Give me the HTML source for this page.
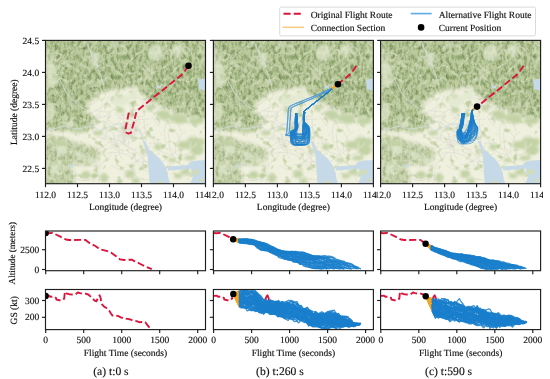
<!DOCTYPE html><html><head><meta charset="utf-8"><title>Flight routes</title>
<style>html,body{margin:0;padding:0;background:#fff;width:550px;height:379px;overflow:hidden}svg{display:block;text-rendering:geometricPrecision}</style></head><body>
<svg width="550" height="379" viewBox="0 0 550 379" font-family="'Liberation Serif', 'Times New Roman', serif" fill="#111">
<defs>
<g id="mapbase">
<defs>
<filter id="fhill" color-interpolation-filters="sRGB" filterUnits="userSpaceOnUse" x="-5" y="-5" width="170" height="155"><feGaussianBlur in="SourceGraphic" stdDeviation="2.2" result="h"/><feTurbulence type="turbulence" baseFrequency="0.075" numOctaves="2" seed="8" result="n1"/><feColorMatrix in="n1" type="matrix" values="0 0 0 0 0.86  0 0 0 0 0.89  0 0 0 0 0.78  -4 0 0 0 0.75" result="lt"/><feComposite in="lt" in2="h" operator="in" result="lti"/><feTurbulence type="fractalNoise" baseFrequency="0.32 0.2" numOctaves="3" seed="3" result="n2"/><feColorMatrix in="n2" type="matrix" values="0 0 0 0 0.46  0 0 0 0 0.56  0 0 0 0 0.34  2.2 0 0 0 -0.86" result="dk"/><feComposite in="dk" in2="h" operator="in" result="dki"/><feMerge result="m"><feMergeNode in="h"/><feMergeNode in="dki"/><feMergeNode in="lti"/></feMerge><feGaussianBlur in="m" stdDeviation="0.45"/></filter>
<filter id="fspk" color-interpolation-filters="sRGB" filterUnits="userSpaceOnUse" x="0" y="0" width="160" height="144"><feTurbulence type="fractalNoise" baseFrequency="0.13" numOctaves="2" seed="21" result="n"/><feColorMatrix in="n" type="matrix" values="0 0 0 0 0.74  0 0 0 0 0.81  0 0 0 0 0.62  4.5 0 0 0 -2.5"/><feGaussianBlur stdDeviation="0.5"/></filter>
<filter id="fb" filterUnits="userSpaceOnUse" x="-5" y="-5" width="170" height="155"><feGaussianBlur stdDeviation="1.6"/></filter>
<filter id="fw" filterUnits="userSpaceOnUse" x="-5" y="-5" width="170" height="155"><feGaussianBlur stdDeviation="0.6"/></filter>
</defs>
<rect x="0" y="0" width="160" height="143.3" fill="#f0f0df"/>
<rect x="0" y="0" width="160" height="143.3" filter="url(#fspk)"/>
<g fill="none" stroke="#d6d7cd" stroke-width="0.55" opacity="0.9">
<polyline points="109.4,56.8 113.8,58.8 120.1,64.4 123.0,67.5"/>
<polyline points="104.8,104.6 101.8,112.8 99.2,115.8 90.7,120.3 86.6,123.6 80.0,124.5"/>
<polyline points="135.4,108.3 125.5,114.6 119.1,120.1 110.6,122.8 102.0,121.8 97.9,120.2"/>
<polyline points="58.0,80.4 63.4,84.8 72.0,91.2 78.7,92.7"/>
<polyline points="113.3,117.1 109.8,121.1 105.4,124.1"/>
<polyline points="76.9,142.7 70.3,151.1 65.4,154.3 62.7,160.3"/>
<polyline points="63.0,73.4 56.0,77.4 46.9,78.0 42.4,80.4 34.3,82.0"/>
<polyline points="122.9,92.7 123.8,104.7 124.1,109.4 126.8,113.4 131.4,122.7"/>
<polyline points="82.3,60.3 86.2,71.4 85.8,75.4 82.4,84.3 80.0,89.9 77.4,94.0"/>
<polyline points="83.8,95.0 74.6,90.9 70.2,88.8 61.2,82.9 56.6,79.8"/>
<polyline points="76.2,69.0 68.3,69.2 62.3,72.5"/>
<polyline points="152.7,126.4 156.8,137.2 162.8,142.3 172.7,144.3"/>
<polyline points="125.2,66.0 129.1,76.3 131.6,81.4 135.5,90.5"/>
<polyline points="54.6,82.3 46.5,83.1 41.6,86.1 35.1,91.9 32.3,97.0"/>
<polyline points="38.4,110.8 40.2,114.9 46.5,121.9"/>
<polyline points="56.3,66.4 49.5,70.2 45.6,73.0 39.4,75.8 30.1,81.4 25.7,89.5"/>
<polyline points="110.3,60.0 108.0,65.0 105.5,72.0"/>
<polyline points="64.3,76.8 53.6,75.4 44.9,78.6 41.0,79.9 34.0,87.0 30.7,93.5"/>
<polyline points="89.7,131.6 79.0,136.7 71.3,143.6 66.1,148.8"/>
<polyline points="149.2,143.2 150.7,149.4 147.9,157.6 144.3,166.9 145.6,175.4 147.3,186.1"/>
<polyline points="49.2,140.1 53.6,138.9 60.7,140.1 67.2,145.6"/>
<polyline points="101.9,58.1 105.9,62.1 108.9,67.2 114.6,74.6 119.7,78.7"/>
<polyline points="123.5,61.1 126.9,65.6 136.1,72.5"/>
<polyline points="139.6,132.9 143.5,140.2 151.3,149.2 154.2,156.9"/>
<polyline points="113.0,104.0 108.2,102.4 103.4,103.1"/>
<polyline points="98.7,78.8 98.9,87.9 101.3,95.4 99.4,106.0 101.7,113.1"/>
<polyline points="64.1,54.9 60.8,61.7 55.4,68.2 52.8,79.5 50.5,84.2"/>
<polyline points="98.6,92.9 107.1,98.8 112.7,108.5 117.3,112.3 127.3,114.5"/>
<polyline points="140.0,90.8 135.4,94.5 130.6,103.7 129.9,110.9"/>
<polyline points="51.9,136.9 41.6,140.3 35.4,140.0 31.0,138.1 23.7,130.0 14.5,124.9"/>
<polyline points="87.0,81.8 81.8,89.4 79.0,95.0 79.4,105.2"/>
<polyline points="73.4,99.9 69.0,102.2 63.6,101.7 58.7,98.1 51.3,96.8"/>
<polyline points="120.6,82.5 118.9,91.0 119.8,100.6"/>
<polyline points="29.7,137.0 29.9,141.5 28.9,148.1 29.6,158.9"/>
<polyline points="119.5,81.3 126.4,87.9 130.1,92.0 133.8,98.0 135.1,103.3 136.3,110.4"/>
<polyline points="55.8,124.5 53.6,131.7 54.0,139.5 49.7,148.9 49.5,153.6"/>
<polyline points="93.9,110.9 95.7,116.5 98.3,119.7 104.8,124.1"/>
<polyline points="81.3,110.6 86.2,114.0 89.0,116.9 93.7,125.9 99.7,130.2 111.1,132.9"/>
<polyline points="94.2,59.1 102.0,66.0 109.1,75.6"/>
<polyline points="103.9,139.2 95.6,138.7 87.0,133.6 81.7,130.7 72.7,128.9 65.6,124.9"/>
<polyline points="107.8,79.0 114.5,78.5 118.8,80.3 125.9,80.2 131.0,77.7"/>
<polyline points="81.4,84.0 84.6,90.6 84.4,99.3"/>
<polyline points="116.4,130.8 108.1,138.8 104.3,144.8 95.1,150.3 86.4,154.9 75.3,156.4"/>
<polyline points="90.5,78.9 92.8,88.1 94.6,93.0 96.6,97.7 97.6,101.8 100.7,109.7"/>
<polyline points="32.9,111.8 39.0,112.1 46.5,110.8 56.8,107.0 66.3,100.2 74.3,93.2"/>
<polyline points="88.3,121.3 92.8,120.5 96.8,122.1 102.7,121.0 111.4,123.0"/>
<polyline points="59.3,96.7 65.1,98.6 73.8,100.0 81.1,106.4"/>
<polyline points="126.7,69.2 127.4,77.8 124.6,84.2"/>
<polyline points="103.5,128.5 106.8,136.7 115.7,144.6 119.0,150.5 122.8,156.3"/>
<polyline points="92.7,85.0 85.9,94.4 78.4,101.9 71.9,105.8 60.6,108.7 51.6,114.0"/>
<polyline points="96.8,97.6 99.2,103.1 98.5,109.3 98.1,119.3 96.8,128.5"/>
<polyline points="71.5,98.6 79.7,105.1 89.4,110.2 94.1,114.3 105.5,115.9 114.7,112.5"/>
<polyline points="90.6,122.1 88.5,125.6 86.4,132.6 86.6,141.9 88.0,150.2 92.3,161.4"/>
<polyline points="98.3,85.9 100.4,90.4 104.0,93.8 111.1,101.1 116.3,103.4"/>
<polyline points="90.0,119.1 80.7,113.9 74.0,112.2 64.4,112.0 60.4,113.8"/>
<polyline points="147.5,111.4 139.4,114.1 132.4,116.8"/>
<polyline points="52.5,59.2 48.9,61.9 42.1,67.2 37.4,69.4 25.8,70.1 20.7,73.2"/>
<polyline points="99.3,91.6 95.1,97.3 89.3,100.1 82.3,102.6"/>
<polyline points="100.6,60.0 95.4,57.7 86.1,57.1"/>
<polyline points="49.1,70.1 58.6,71.3 62.8,71.6"/>
<polyline points="65.5,79.8 54.4,82.2 45.5,81.0"/>
<polyline points="112.1,137.7 112.8,148.9 111.3,153.3 111.7,159.7"/>
<polyline points="123.1,105.3 127.3,110.2 131.8,114.4"/>
<polyline points="64.0,81.9 69.5,83.2 73.9,83.2 81.3,86.7"/>
<polyline points="72.0,77.6 78.3,78.6"/>
<polyline points="83.1,81.4 76.7,87.5 72.4,91.8"/>
<polyline points="82.1,88.2 76.7,93.1 71.4,98.8"/>
<polyline points="84.3,88.6 92.3,90.9 95.6,93.2"/>
<polyline points="72.6,85.4 77.2,90.9 79.3,95.4"/>
<polyline points="88.1,79.9 84.7,86.1 83.5,90.7 81.6,97.2"/>
<polyline points="103.0,83.5 96.1,88.0 89.8,92.1 85.2,95.0"/>
<polyline points="85.4,83.7 85.9,90.2 83.3,98.1 82.7,106.0"/>
<polyline points="89.6,79.8 97.7,78.8 105.0,78.4"/>
<polyline points="63.5,88.4 67.4,92.7 69.9,100.7 69.0,105.8"/>
<polyline points="84.1,76.5 89.1,83.5 95.2,90.1 98.3,96.6"/>
<polyline points="82.6,83.5 84.9,87.3 85.5,91.3"/>
<polyline points="98.4,65.4 104.1,65.3 111.2,66.6"/>
<polyline points="90.8,68.7 84.4,72.8 76.4,75.4 73.3,78.4"/>
<polyline points="112.9,68.1 120.7,67.8"/>
<polyline points="82.3,88.2 85.2,93.0"/>
<polyline points="68.5,92.8 68.3,100.3 69.8,104.9 70.9,110.7"/>
<polyline points="60.6,84.8 60.8,91.1 59.6,99.5"/>
<polyline points="73.0,96.8 81.9,96.5 90.5,94.5"/>
<polyline points="66.7,86.9 62.5,89.9"/>
<polyline points="67.2,111.1 62.5,118.0 55.8,123.7 48.3,125.9"/>
<polyline points="93.5,74.7 93.2,79.8 94.5,84.9"/>
<polyline points="78.5,69.6 77.9,76.8 78.6,83.0 78.9,90.6"/>
<polyline points="70.9,100.5 72.4,108.8 74.4,115.0 76.9,119.1"/>
<polyline points="106.0,75.6 110.7,82.1 113.3,85.6"/>
<polyline points="79.3,99.4 74.3,102.5 70.4,103.6 64.3,105.1"/>
<polyline points="69.0,72.9 74.4,76.3"/>
<polyline points="86.5,81.5 85.8,89.6 83.2,94.4 81.3,98.7"/>
<polyline points="71.8,95.6 76.4,94.8 83.6,93.3 92.4,93.7"/>
<polyline points="76.2,78.8 71.0,83.6 65.8,85.3"/>
<polyline points="79.2,95.2 77.3,103.9"/>
<polyline points="90.6,76.3 99.4,75.7"/>
<polyline points="78.9,80.7 78.1,89.5 80.1,94.8 79.2,102.7"/>
<polyline points="83.8,73.5 82.8,79.0"/>
<polyline points="77.2,84.2 75.7,89.2 76.0,96.5 78.0,100.1"/>
<polyline points="77.3,93.4 78.4,101.1"/>
<polyline points="76.1,73.2 80.5,77.8"/>
<polyline points="62.0,73.9 65.1,76.9"/>
<polyline points="61.6,93.4 58.3,96.3 55.3,102.7"/>
<polyline points="73.8,98.6 78.8,103.0 84.3,107.4 91.5,109.5"/>
<polyline points="64.5,70.7 64.8,76.8"/>
<polyline points="60.9,94.2 64.7,97.8 67.4,104.8 69.0,108.9"/>
</g>
<g filter="url(#fhill)" fill="#bccb9d">
<polygon points="-5.5,-5.4 164.5,-5.4 164.5,78.6 149.5,76.6 134.5,72.6 122.5,67.6 112.5,63.6 104.5,59.6 98.5,54.6 94.2,47.6 87.5,45.6 79.5,47.2 65.0,49.4 54.8,51.6 47.5,57.4 41.7,63.2 38.8,71.6 46.0,74.6 46.5,81.6 47.5,87.6 34.5,90.1 14.5,89.6 -5.5,89.6"/>
</g>
<g filter="url(#fhill)" fill="#bccb9d" opacity="0.72">
<polygon points="-5.5,96.6 9.5,96.6 22.5,99.6 32.5,103.6 44.5,106.6 52.5,109.6 53.5,117.6 49.5,122.6 39.5,124.6 29.5,122.6 24.5,127.6 26.5,143.6 -5.5,149.6"/>
<polygon points="-5.5,117.6 14.5,119.6 26.5,127.6 28.5,149.6 -5.5,149.6"/>
</g>
<g filter="url(#fb)" fill="#c3d3a6">
<ellipse cx="58.5" cy="137.6" rx="4" ry="5"/>
<ellipse cx="117.5" cy="73.6" rx="7" ry="4"/>
<ellipse cx="132.5" cy="77.6" rx="9" ry="4"/>
<ellipse cx="150.5" cy="80.6" rx="8" ry="3.5"/>
<ellipse cx="104.5" cy="67.6" rx="4" ry="3"/>
<ellipse cx="139.5" cy="131.6" rx="5" ry="3"/>
<ellipse cx="132.5" cy="135.6" rx="4" ry="2.5"/>
<ellipse cx="144.5" cy="117.6" rx="6" ry="2.5"/>
<ellipse cx="126.5" cy="119.6" rx="4" ry="2"/>
<ellipse cx="84.5" cy="133.6" rx="5" ry="4"/>
<ellipse cx="90.5" cy="140.6" rx="4" ry="3"/>
<ellipse cx="14.5" cy="102.6" rx="7" ry="3"/>
<ellipse cx="40.5" cy="134.6" rx="5" ry="4"/>
<ellipse cx="32.5" cy="89.6" rx="6" ry="3"/>
<ellipse cx="52.5" cy="92.6" rx="5" ry="2.5"/>
<ellipse cx="138.5" cy="104.6" rx="7" ry="4"/>
<ellipse cx="151.5" cy="109.6" rx="7" ry="5"/>
<ellipse cx="146.5" cy="99.6" rx="5" ry="3"/>
<ellipse cx="154.5" cy="101.6" rx="5" ry="4"/>
<ellipse cx="119.5" cy="75.6" rx="6" ry="4"/>
<ellipse cx="134.5" cy="80.6" rx="6" ry="3"/>
<ellipse cx="112.5" cy="106.6" rx="4" ry="3"/>
<ellipse cx="74.5" cy="69.6" rx="4" ry="3"/>
</g>
<g filter="url(#fb)" fill="#dfe7cc">
<ellipse cx="4.5" cy="29.6" rx="6" ry="9" fill-opacity="0.75"/>
<ellipse cx="6.5" cy="41.6" rx="5" ry="5" fill-opacity="0.75"/>
<ellipse cx="4.5" cy="71.6" rx="5" ry="10" fill-opacity="0.75"/>
<ellipse cx="110.5" cy="12.6" rx="8" ry="8" fill-opacity="0.75"/>
<ellipse cx="74.5" cy="59.6" rx="10" ry="6" fill-opacity="0.75"/>
<ellipse cx="87.5" cy="54.6" rx="5" ry="5" fill-opacity="0.75"/>
<ellipse cx="24.5" cy="83.6" rx="8" ry="3" fill-opacity="0.75"/>
<ellipse cx="49.5" cy="19.6" rx="4" ry="8" fill-opacity="0.75"/>
<ellipse cx="132.5" cy="9.6" rx="5" ry="6" fill-opacity="0.75"/>
<ellipse cx="16.5" cy="109.6" rx="6" ry="4" fill-opacity="0.75"/>
<ellipse cx="34.5" cy="114.6" rx="5" ry="4" fill-opacity="0.75"/>
<ellipse cx="9.5" cy="129.6" rx="5" ry="5" fill-opacity="0.75"/>
<ellipse cx="44.5" cy="119.6" rx="5" ry="3" fill-opacity="0.75"/>
</g>
<g fill="none" stroke="#d3dcdc" stroke-width="0.9" stroke-linejoin="round" opacity="0.9">
<polyline points="-5.5,91.6 4.5,89.6 18.5,85.6 28.0,88.6 37.5,87.6 48.9,85.6 52.5,90.6 58.5,88.6 69.5,84.6 79.5,82.6 89.5,85.6 94.2,90.6 98.5,99.6"/>
<polyline points="39.5,-2.4 43.5,7.6 47.5,17.6 51.5,25.6 55.5,35.6 58.5,45.6"/>
<polyline points="14.5,39.6 20.5,51.6 26.5,59.6 34.5,65.6 40.5,69.6"/>
</g>
<g filter="url(#fw)" fill="#c6d9e8">
<polygon points="98.0,100.6 100.0,101.1 102.0,105.6 104.0,109.6 106.5,112.1 110.0,114.6 113.5,117.6 116.5,121.1 119.0,124.6 120.5,128.6 122.1,133.2 123.3,139.2 124.5,143.6 126.5,149.6 102.5,149.6 104.1,142.2 103.5,135.6 103.1,129.6 102.9,123.6 102.3,116.6 101.0,110.6 99.5,105.6 97.5,101.6"/>
<polygon points="144.9,121.1 152.5,120.1 160.5,119.6 164.5,119.6 164.5,149.6 144.5,149.6 145.5,141.6 147.5,135.6 145.5,129.6 143.5,124.6"/>
<polygon points="122.5,126.1 130.5,125.6 138.5,125.1 144.5,124.1 144.5,128.1 136.5,129.1 129.5,129.6 122.5,130.1"/>
<polygon points="152.5,39.6 160.5,37.6 160.5,50.6 153.5,48.6"/>
<polygon points="111.2,45.9 115.5,45.4 115.5,48.1 111.5,48.2"/>
<polygon points="24.5,124.1 27.5,123.6 27.5,126.6 24.5,126.6"/>
</g>
<g fill="#cfdcbc">
<ellipse cx="150.5" cy="131.6" rx="3.5" ry="3"/>
<ellipse cx="155.5" cy="139.6" rx="3" ry="1.5"/>
<ellipse cx="114.5" cy="141.6" rx="3" ry="1.5"/>
</g>
</g>
<clipPath id="cm0"><rect x="45.5" y="40.4" width="160.0" height="143.30"/></clipPath>
<clipPath id="ca0"><rect x="45.5" y="231.0" width="160.0" height="39.70"/></clipPath>
<clipPath id="cg0"><rect x="45.5" y="289.5" width="160.0" height="40.10"/></clipPath>
<clipPath id="cm1"><rect x="213.4" y="40.4" width="160.0" height="143.30"/></clipPath>
<clipPath id="ca1"><rect x="213.4" y="231.0" width="160.0" height="39.70"/></clipPath>
<clipPath id="cg1"><rect x="213.4" y="289.5" width="160.0" height="40.10"/></clipPath>
<clipPath id="cm2"><rect x="380.6" y="40.4" width="160.0" height="143.30"/></clipPath>
<clipPath id="ca2"><rect x="380.6" y="231.0" width="160.0" height="39.70"/></clipPath>
<clipPath id="cg2"><rect x="380.6" y="289.5" width="160.0" height="40.10"/></clipPath>
</defs>
<g clip-path="url(#cm0)"><use href="#mapbase" x="45.5" y="40.4"/></g>
<g clip-path="url(#cm1)"><use href="#mapbase" x="213.4" y="40.4"/></g>
<g clip-path="url(#cm2)"><use href="#mapbase" x="380.6" y="40.4"/></g>
<g clip-path="url(#cm0)">
<polyline points="188.5,65.8 185.0,70.8 181.7,74.8 165.0,88.2 154.6,96.6 138.1,109.8 136.1,113.1 134.1,121.7 132.2,128.3 130.8,132.9 128.2,133.5 125.6,132.2 125.6,128.3 127.5,119.0 128.9,112.4" fill="none" stroke="#dc143c" stroke-width="1.9" stroke-linejoin="round" stroke-dasharray="7,3"/>
</g>
<g clip-path="url(#cm1)">
<polyline points="356.4,65.8 352.9,70.8 349.6,74.8 338.0,84.1" fill="none" stroke="#dc143c" stroke-width="1.9" stroke-linejoin="round" stroke-dasharray="7,3"/>
</g>
<g clip-path="url(#cm2)">
<polyline points="523.6,65.8 520.1,70.8 516.8,74.8 500.1,88.2 489.7,96.6 477.1,106.7" fill="none" stroke="#dc143c" stroke-width="1.9" stroke-linejoin="round" stroke-dasharray="7,3"/>
</g>
<g clip-path="url(#cm1)">
<polyline points="332.0,88.2 329.5,89.3 325.9,90.9 321.7,92.8 317.2,94.7 313.0,96.5 308.6,98.3 303.8,100.3 299.1,102.1 294.9,103.8 291.8,105.3 289.9,106.2 289.1,106.8 288.8,107.2 288.8,107.8 288.6,108.8 288.3,110.2 288.1,112.0 288.0,113.9 287.9,116.0 287.8,118.0 287.6,120.2 287.4,122.6 287.3,125.0 287.1,127.2 287.0,129.0 286.8,130.4 286.7,131.4 286.6,132.2 286.5,132.9 286.4,133.5 286.1,134.0 285.8,134.3 285.5,134.5 285.3,134.6 285.5,134.8 286.1,135.0 286.9,135.3 288.0,135.5 289.0,135.6 290.0,135.5 290.9,135.3 291.8,134.9 292.6,134.4 293.4,133.8 294.0,133.0 294.5,132.0 294.9,130.9 295.2,129.6 295.4,128.3 295.6,127.0 295.8,125.7 295.9,124.3 295.9,122.8 295.9,121.4 296.0,120.0 296.1,118.5 296.1,117.0 296.2,115.5 296.3,114.3 296.3,113.4" fill="none" stroke="#4a9ad8" stroke-width="1.0" stroke-linejoin="round" stroke-opacity="0.6"/>
<polyline points="332.0,88.6 329.4,89.9 325.8,91.8 321.6,94.0 317.2,96.2 313.0,98.2 308.8,100.1 304.3,102.0 299.9,103.8 296.0,105.4 293.2,106.7 291.6,107.4 291.0,107.7 290.9,107.8 291.0,108.0 290.9,108.8 290.7,110.2 290.5,111.9 290.4,113.9 290.3,115.9 290.1,118.0 290.0,120.2 289.8,122.6 289.7,125.0 289.5,127.2 289.3,129.0 289.3,130.4 289.2,131.4 289.2,132.2 289.0,132.9 288.7,133.5 288.1,134.0 287.3,134.3 286.4,134.5 285.7,134.6 285.5,134.8 285.9,135.0 286.8,135.3 287.9,135.5 289.0,135.6 290.0,135.5 290.9,135.3 291.8,134.9 292.6,134.4 293.4,133.8 294.0,133.0 294.5,132.0 294.9,130.9 295.2,129.6 295.4,128.3 295.6,127.0 295.8,125.7 295.9,124.3 295.9,122.8 295.9,121.4 296.0,120.0 296.1,118.5 296.1,117.0 296.2,115.5 296.3,114.3 296.3,113.4" fill="none" stroke="#4a9ad8" stroke-width="1.0" stroke-linejoin="round" stroke-opacity="0.6"/>
<polyline points="332.0,88.2 329.5,89.3 325.9,90.9 321.7,92.8 317.2,94.8 313.0,96.6 308.6,98.4 303.8,100.3 299.1,102.2 294.9,103.9 291.8,105.3 290.0,106.3 289.2,106.8 288.9,107.2 288.9,107.8 288.7,108.8 288.4,110.2 288.2,112.0 288.1,113.9 288.0,116.0 287.9,118.0 287.7,120.2 287.5,122.6 287.4,125.0 287.2,127.2 287.1,129.0 287.0,130.4 286.8,131.4 286.7,132.2 286.6,132.9 286.5,133.5 286.2,134.0 285.9,134.3 285.5,134.5 285.4,134.6 285.5,134.8 286.1,135.0 286.9,135.3 288.0,135.5 289.0,135.6 290.0,135.5 290.9,135.3 291.8,134.9 292.6,134.4 293.4,133.8 294.0,133.0 294.5,132.0 294.9,130.9 295.2,129.6 295.4,128.3 295.6,127.0 295.8,125.7 295.9,124.3 295.9,122.8 295.9,121.4 296.0,120.0 296.1,118.5 296.1,117.0 296.2,115.5 296.3,114.3 296.3,113.4" fill="none" stroke="#4a9ad8" stroke-width="1.0" stroke-linejoin="round" stroke-opacity="0.6"/>
<polyline points="332.0,88.7 329.4,90.0 325.8,91.9 321.6,94.1 317.2,96.3 313.0,98.3 308.8,100.2 304.3,102.1 299.9,103.9 296.1,105.5 293.3,106.8 291.7,107.5 291.1,107.7 291.0,107.8 291.1,108.0 291.1,108.8 290.8,110.2 290.6,111.9 290.5,113.8 290.4,115.9 290.3,118.0 290.1,120.2 289.9,122.6 289.8,125.0 289.6,127.2 289.5,129.0 289.4,130.4 289.3,131.4 289.3,132.2 289.2,132.9 288.9,133.5 288.2,134.0 287.3,134.3 286.4,134.5 285.7,134.6 285.5,134.8 285.9,135.0 286.8,135.3 287.9,135.5 289.0,135.6 290.0,135.5 290.9,135.3 291.8,134.9 292.6,134.4 293.4,133.8 294.0,133.0 294.5,132.0 294.9,130.9 295.2,129.6 295.4,128.3 295.6,127.0 295.8,125.7 295.9,124.3 295.9,122.8 295.9,121.4 296.0,120.0 296.1,118.5 296.1,117.0 296.2,115.5 296.3,114.3 296.3,113.4" fill="none" stroke="#4a9ad8" stroke-width="1.0" stroke-linejoin="round" stroke-opacity="0.6"/>
<polyline points="332.0,88.2 329.5,89.3 325.9,90.9 321.7,92.8 317.2,94.8 313.0,96.6 308.6,98.4 303.8,100.3 299.1,102.2 294.9,103.9 291.8,105.3 290.0,106.2 289.1,106.8 288.9,107.2 288.8,107.8 288.6,108.8 288.3,110.2 288.2,112.0 288.1,113.9 288.0,116.0 287.8,118.0 287.7,120.2 287.5,122.6 287.3,125.0 287.2,127.2 287.0,129.0 286.9,130.4 286.8,131.4 286.7,132.2 286.6,132.9 286.4,133.5 286.2,134.0 285.8,134.3 285.5,134.5 285.3,134.6 285.5,134.8 286.1,135.0 286.9,135.3 288.0,135.5 289.0,135.6 290.0,135.5 290.9,135.3 291.8,134.9 292.6,134.4 293.4,133.8 294.0,133.0 294.5,132.0 294.9,130.9 295.2,129.6 295.4,128.3 295.6,127.0 295.8,125.7 295.9,124.3 295.9,122.8 295.9,121.4 296.0,120.0 296.1,118.5 296.1,117.0 296.2,115.5 296.3,114.3 296.3,113.4" fill="none" stroke="#4a9ad8" stroke-width="1.0" stroke-linejoin="round" stroke-opacity="0.6"/>
<polyline points="332.0,88.7 329.4,90.0 325.8,91.9 321.6,94.0 317.2,96.3 313.0,98.3 308.8,100.1 304.3,102.1 299.9,103.9 296.1,105.5 293.3,106.8 291.7,107.5 291.0,107.7 291.0,107.8 291.1,108.0 291.1,108.8 290.8,110.2 290.6,111.9 290.5,113.8 290.4,115.9 290.3,118.0 290.1,120.2 289.9,122.6 289.8,125.0 289.6,127.2 289.5,129.0 289.4,130.4 289.3,131.4 289.3,132.2 289.1,132.9 288.9,133.5 288.2,134.0 287.3,134.3 286.4,134.5 285.7,134.6 285.5,134.8 285.9,135.0 286.8,135.3 287.9,135.5 289.0,135.6 290.0,135.5 290.9,135.3 291.8,134.9 292.6,134.4 293.4,133.8 294.0,133.0 294.5,132.0 294.9,130.9 295.2,129.6 295.4,128.3 295.6,127.0 295.8,125.7 295.9,124.3 295.9,122.8 295.9,121.4 296.0,120.0 296.1,118.5 296.1,117.0 296.2,115.5 296.3,114.3 296.3,113.4" fill="none" stroke="#4a9ad8" stroke-width="1.0" stroke-linejoin="round" stroke-opacity="0.6"/>
<polyline points="332.9,88.2 331.6,89.3 329.8,90.7 327.6,92.5 325.1,94.5 322.5,96.6 319.3,99.1 315.6,102.0 311.8,105.0 308.4,107.7 306.0,109.8 304.8,111.0 304.4,111.6 304.5,111.9 304.7,112.3 304.7,113.1 304.4,114.4 304.1,116.0 303.8,117.7 303.6,119.4 303.3,121.0 303.2,122.4 303.0,123.7 302.9,124.9 302.8,126.3 302.7,127.9 302.7,129.9 302.8,132.1 302.8,134.4 302.8,136.5 302.7,138.2 302.4,139.3 302.0,140.0 301.5,140.5 301.1,140.9 300.7,141.2 300.4,141.4 300.2,141.6 300.1,141.6 299.9,141.6 299.7,141.6 299.4,141.6 299.1,141.6 298.8,141.6 298.4,141.4 298.1,141.2 297.8,140.8 297.5,140.3 297.1,139.7 296.8,139.0 296.6,138.2 296.5,137.1 296.5,135.8 296.6,134.4 296.6,133.1 296.6,132.0 296.6,131.3 296.6,130.9 296.5,130.5 296.5,129.9 296.5,129.0 296.5,127.6 296.5,125.7 296.5,123.7 296.5,121.8 296.5,120.0 296.5,118.4 296.4,116.7 296.4,115.2 296.4,113.9 296.4,113.0" fill="none" stroke="#1a7fcc" stroke-width="1.0" stroke-linejoin="round" stroke-opacity="0.6"/>
<polyline points="332.9,88.2 331.6,89.3 329.8,90.7 327.6,92.5 325.1,94.5 322.5,96.6 319.4,99.1 315.6,102.0 311.9,105.0 308.5,107.7 306.0,109.8 304.6,111.0 304.0,111.6 303.9,111.9 303.9,112.3 303.9,113.1 303.7,114.4 303.6,115.9 303.5,117.6 303.5,119.3 303.5,121.0 303.6,122.6 303.8,124.3 304.0,126.0 304.1,127.6 304.2,129.2 304.3,130.9 304.4,132.7 304.4,134.4 304.4,135.9 304.2,137.2 304.0,138.1 303.6,138.9 303.2,139.4 302.7,139.8 302.2,140.2 301.7,140.4 301.1,140.6 300.5,140.6 299.9,140.6 299.2,140.6 298.5,140.6 297.8,140.6 297.0,140.6 296.3,140.4 295.7,140.2 295.3,139.8 294.9,139.3 294.6,138.7 294.4,138.0 294.2,137.2 294.1,136.3 294.1,135.2 294.1,134.0 294.2,132.9 294.2,132.0 294.3,131.4 294.5,130.9 294.6,130.5 294.7,129.9 294.8,129.0 294.9,127.6 294.8,125.7 294.8,123.7 294.8,121.8 294.8,120.0 295.0,118.4 295.2,116.7 295.5,115.2 295.7,113.9 295.9,113.0" fill="none" stroke="#1a7fcc" stroke-width="1.0" stroke-linejoin="round" stroke-opacity="0.6"/>
<polyline points="332.9,88.2 331.6,89.3 329.8,90.7 327.6,92.5 325.1,94.5 322.5,96.6 319.4,99.1 315.6,102.0 311.8,105.0 308.4,107.7 306.0,109.8 304.7,111.0 304.2,111.6 304.2,111.9 304.4,112.3 304.3,113.1 304.0,114.4 303.6,116.0 303.3,117.8 303.2,119.5 303.4,121.0 304.0,122.1 305.0,122.9 306.1,123.8 307.2,124.9 307.9,126.5 308.2,129.0 308.3,132.3 308.2,135.7 308.1,138.9 307.9,141.2 307.6,142.6 307.3,143.4 306.9,143.8 306.4,144.0 305.9,144.2 305.2,144.5 304.4,144.6 303.5,144.7 302.7,144.6 301.8,144.6 300.8,144.6 299.8,144.7 298.8,144.6 297.9,144.5 297.2,144.2 296.7,143.9 296.3,143.5 296.0,143.0 295.8,142.3 295.7,141.2 295.6,139.7 295.6,137.7 295.6,135.5 295.7,133.5 295.7,132.0 295.6,131.1 295.5,130.6 295.4,130.3 295.2,129.9 295.2,129.0 295.1,127.6 295.1,125.7 295.1,123.7 295.1,121.8 295.2,120.0 295.3,118.4 295.5,116.7 295.7,115.2 295.8,113.9 296.0,113.0" fill="none" stroke="#1a7fcc" stroke-width="1.0" stroke-linejoin="round" stroke-opacity="0.6"/>
<polyline points="332.9,88.2 331.6,89.3 329.8,90.7 327.6,92.5 325.1,94.5 322.5,96.6 319.3,99.1 315.6,102.0 311.8,105.0 308.4,107.7 306.0,109.8 304.8,111.0 304.4,111.6 304.4,111.9 304.7,112.3 304.6,113.1 304.3,114.4 303.9,115.9 303.5,117.6 303.4,119.3 303.5,121.0 304.2,122.6 305.4,124.2 306.6,125.8 307.8,127.5 308.6,129.4 309.0,131.6 309.1,134.2 309.0,136.7 308.8,139.0 308.6,140.8 308.4,142.0 308.2,142.8 307.8,143.2 307.3,143.6 306.6,143.8 305.6,144.1 304.4,144.2 303.0,144.3 301.6,144.3 300.3,144.2 298.8,144.3 297.3,144.3 295.8,144.2 294.4,144.1 293.4,143.8 292.7,143.5 292.3,143.1 292.1,142.6 292.0,141.9 291.9,140.8 291.7,139.4 291.5,137.5 291.4,135.4 291.5,133.5 291.9,132.0 292.7,131.1 294.0,130.7 295.3,130.4 296.5,129.9 297.4,129.0 297.7,127.6 297.8,125.7 297.7,123.7 297.5,121.8 297.4,120.0 297.2,118.4 297.1,116.7 296.9,115.2 296.7,113.9 296.6,113.0" fill="none" stroke="#1a7fcc" stroke-width="1.0" stroke-linejoin="round" stroke-opacity="0.6"/>
<polyline points="332.9,88.2 331.6,89.3 329.8,90.7 327.6,92.5 325.1,94.5 322.5,96.6 319.4,99.1 315.6,102.0 311.8,105.0 308.4,107.7 306.0,109.8 304.7,111.0 304.2,111.6 304.2,111.9 304.4,112.3 304.4,113.1 304.3,114.4 304.2,115.9 304.2,117.6 304.2,119.3 304.4,121.0 304.6,122.7 305.1,124.4 305.6,126.0 306.0,127.7 306.3,129.2 306.4,130.6 306.5,131.9 306.5,133.2 306.4,134.3 306.3,135.3 306.1,136.1 305.8,136.9 305.4,137.4 304.9,137.9 304.3,138.3 303.4,138.6 302.4,138.7 301.3,138.7 300.2,138.7 299.1,138.7 297.9,138.7 296.6,138.7 295.3,138.7 294.2,138.6 293.3,138.3 292.7,137.9 292.4,137.3 292.1,136.6 292.0,136.0 291.8,135.3 291.6,134.7 291.5,134.0 291.4,133.3 291.5,132.6 291.8,132.0 292.7,131.5 293.9,131.1 295.2,130.6 296.4,130.0 297.2,129.0 297.6,127.6 297.7,125.7 297.6,123.7 297.4,121.8 297.2,120.0 297.1,118.4 297.0,116.7 296.8,115.2 296.7,113.9 296.6,113.0" fill="none" stroke="#1a7fcc" stroke-width="1.0" stroke-linejoin="round" stroke-opacity="0.6"/>
<polyline points="332.9,88.2 331.6,89.3 329.8,90.7 327.6,92.5 325.1,94.5 322.5,96.6 319.4,99.1 315.7,102.0 311.9,105.0 308.5,107.7 306.0,109.8 304.6,111.0 303.9,111.6 303.8,111.9 303.8,112.3 303.7,113.1 303.5,114.4 303.4,116.0 303.4,117.7 303.5,119.4 303.6,121.0 303.7,122.4 303.9,123.8 304.2,125.1 304.4,126.6 304.6,128.3 304.7,130.4 304.8,132.9 304.8,135.4 304.7,137.6 304.6,139.4 304.4,140.6 304.1,141.3 303.7,141.8 303.2,142.1 302.6,142.4 301.9,142.7 301.0,142.8 300.0,142.8 299.1,142.8 298.1,142.8 297.1,142.8 296.0,142.8 294.9,142.8 293.9,142.7 293.1,142.4 292.5,142.0 292.2,141.6 291.9,141.0 291.7,140.3 291.6,139.4 291.4,138.1 291.3,136.5 291.2,134.9 291.3,133.3 291.6,132.0 292.1,131.2 292.9,130.8 293.8,130.4 294.6,129.9 295.2,129.0 295.4,127.6 295.4,125.7 295.3,123.7 295.2,121.8 295.2,120.0 295.3,118.4 295.5,116.7 295.7,115.2 295.8,113.9 296.0,113.0" fill="none" stroke="#1a7fcc" stroke-width="1.0" stroke-linejoin="round" stroke-opacity="0.6"/>
<polyline points="332.9,88.2 331.6,89.3 329.8,90.7 327.6,92.5 325.1,94.5 322.5,96.6 319.3,99.1 315.6,102.0 311.8,105.0 308.4,107.7 306.0,109.8 304.7,111.0 304.3,111.6 304.4,111.9 304.6,112.3 304.6,113.1 304.4,114.4 304.2,116.0 304.1,117.7 304.0,119.4 303.8,121.0 303.5,122.4 303.2,123.6 303.0,124.8 302.7,126.1 302.5,127.4 302.5,129.0 302.5,130.7 302.6,132.4 302.6,134.0 302.5,135.3 302.3,136.3 301.9,137.0 301.5,137.5 301.0,137.9 300.5,138.3 300.0,138.6 299.4,138.7 298.9,138.7 298.2,138.7 297.6,138.7 296.9,138.7 296.2,138.7 295.4,138.7 294.8,138.6 294.2,138.3 293.7,137.9 293.4,137.3 293.1,136.6 292.9,136.0 292.7,135.3 292.6,134.7 292.4,134.0 292.4,133.3 292.5,132.6 292.7,132.0 293.1,131.5 293.8,131.1 294.5,130.6 295.2,130.0 295.6,129.0 295.8,127.6 295.8,125.7 295.7,123.7 295.6,121.8 295.6,120.0 295.7,118.4 295.8,116.7 295.9,115.2 296.0,113.9 296.1,113.0" fill="none" stroke="#1a7fcc" stroke-width="1.0" stroke-linejoin="round" stroke-opacity="0.6"/>
<polyline points="332.9,88.2 331.6,89.3 329.8,90.7 327.6,92.5 325.1,94.5 322.5,96.6 319.4,99.1 315.7,102.0 311.9,105.0 308.5,107.7 306.0,109.8 304.6,111.0 303.9,111.6 303.7,111.9 303.7,112.3 303.6,113.1 303.5,114.4 303.5,115.9 303.7,117.6 303.9,119.3 304.1,121.0 304.4,122.6 304.8,124.3 305.2,126.0 305.6,127.6 305.9,129.0 306.0,130.4 306.1,131.7 306.1,132.9 306.0,133.9 305.9,134.9 305.7,135.7 305.4,136.4 305.0,137.0 304.5,137.5 303.9,137.9 303.0,138.2 301.9,138.3 300.8,138.3 299.6,138.3 298.4,138.3 297.1,138.3 295.8,138.3 294.5,138.3 293.3,138.2 292.4,137.9 291.8,137.5 291.4,136.9 291.1,136.2 291.0,135.5 290.9,134.9 290.7,134.3 290.5,133.7 290.3,133.2 290.4,132.6 290.9,132.0 291.9,131.5 293.3,131.1 294.9,130.6 296.4,130.0 297.3,129.0 297.8,127.6 297.8,125.7 297.7,123.7 297.5,121.8 297.3,120.0 297.2,118.4 297.1,116.7 296.9,115.2 296.7,113.9 296.6,113.0" fill="none" stroke="#1a7fcc" stroke-width="1.0" stroke-linejoin="round" stroke-opacity="0.6"/>
<polyline points="332.9,88.2 331.6,89.3 329.8,90.7 327.6,92.5 325.1,94.5 322.5,96.6 319.4,99.1 315.7,102.0 311.9,105.0 308.5,107.7 306.0,109.8 304.6,111.0 303.9,111.6 303.7,111.9 303.7,112.3 303.6,113.1 303.4,114.4 303.3,116.0 303.3,117.8 303.3,119.5 303.3,121.0 303.1,122.3 303.0,123.5 302.8,124.7 302.7,125.8 302.6,127.0 302.6,128.4 302.7,129.8 302.7,131.2 302.7,132.5 302.6,133.6 302.4,134.5 302.0,135.2 301.6,135.8 301.1,136.2 300.6,136.6 300.1,136.9 299.6,137.0 299.0,137.0 298.4,137.0 297.8,137.0 297.1,137.0 296.4,137.0 295.6,137.0 294.9,136.9 294.4,136.6 293.9,136.2 293.6,135.5 293.3,134.8 293.1,134.2 292.9,133.6 292.7,133.2 292.6,132.9 292.6,132.7 292.6,132.4 292.9,132.0 293.4,131.6 294.2,131.2 295.0,130.7 295.8,130.0 296.3,129.0 296.5,127.6 296.6,125.7 296.5,123.7 296.4,121.8 296.3,120.0 296.3,118.4 296.3,116.7 296.3,115.2 296.3,113.9 296.3,113.0" fill="none" stroke="#1a7fcc" stroke-width="1.0" stroke-linejoin="round" stroke-opacity="0.6"/>
<polyline points="332.9,88.2 331.6,89.3 329.8,90.7 327.6,92.5 325.1,94.5 322.5,96.6 319.3,99.1 315.6,102.0 311.8,105.0 308.4,107.7 306.0,109.8 304.8,111.0 304.4,111.6 304.5,111.9 304.7,112.3 304.7,113.1 304.4,114.4 304.0,116.0 303.6,117.7 303.4,119.4 303.6,121.0 304.4,122.3 305.6,123.4 307.0,124.5 308.3,125.8 309.2,127.6 309.6,130.0 309.7,132.9 309.6,136.0 309.4,138.8 309.2,141.0 309.0,142.3 308.7,143.0 308.3,143.4 307.8,143.7 307.2,144.0 306.4,144.2 305.5,144.3 304.4,144.4 303.4,144.4 302.3,144.4 301.2,144.4 300.0,144.4 298.8,144.3 297.7,144.2 296.9,144.0 296.3,143.6 296.0,143.2 295.7,142.7 295.6,142.0 295.4,141.0 295.3,139.4 295.2,137.5 295.2,135.4 295.3,133.5 295.4,132.0 295.7,131.1 296.1,130.7 296.5,130.3 296.9,129.9 297.2,129.0 297.3,127.6 297.4,125.7 297.3,123.7 297.3,121.8 297.2,120.0 297.1,118.4 297.0,116.7 296.8,115.2 296.7,113.9 296.6,113.0" fill="none" stroke="#1a7fcc" stroke-width="1.0" stroke-linejoin="round" stroke-opacity="0.6"/>
<polyline points="332.9,88.2 331.6,89.3 329.8,90.7 327.6,92.5 325.1,94.5 322.5,96.6 319.3,99.1 315.6,102.0 311.8,105.0 308.4,107.7 306.0,109.8 304.7,111.0 304.3,111.6 304.3,111.9 304.5,112.3 304.6,113.1 304.4,114.4 304.2,116.0 304.1,117.8 304.1,119.5 304.2,121.0 304.5,122.2 304.9,123.3 305.4,124.4 305.9,125.4 306.2,126.6 306.3,128.0 306.4,129.6 306.4,131.2 306.3,132.6 306.2,133.8 306.0,134.7 305.7,135.4 305.3,136.0 304.8,136.4 304.2,136.8 303.3,137.1 302.3,137.2 301.1,137.2 299.9,137.2 298.7,137.2 297.5,137.2 296.1,137.2 294.8,137.2 293.6,137.1 292.7,136.8 292.1,136.4 291.7,135.7 291.5,135.0 291.3,134.4 291.2,133.8 291.0,133.4 290.8,133.1 290.7,132.8 290.8,132.4 291.2,132.0 292.0,131.6 293.3,131.2 294.7,130.7 295.9,130.0 296.7,129.0 297.1,127.6 297.2,125.7 297.0,123.7 296.9,121.8 296.7,120.0 296.7,118.4 296.6,116.7 296.6,115.2 296.5,113.9 296.4,113.0" fill="none" stroke="#1a7fcc" stroke-width="1.0" stroke-linejoin="round" stroke-opacity="0.6"/>
<polyline points="332.9,88.2 331.6,89.3 329.8,90.7 327.6,92.5 325.1,94.5 322.5,96.6 319.3,99.1 315.6,102.0 311.8,105.0 308.4,107.7 306.0,109.8 304.8,111.0 304.4,111.6 304.5,111.9 304.7,112.3 304.7,113.1 304.4,114.4 303.9,115.9 303.6,117.6 303.4,119.3 303.6,121.0 304.4,122.6 305.6,124.1 307.0,125.6 308.3,127.3 309.1,129.3 309.5,131.6 309.6,134.4 309.5,137.2 309.3,139.7 309.1,141.7 308.9,142.9 308.7,143.7 308.3,144.1 307.8,144.4 307.1,144.7 306.2,144.9 305.0,145.1 303.6,145.1 302.3,145.1 300.9,145.1 299.5,145.1 298.0,145.1 296.5,145.1 295.2,144.9 294.2,144.7 293.6,144.3 293.2,144.0 293.0,143.5 292.8,142.7 292.7,141.7 292.6,140.1 292.4,138.0 292.4,135.7 292.5,133.6 292.7,132.0 293.3,131.1 294.1,130.6 295.0,130.3 295.8,129.9 296.4,129.0 296.6,127.6 296.7,125.7 296.6,123.7 296.5,121.8 296.4,120.0 296.4,118.4 296.4,116.7 296.3,115.2 296.3,113.9 296.3,113.0" fill="none" stroke="#1a7fcc" stroke-width="1.0" stroke-linejoin="round" stroke-opacity="0.6"/>
<polyline points="332.9,88.2 331.6,89.3 329.8,90.7 327.6,92.5 325.1,94.5 322.5,96.6 319.4,99.1 315.7,102.0 311.9,105.0 308.5,107.7 306.0,109.8 304.6,111.0 304.0,111.6 303.8,111.9 303.8,112.3 303.7,113.1 303.5,114.4 303.3,115.9 303.2,117.6 303.2,119.4 303.4,121.0 303.8,122.5 304.5,123.9 305.2,125.3 305.9,126.8 306.3,128.6 306.5,130.7 306.6,133.2 306.6,135.8 306.5,138.1 306.3,139.9 306.1,141.1 305.8,141.8 305.4,142.3 304.9,142.6 304.3,142.9 303.5,143.2 302.6,143.3 301.6,143.3 300.5,143.3 299.4,143.3 298.3,143.3 297.1,143.3 296.0,143.3 294.9,143.2 294.1,142.9 293.5,142.5 293.1,142.1 292.9,141.6 292.7,140.9 292.6,139.9 292.4,138.6 292.3,136.9 292.3,135.0 292.4,133.3 292.6,132.0 293.0,131.2 293.6,130.7 294.2,130.4 294.9,129.9 295.3,129.0 295.4,127.6 295.4,125.7 295.3,123.7 295.3,121.8 295.3,120.0 295.4,118.4 295.5,116.7 295.7,115.2 295.9,113.9 296.0,113.0" fill="none" stroke="#1a7fcc" stroke-width="1.0" stroke-linejoin="round" stroke-opacity="0.6"/>
<polyline points="332.9,88.2 331.6,89.3 329.8,90.7 327.6,92.5 325.1,94.5 322.5,96.6 319.4,99.1 315.6,102.0 311.8,105.0 308.5,107.7 306.0,109.8 304.7,111.0 304.2,111.6 304.1,111.9 304.3,112.3 304.2,113.1 304.0,114.4 303.6,116.0 303.4,117.7 303.4,119.5 303.7,121.0 304.5,122.2 305.8,123.2 307.3,124.2 308.6,125.5 309.5,127.2 309.9,129.7 310.0,132.8 309.9,136.0 309.7,139.0 309.5,141.2 309.3,142.6 309.1,143.3 308.8,143.7 308.3,144.0 307.5,144.2 306.4,144.5 305.0,144.6 303.4,144.6 301.7,144.6 300.1,144.6 298.5,144.6 296.7,144.6 295.0,144.6 293.5,144.5 292.3,144.2 291.6,143.9 291.2,143.5 291.0,143.0 290.9,142.3 290.8,141.2 290.6,139.7 290.4,137.7 290.3,135.5 290.4,133.5 290.8,132.0 291.8,131.1 293.3,130.6 294.9,130.3 296.4,129.9 297.4,129.0 297.8,127.6 297.9,125.7 297.7,123.7 297.5,121.8 297.4,120.0 297.3,118.4 297.1,116.7 296.9,115.2 296.7,113.9 296.6,113.0" fill="none" stroke="#1a7fcc" stroke-width="1.0" stroke-linejoin="round" stroke-opacity="0.6"/>
<polyline points="332.9,88.2 331.6,89.3 329.8,90.7 327.6,92.5 325.1,94.5 322.5,96.6 319.4,99.1 315.7,102.0 311.9,105.0 308.5,107.7 306.0,109.8 304.6,111.0 303.9,111.6 303.7,111.9 303.7,112.3 303.7,113.1 303.6,114.4 303.6,116.0 303.8,117.8 304.0,119.5 304.3,121.0 304.7,122.3 305.2,123.4 305.8,124.4 306.3,125.5 306.7,126.6 306.8,127.9 306.9,129.3 306.9,130.6 306.8,131.9 306.7,133.0 306.4,133.8 306.1,134.6 305.7,135.1 305.3,135.6 304.7,136.0 303.9,136.2 303.0,136.4 302.1,136.4 301.1,136.4 300.1,136.4 299.0,136.4 297.9,136.4 296.8,136.4 295.8,136.2 295.0,136.0 294.4,135.5 294.0,134.9 293.8,134.2 293.6,133.5 293.5,133.0 293.3,132.7 293.2,132.5 293.2,132.4 293.3,132.3 293.5,132.0 293.8,131.6 294.4,131.2 295.0,130.7 295.5,130.0 295.9,129.0 296.0,127.6 296.1,125.7 296.0,123.7 295.9,121.8 295.9,120.0 295.9,118.4 296.0,116.7 296.1,115.2 296.1,113.9 296.2,113.0" fill="none" stroke="#1a7fcc" stroke-width="1.0" stroke-linejoin="round" stroke-opacity="0.6"/>
<polyline points="332.9,88.2 331.6,89.3 329.8,90.7 327.6,92.5 325.1,94.5 322.5,96.6 319.3,99.1 315.6,102.0 311.8,105.0 308.4,107.7 306.0,109.8 304.8,111.0 304.4,111.6 304.5,111.9 304.7,112.3 304.7,113.1 304.5,114.4 304.3,115.9 304.0,117.6 303.9,119.3 304.0,121.0 304.2,122.6 304.7,124.3 305.2,126.0 305.6,127.5 306.0,128.9 306.1,129.9 306.2,130.8 306.2,131.5 306.1,132.1 306.0,132.8 305.7,133.5 305.5,134.2 305.1,134.8 304.6,135.4 304.0,135.8 303.1,136.0 302.1,136.2 301.0,136.2 299.8,136.2 298.7,136.2 297.5,136.2 296.2,136.2 294.9,136.2 293.7,136.0 292.8,135.8 292.2,135.3 291.9,134.7 291.6,134.0 291.5,133.3 291.3,132.8 291.2,132.5 291.0,132.3 290.9,132.2 291.0,132.1 291.3,131.8 292.2,131.4 293.4,131.1 294.7,130.6 295.9,130.0 296.7,129.0 297.0,127.6 297.1,125.8 297.0,123.8 296.8,121.8 296.7,120.0 296.7,118.4 296.6,116.7 296.5,115.2 296.5,113.9 296.4,113.0" fill="none" stroke="#1a7fcc" stroke-width="1.0" stroke-linejoin="round" stroke-opacity="0.6"/>
<polyline points="332.9,88.2 331.6,89.3 329.8,90.7 327.6,92.5 325.1,94.5 322.5,96.6 319.4,99.1 315.6,102.0 311.9,105.0 308.5,107.7 306.0,109.8 304.6,111.0 304.1,111.6 303.9,111.9 304.0,112.3 304.0,113.1 303.8,114.4 303.8,115.9 303.8,117.6 303.8,119.3 303.7,121.0 303.7,122.7 303.5,124.3 303.4,126.0 303.3,127.8 303.2,129.5 303.2,131.4 303.3,133.4 303.4,135.3 303.4,137.1 303.2,138.6 303.0,139.6 302.7,140.3 302.3,140.8 301.8,141.2 301.2,141.6 300.6,141.8 299.9,141.9 299.0,142.0 298.2,142.0 297.4,142.0 296.5,142.0 295.5,142.0 294.5,141.9 293.7,141.8 293.0,141.6 292.5,141.2 292.1,140.7 291.8,140.1 291.6,139.4 291.5,138.6 291.3,137.4 291.1,136.0 291.0,134.5 291.1,133.1 291.5,132.0 292.3,131.3 293.5,130.8 294.9,130.5 296.2,129.9 297.0,129.0 297.4,127.6 297.4,125.7 297.3,123.7 297.1,121.8 297.0,120.0 296.9,118.4 296.8,116.7 296.7,115.2 296.6,113.9 296.5,113.0" fill="none" stroke="#1a7fcc" stroke-width="1.0" stroke-linejoin="round" stroke-opacity="0.6"/>
<polyline points="332.9,88.2 331.6,89.3 329.8,90.7 327.6,92.5 325.1,94.5 322.5,96.6 319.4,99.1 315.6,102.0 311.8,105.0 308.4,107.7 306.0,109.8 304.7,111.0 304.3,111.6 304.3,111.9 304.5,112.3 304.5,113.1 304.2,114.4 303.9,116.0 303.6,117.7 303.6,119.4 303.8,121.0 304.4,122.4 305.5,123.8 306.7,125.1 307.7,126.3 308.5,127.4 308.8,128.2 308.9,128.8 308.8,129.4 308.7,129.9 308.5,130.4 308.2,131.1 308.0,131.8 307.6,132.4 307.1,133.0 306.5,133.4 305.6,133.7 304.5,133.8 303.4,133.9 302.1,133.8 301.0,133.8 299.7,133.8 298.4,133.9 297.1,133.8 295.9,133.7 294.9,133.4 294.3,133.0 294.0,132.3 293.7,131.6 293.6,130.9 293.4,130.4 293.3,130.1 293.2,129.9 293.2,129.7 293.3,129.6 293.4,129.4 293.8,129.3 294.4,129.4 295.1,129.4 295.7,129.1 296.1,128.4 296.2,127.2 296.3,125.5 296.2,123.6 296.1,121.7 296.1,120.0 296.1,118.4 296.1,116.8 296.2,115.2 296.2,113.9 296.2,113.0" fill="none" stroke="#1a7fcc" stroke-width="1.0" stroke-linejoin="round" stroke-opacity="0.6"/>
<polyline points="332.9,88.2 331.6,89.3 329.8,90.7 327.6,92.5 325.1,94.5 322.5,96.6 319.3,99.1 315.6,102.0 311.8,105.0 308.4,107.7 306.0,109.8 304.8,111.0 304.4,111.6 304.5,111.9 304.7,112.3 304.8,113.1 304.5,114.4 304.3,116.0 304.1,117.7 304.0,119.4 304.0,121.0 304.1,122.4 304.4,123.6 304.8,124.8 305.1,126.2 305.3,128.0 305.4,130.4 305.5,133.4 305.5,136.4 305.5,139.2 305.3,141.3 305.1,142.6 304.8,143.4 304.4,143.8 303.9,144.1 303.3,144.3 302.6,144.6 301.8,144.7 301.0,144.7 300.0,144.7 299.1,144.7 298.2,144.7 297.1,144.7 296.1,144.7 295.2,144.6 294.5,144.3 293.9,144.0 293.5,143.6 293.3,143.1 293.1,142.4 293.0,141.3 292.8,139.8 292.6,137.7 292.6,135.6 292.6,133.6 293.0,132.0 293.6,131.1 294.6,130.6 295.7,130.3 296.7,129.9 297.4,129.0 297.7,127.6 297.7,125.7 297.6,123.7 297.5,121.8 297.4,120.0 297.3,118.4 297.1,116.7 296.9,115.2 296.7,113.9 296.6,113.0" fill="none" stroke="#1a7fcc" stroke-width="1.0" stroke-linejoin="round" stroke-opacity="0.6"/>
<polyline points="332.9,88.2 331.6,89.3 329.8,90.7 327.6,92.5 325.1,94.5 322.5,96.6 319.3,99.1 315.6,102.0 311.8,105.0 308.4,107.7 306.0,109.8 304.8,111.0 304.3,111.6 304.4,111.9 304.6,112.3 304.6,113.1 304.4,114.4 304.1,115.9 303.9,117.6 303.7,119.3 303.6,121.0 303.8,122.5 304.0,123.9 304.4,125.4 304.7,127.0 304.9,128.9 305.0,131.3 305.1,134.1 305.1,137.0 305.0,139.7 304.9,141.7 304.6,143.0 304.3,143.7 303.9,144.1 303.4,144.4 302.9,144.7 302.2,144.9 301.3,145.1 300.4,145.1 299.5,145.1 298.6,145.1 297.6,145.1 296.5,145.1 295.5,145.1 294.5,144.9 293.8,144.7 293.2,144.4 292.9,144.0 292.6,143.5 292.4,142.7 292.3,141.7 292.1,140.1 291.9,138.0 291.9,135.7 292.0,133.6 292.3,132.0 293.0,131.1 294.0,130.6 295.1,130.3 296.1,129.9 296.8,129.0 297.1,127.6 297.2,125.7 297.1,123.7 296.9,121.8 296.8,120.0 296.8,118.4 296.7,116.7 296.6,115.2 296.5,113.9 296.5,113.0" fill="none" stroke="#1a7fcc" stroke-width="1.0" stroke-linejoin="round" stroke-opacity="0.6"/>
<polyline points="332.9,88.2 331.6,89.3 329.8,90.7 327.6,92.5 325.1,94.5 322.5,96.6 319.4,99.1 315.6,102.0 311.8,105.0 308.5,107.7 306.0,109.8 304.6,111.0 304.1,111.6 304.0,111.9 304.1,112.3 304.0,113.1 303.8,114.4 303.7,116.0 303.7,117.7 303.8,119.4 304.0,121.0 304.6,122.3 305.5,123.6 306.5,124.8 307.3,126.0 307.9,127.3 308.2,128.9 308.3,130.6 308.3,132.2 308.1,133.8 307.9,135.1 307.7,136.0 307.4,136.7 307.0,137.3 306.5,137.7 305.9,138.1 305.2,138.3 304.3,138.4 303.4,138.5 302.4,138.5 301.4,138.5 300.3,138.5 299.2,138.5 298.1,138.4 297.1,138.3 296.3,138.1 295.8,137.6 295.4,137.0 295.1,136.4 295.0,135.7 294.8,135.1 294.7,134.4 294.6,133.8 294.6,133.2 294.7,132.6 294.8,132.0 295.1,131.5 295.6,131.1 296.0,130.6 296.5,130.0 296.8,129.0 296.9,127.6 296.9,125.7 296.9,123.7 296.8,121.8 296.8,120.0 296.7,118.4 296.7,116.7 296.6,115.2 296.5,113.9 296.4,113.0" fill="none" stroke="#1a7fcc" stroke-width="1.0" stroke-linejoin="round" stroke-opacity="0.6"/>
<polyline points="332.9,88.2 331.6,89.3 329.8,90.7 327.6,92.5 325.1,94.5 322.5,96.6 319.3,99.1 315.6,102.0 311.8,105.0 308.4,107.7 306.0,109.8 304.8,111.0 304.4,111.6 304.5,111.9 304.7,112.3 304.7,113.1 304.5,114.4 304.3,116.0 304.1,117.7 304.0,119.4 304.0,121.0 304.2,122.5 304.6,124.0 305.1,125.5 305.6,126.9 305.9,128.2 306.1,129.5 306.1,130.7 306.1,131.9 306.1,133.0 305.9,133.9 305.7,134.7 305.3,135.4 304.9,136.0 304.4,136.5 303.9,136.9 303.3,137.2 302.6,137.3 301.9,137.3 301.2,137.3 300.4,137.3 299.6,137.3 298.8,137.3 297.9,137.3 297.1,137.2 296.5,136.9 296.0,136.4 295.6,135.8 295.4,135.1 295.2,134.5 295.0,133.9 294.9,133.5 294.9,133.1 294.9,132.8 294.9,132.4 295.0,132.0 295.1,131.6 295.2,131.2 295.3,130.7 295.5,130.0 295.6,129.0 295.6,127.6 295.6,125.7 295.6,123.7 295.5,121.8 295.6,120.0 295.6,118.4 295.8,116.7 295.9,115.2 296.0,113.9 296.1,113.0" fill="none" stroke="#1a7fcc" stroke-width="1.0" stroke-linejoin="round" stroke-opacity="0.6"/>
<polyline points="332.9,88.2 331.6,89.3 329.8,90.7 327.6,92.5 325.1,94.5 322.5,96.6 319.4,99.1 315.6,102.0 311.8,105.0 308.5,107.7 306.0,109.8 304.7,111.0 304.1,111.6 304.1,111.9 304.2,112.3 304.2,113.1 304.1,114.4 304.1,116.0 304.2,117.7 304.2,119.4 304.2,121.0 303.9,122.5 303.6,123.9 303.2,125.4 302.8,126.9 302.6,128.4 302.5,130.2 302.6,132.1 302.6,134.0 302.7,135.7 302.6,137.1 302.3,138.2 302.0,138.9 301.6,139.4 301.1,139.8 300.6,140.1 300.0,140.4 299.4,140.5 298.7,140.6 298.1,140.6 297.4,140.5 296.6,140.6 295.8,140.6 295.0,140.5 294.2,140.4 293.6,140.1 293.2,139.7 292.8,139.2 292.5,138.6 292.3,137.9 292.1,137.1 292.0,136.2 291.8,135.1 291.7,134.0 291.8,132.9 292.1,132.0 292.8,131.4 293.8,130.9 294.9,130.5 295.9,129.9 296.5,129.0 296.8,127.6 296.9,125.7 296.8,123.7 296.6,121.8 296.5,120.0 296.5,118.4 296.5,116.7 296.4,115.2 296.4,113.9 296.4,113.0" fill="none" stroke="#1a7fcc" stroke-width="1.0" stroke-linejoin="round" stroke-opacity="0.6"/>
<polyline points="332.9,88.2 331.6,89.3 329.8,90.7 327.6,92.5 325.1,94.5 322.5,96.6 319.3,99.1 315.6,102.0 311.8,105.0 308.4,107.7 306.0,109.8 304.7,111.0 304.3,111.6 304.4,111.9 304.6,112.3 304.6,113.1 304.3,114.4 303.9,115.9 303.6,117.6 303.5,119.3 303.6,121.0 304.2,122.6 305.2,124.1 306.4,125.6 307.4,127.3 308.1,129.0 308.4,131.1 308.5,133.4 308.4,135.8 308.3,137.9 308.1,139.5 307.9,140.7 307.6,141.4 307.2,141.9 306.7,142.2 306.1,142.5 305.3,142.8 304.4,142.9 303.4,143.0 302.4,143.0 301.4,142.9 300.3,143.0 299.2,143.0 298.0,142.9 297.0,142.8 296.2,142.5 295.6,142.2 295.2,141.7 295.0,141.2 294.8,140.5 294.7,139.5 294.6,138.2 294.5,136.6 294.5,134.9 294.5,133.3 294.7,132.0 295.0,131.2 295.5,130.8 296.0,130.4 296.4,129.9 296.7,129.0 296.9,127.6 296.9,125.7 296.8,123.7 296.8,121.8 296.7,120.0 296.7,118.4 296.6,116.7 296.5,115.2 296.5,113.9 296.4,113.0" fill="none" stroke="#1a7fcc" stroke-width="1.0" stroke-linejoin="round" stroke-opacity="0.6"/>
<polyline points="332.9,88.2 331.6,89.3 329.8,90.7 327.6,92.5 325.1,94.5 322.5,96.6 319.4,99.1 315.6,102.0 311.8,105.0 308.5,107.7 306.0,109.8 304.7,111.0 304.2,111.6 304.1,111.9 304.3,112.3 304.2,113.1 304.0,114.4 303.7,116.0 303.6,117.8 303.6,119.5 303.8,121.0 304.5,122.3 305.6,123.4 306.8,124.5 307.9,125.7 308.6,127.0 308.9,128.6 309.0,130.4 309.0,132.2 308.8,133.8 308.6,135.1 308.3,136.1 308.0,136.8 307.6,137.4 307.1,137.8 306.6,138.1 305.9,138.4 305.2,138.5 304.4,138.6 303.6,138.6 302.7,138.5 301.8,138.6 300.9,138.6 299.9,138.5 299.0,138.4 298.3,138.1 297.8,137.7 297.5,137.1 297.2,136.5 297.0,135.8 296.8,135.1 296.7,134.5 296.7,133.9 296.7,133.3 296.8,132.6 296.8,132.0 296.9,131.5 297.0,131.1 297.1,130.6 297.2,130.0 297.3,129.0 297.3,127.6 297.4,125.7 297.4,123.7 297.3,121.8 297.3,120.0 297.2,118.4 297.0,116.7 296.9,115.2 296.7,113.9 296.6,113.0" fill="none" stroke="#1a7fcc" stroke-width="1.0" stroke-linejoin="round" stroke-opacity="0.6"/>
<polyline points="332.9,88.2 331.6,89.3 329.8,90.7 327.6,92.5 325.1,94.5 322.5,96.6 319.4,99.1 315.6,102.0 311.8,105.0 308.4,107.7 306.0,109.8 304.7,111.0 304.3,111.6 304.3,111.9 304.5,112.3 304.5,113.1 304.2,114.4 304.0,116.0 303.8,117.8 303.8,119.5 304.1,121.0 304.7,122.4 305.7,123.6 306.7,124.8 307.7,126.0 308.4,127.0 308.7,128.0 308.8,128.8 308.7,129.6 308.6,130.4 308.4,131.1 308.1,131.8 307.9,132.5 307.5,133.1 307.0,133.7 306.4,134.1 305.5,134.4 304.5,134.5 303.3,134.5 302.1,134.5 301.0,134.5 299.8,134.5 298.5,134.5 297.2,134.5 296.0,134.4 295.1,134.1 294.5,133.6 294.1,133.0 293.9,132.3 293.7,131.6 293.6,131.1 293.5,130.8 293.4,130.6 293.3,130.4 293.4,130.3 293.6,130.1 294.1,130.0 294.7,130.1 295.5,130.0 296.1,129.7 296.6,129.0 296.8,127.7 296.8,125.9 296.8,123.8 296.7,121.8 296.6,120.0 296.6,118.4 296.5,116.7 296.5,115.2 296.4,113.9 296.4,113.0" fill="none" stroke="#1a7fcc" stroke-width="1.0" stroke-linejoin="round" stroke-opacity="0.6"/>
<polyline points="332.9,88.2 331.6,89.3 329.8,90.7 327.6,92.5 325.1,94.5 322.5,96.6 319.4,99.1 315.6,102.0 311.8,105.0 308.4,107.7 306.0,109.8 304.7,111.0 304.2,111.6 304.2,111.9 304.3,112.3 304.3,113.1 304.1,114.4 304.0,116.0 303.9,117.7 303.9,119.4 304.1,121.0 304.7,122.5 305.6,124.0 306.5,125.4 307.4,126.9 308.0,128.4 308.2,130.1 308.3,131.9 308.3,133.7 308.2,135.4 308.0,136.7 307.7,137.7 307.4,138.4 307.0,138.9 306.6,139.3 306.0,139.7 305.2,139.9 304.3,140.1 303.4,140.1 302.4,140.1 301.4,140.1 300.4,140.1 299.2,140.1 298.1,140.1 297.1,139.9 296.3,139.7 295.8,139.3 295.4,138.8 295.1,138.1 295.0,137.4 294.8,136.7 294.7,135.8 294.7,134.9 294.7,133.8 294.7,132.9 294.8,132.0 295.0,131.4 295.2,131.0 295.5,130.6 295.7,130.0 295.9,129.0 296.0,127.6 296.0,125.7 295.9,123.7 295.9,121.8 295.9,120.0 295.9,118.4 296.0,116.7 296.1,115.2 296.1,113.9 296.2,113.0" fill="none" stroke="#1a7fcc" stroke-width="1.0" stroke-linejoin="round" stroke-opacity="0.6"/>
<polyline points="332.9,88.2 331.6,89.3 329.8,90.7 327.6,92.5 325.1,94.5 322.5,96.6 319.4,99.1 315.6,102.0 311.8,105.0 308.4,107.7 306.0,109.8 304.7,111.0 304.2,111.6 304.3,111.9 304.4,112.3 304.4,113.1 304.1,114.4 303.7,115.9 303.4,117.6 303.3,119.4 303.5,121.0 304.0,122.4 304.9,123.8 306.0,125.1 306.9,126.7 307.5,128.6 307.8,131.0 307.9,134.0 307.9,137.1 307.7,139.8 307.5,141.9 307.3,143.3 307.1,144.0 306.7,144.4 306.2,144.7 305.5,144.9 304.6,145.2 303.5,145.3 302.2,145.4 300.8,145.4 299.5,145.3 298.2,145.4 296.7,145.4 295.3,145.3 294.0,145.2 293.0,144.9 292.4,144.6 292.0,144.3 291.8,143.8 291.7,143.0 291.5,141.9 291.4,140.3 291.2,138.1 291.2,135.8 291.2,133.7 291.5,132.0 292.2,131.1 293.2,130.6 294.3,130.3 295.3,129.9 295.9,129.0 296.2,127.6 296.3,125.7 296.1,123.7 296.0,121.8 295.9,120.0 296.0,118.4 296.0,116.7 296.1,115.2 296.2,113.9 296.2,113.0" fill="none" stroke="#1a7fcc" stroke-width="1.0" stroke-linejoin="round" stroke-opacity="0.6"/>
<polyline points="332.9,88.2 331.6,89.3 329.8,90.7 327.6,92.5 325.1,94.5 322.5,96.6 319.4,99.1 315.7,102.0 311.9,105.0 308.5,107.7 306.0,109.8 304.6,111.0 303.9,111.6 303.8,111.9 303.8,112.3 303.7,113.1 303.4,114.4 303.2,116.0 303.1,117.7 303.1,119.4 303.4,121.0 303.9,122.3 304.7,123.3 305.6,124.4 306.4,125.7 306.9,127.5 307.2,130.0 307.3,133.2 307.2,136.6 307.1,139.6 306.9,141.9 306.7,143.3 306.4,144.0 306.0,144.4 305.5,144.6 304.9,144.9 304.2,145.2 303.3,145.3 302.3,145.3 301.3,145.3 300.2,145.3 299.2,145.3 298.0,145.3 296.9,145.3 295.9,145.2 295.1,144.9 294.5,144.6 294.1,144.2 293.9,143.7 293.7,143.0 293.6,141.9 293.4,140.2 293.4,138.1 293.4,135.8 293.4,133.6 293.6,132.0 293.8,131.1 294.3,130.6 294.7,130.3 295.1,129.9 295.4,129.0 295.5,127.6 295.5,125.7 295.4,123.7 295.4,121.8 295.4,120.0 295.5,118.4 295.6,116.7 295.8,115.2 295.9,113.9 296.0,113.0" fill="none" stroke="#1a7fcc" stroke-width="1.0" stroke-linejoin="round" stroke-opacity="0.6"/>
<polyline points="332.9,88.2 331.6,89.3 329.8,90.7 327.6,92.5 325.1,94.5 322.5,96.6 319.4,99.1 315.6,102.0 311.8,105.0 308.5,107.7 306.0,109.8 304.7,111.0 304.1,111.6 304.0,111.9 304.1,112.3 304.1,113.1 303.9,114.4 303.9,116.0 303.9,117.7 303.9,119.4 303.9,121.0 303.9,122.4 303.9,123.7 303.8,125.0 303.8,126.5 303.8,128.3 303.8,130.6 303.9,133.4 303.9,136.3 303.9,139.0 303.8,141.0 303.5,142.2 303.2,143.0 302.8,143.4 302.4,143.7 301.8,144.0 301.0,144.2 300.2,144.4 299.2,144.4 298.2,144.4 297.3,144.4 296.2,144.4 295.1,144.4 294.0,144.4 293.0,144.2 292.2,144.0 291.7,143.6 291.3,143.3 291.1,142.7 290.9,142.0 290.7,141.0 290.6,139.5 290.4,137.5 290.3,135.4 290.4,133.5 290.7,132.0 291.5,131.1 292.7,130.7 294.0,130.3 295.2,129.9 296.0,129.0 296.3,127.6 296.4,125.7 296.2,123.7 296.1,121.8 296.0,120.0 296.0,118.4 296.1,116.7 296.1,115.2 296.2,113.9 296.2,113.0" fill="none" stroke="#1a7fcc" stroke-width="1.0" stroke-linejoin="round" stroke-opacity="0.6"/>
<polyline points="332.9,88.2 331.6,89.3 329.8,90.7 327.6,92.5 325.1,94.5 322.5,96.6 319.4,99.1 315.6,102.0 311.9,105.0 308.5,107.7 306.0,109.8 304.6,111.0 304.0,111.6 303.9,111.9 304.0,112.3 303.9,113.1 303.8,114.4 303.7,116.0 303.6,117.8 303.7,119.5 303.7,121.0 303.7,122.3 303.9,123.5 304.0,124.7 304.1,125.8 304.2,126.8 304.2,127.9 304.3,128.9 304.3,129.9 304.3,130.9 304.2,131.7 303.9,132.5 303.6,133.2 303.3,133.8 302.8,134.3 302.2,134.7 301.4,135.0 300.5,135.1 299.4,135.1 298.4,135.1 297.3,135.1 296.2,135.1 295.1,135.1 293.9,135.1 292.8,135.0 292.0,134.7 291.4,134.2 291.1,133.6 290.8,132.9 290.6,132.2 290.5,131.7 290.3,131.4 290.1,131.2 290.0,131.1 290.1,130.9 290.5,130.7 291.3,130.5 292.5,130.4 293.8,130.2 295.0,129.8 295.9,129.0 296.2,127.6 296.2,125.8 296.1,123.8 295.9,121.8 295.9,120.0 295.9,118.4 296.0,116.7 296.0,115.2 296.1,113.9 296.2,113.0" fill="none" stroke="#1a7fcc" stroke-width="1.0" stroke-linejoin="round" stroke-opacity="0.6"/>
<polyline points="332.9,88.2 331.6,89.3 329.8,90.7 327.6,92.5 325.1,94.5 322.5,96.6 319.4,99.1 315.7,102.0 311.9,105.0 308.5,107.7 306.0,109.8 304.6,111.0 303.9,111.6 303.8,111.9 303.8,112.3 303.7,113.1 303.5,114.4 303.4,116.0 303.4,117.7 303.5,119.4 303.9,121.0 304.5,122.3 305.5,123.5 306.6,124.6 307.6,125.9 308.3,127.5 308.6,129.7 308.7,132.3 308.7,134.9 308.5,137.4 308.3,139.3 308.1,140.5 307.9,141.2 307.6,141.7 307.1,142.0 306.3,142.3 305.3,142.5 304.0,142.6 302.5,142.7 301.0,142.7 299.5,142.7 298.0,142.7 296.4,142.7 294.8,142.6 293.3,142.5 292.2,142.3 291.5,141.9 291.1,141.4 290.9,140.9 290.8,140.2 290.7,139.3 290.5,138.0 290.4,136.5 290.3,134.8 290.3,133.2 290.7,132.0 291.6,131.2 292.9,130.8 294.3,130.4 295.5,129.9 296.4,129.0 296.8,127.6 296.8,125.7 296.7,123.7 296.5,121.8 296.4,120.0 296.4,118.4 296.4,116.7 296.4,115.2 296.3,113.9 296.3,113.0" fill="none" stroke="#1a7fcc" stroke-width="1.0" stroke-linejoin="round" stroke-opacity="0.6"/>
<polyline points="332.9,88.2 331.6,89.3 329.8,90.7 327.6,92.5 325.1,94.5 322.5,96.6 319.3,99.1 315.6,102.0 311.8,105.0 308.4,107.7 306.0,109.8 304.7,111.0 304.3,111.6 304.4,111.9 304.6,112.3 304.6,113.1 304.4,114.4 304.1,116.0 303.9,117.7 303.9,119.4 304.0,121.0 304.3,122.5 304.9,123.9 305.6,125.3 306.2,126.5 306.6,127.6 306.8,128.5 306.8,129.1 306.8,129.7 306.7,130.2 306.6,130.7 306.3,131.4 306.0,132.1 305.6,132.7 305.1,133.3 304.6,133.7 304.0,134.0 303.3,134.1 302.6,134.2 301.9,134.2 301.2,134.1 300.4,134.2 299.6,134.2 298.7,134.1 298.0,134.0 297.3,133.7 296.8,133.3 296.5,132.6 296.2,131.9 296.0,131.3 295.8,130.7 295.7,130.4 295.7,130.2 295.7,130.0 295.8,129.9 295.8,129.7 295.8,129.7 295.8,129.7 295.9,129.7 295.9,129.4 295.9,128.7 295.9,127.5 295.9,125.7 295.9,123.7 295.9,121.8 295.9,120.0 295.9,118.4 296.0,116.7 296.1,115.2 296.1,113.9 296.2,113.0" fill="none" stroke="#1a7fcc" stroke-width="1.0" stroke-linejoin="round" stroke-opacity="0.6"/>
<polyline points="332.9,88.2 331.6,89.3 329.8,90.7 327.6,92.5 325.1,94.5 322.5,96.6 319.3,99.1 315.6,102.0 311.8,105.0 308.4,107.7 306.0,109.8 304.8,111.0 304.4,111.6 304.5,111.9 304.7,112.3 304.8,113.1 304.6,114.4 304.4,116.0 304.2,117.7 304.1,119.4 303.9,121.0 303.8,122.4 303.7,123.6 303.6,124.8 303.5,126.1 303.5,127.6 303.5,129.3 303.6,131.2 303.6,133.2 303.6,135.0 303.5,136.5 303.2,137.5 302.9,138.2 302.4,138.8 302.0,139.1 301.5,139.5 301.0,139.7 300.5,139.9 300.0,139.9 299.4,139.9 298.8,139.9 298.2,139.9 297.5,139.9 296.8,139.9 296.2,139.7 295.7,139.5 295.2,139.1 294.9,138.5 294.6,137.9 294.3,137.2 294.2,136.5 294.0,135.7 293.9,134.7 293.9,133.8 293.9,132.8 294.2,132.0 294.6,131.4 295.3,131.0 296.1,130.6 296.8,130.0 297.3,129.0 297.5,127.6 297.5,125.7 297.5,123.7 297.4,121.8 297.3,120.0 297.2,118.4 297.0,116.7 296.9,115.2 296.7,113.9 296.6,113.0" fill="none" stroke="#1a7fcc" stroke-width="1.0" stroke-linejoin="round" stroke-opacity="0.6"/>
<polyline points="332.0,88.6 338.0,84.2" fill="none" stroke="#f5a623" stroke-width="2.4" stroke-linejoin="round" />
<circle cx="338" cy="84.2" r="3.3" fill="#000"/>
</g>
<g clip-path="url(#cm2)">
<polyline points="473.1,109.5 473.0,109.8 472.8,110.2 472.5,110.7 472.4,111.3 472.3,112.0 472.3,112.9 472.5,113.9 472.6,115.1 472.8,116.3 473.0,117.4 473.2,118.5 473.5,119.6 473.7,120.7 474.0,121.8 474.4,123.0 474.9,124.1 475.5,125.2 476.1,126.4 476.6,127.7 476.8,129.3 476.7,131.5 476.5,134.0 476.0,136.7 475.3,139.1 474.3,141.0 473.1,142.2 471.5,143.0 469.7,143.5 467.9,143.8 466.2,144.0 464.5,144.1 462.8,144.1 461.1,143.9 459.6,143.4 458.5,142.5 457.8,141.0 457.4,139.1 457.3,136.9 457.3,134.7 457.5,133.0 458.0,131.8 458.8,130.8 459.7,130.0 460.5,129.1 461.2,128.0 461.6,126.6 462.0,125.0 462.2,123.3 462.5,121.6 462.7,120.0 462.9,118.4 463.2,116.8 463.4,115.2 463.6,113.9 463.7,113.0" fill="none" stroke="#1a7fcc" stroke-width="1.0" stroke-linejoin="round" stroke-opacity="0.6"/>
<polyline points="473.1,109.5 472.9,109.8 472.5,110.2 472.2,110.7 471.8,111.3 471.5,112.0 471.4,112.9 471.3,113.9 471.3,115.1 471.3,116.3 471.2,117.4 470.9,118.5 470.7,119.6 470.4,120.7 470.1,121.9 469.8,123.0 469.6,124.1 469.4,125.3 469.2,126.4 468.9,127.6 468.5,128.8 468.1,130.1 467.6,131.5 467.1,132.9 466.5,134.2 466.0,135.2 465.6,136.1 465.2,136.9 464.8,137.5 464.4,138.0 464.0,138.2 463.7,138.3 463.3,138.1 463.0,137.7 462.7,137.3 462.5,136.7 462.2,136.2 462.0,135.5 461.8,134.7 461.6,133.9 461.5,133.0 461.2,132.1 461.0,131.2 460.8,130.3 460.6,129.2 460.6,128.0 460.8,126.6 461.1,125.0 461.5,123.3 461.8,121.6 462.1,120.0 462.4,118.4 462.6,116.8 462.8,115.2 463.0,113.9 463.1,113.0" fill="none" stroke="#1a7fcc" stroke-width="1.0" stroke-linejoin="round" stroke-opacity="0.6"/>
<polyline points="473.1,109.5 472.9,109.8 472.6,110.2 472.2,110.7 471.9,111.3 471.6,112.0 471.5,112.9 471.5,113.9 471.5,115.1 471.4,116.3 471.4,117.4 471.2,118.5 471.0,119.5 470.8,120.6 470.6,121.8 470.4,123.0 470.2,124.3 470.1,125.8 469.9,127.3 469.8,128.8 469.5,130.4 469.1,132.1 468.6,134.0 468.1,135.9 467.5,137.7 467.0,139.0 466.5,140.1 466.0,140.9 465.6,141.4 465.1,141.8 464.7,142.0 464.3,142.1 463.9,142.1 463.5,141.8 463.2,141.3 462.9,140.5 462.6,139.4 462.4,137.8 462.2,136.1 462.1,134.4 461.9,133.0 461.6,131.9 461.3,131.0 460.9,130.1 460.7,129.2 460.6,128.0 460.8,126.6 461.1,125.0 461.4,123.3 461.8,121.6 462.1,120.0 462.4,118.4 462.6,116.8 462.8,115.2 463.0,113.9 463.1,113.0" fill="none" stroke="#1a7fcc" stroke-width="1.0" stroke-linejoin="round" stroke-opacity="0.6"/>
<polyline points="473.1,109.5 473.0,109.8 472.8,110.2 472.6,110.7 472.4,111.3 472.3,112.0 472.4,112.9 472.5,113.9 472.7,115.1 472.9,116.3 473.1,117.4 473.3,118.5 473.5,119.6 473.8,120.7 474.1,121.9 474.5,123.0 475.0,124.2 475.7,125.3 476.3,126.5 476.8,127.7 477.1,129.0 477.0,130.3 476.7,131.8 476.2,133.2 475.5,134.6 474.6,135.7 473.3,136.6 471.8,137.4 470.0,138.0 468.3,138.4 466.7,138.7 465.1,138.7 463.4,138.5 461.8,138.2 460.4,137.7 459.3,137.2 458.6,136.5 458.2,135.7 458.0,134.9 458.1,133.9 458.3,133.0 458.8,132.1 459.7,131.2 460.7,130.3 461.7,129.2 462.4,128.0 462.9,126.6 463.3,125.0 463.5,123.3 463.7,121.6 463.9,120.0 464.2,118.4 464.4,116.8 464.6,115.2 464.8,113.9 464.9,113.0" fill="none" stroke="#1a7fcc" stroke-width="1.0" stroke-linejoin="round" stroke-opacity="0.6"/>
<polyline points="473.1,109.5 472.9,109.8 472.6,110.2 472.3,110.7 472.0,111.3 471.8,112.0 471.7,112.9 471.7,113.9 471.8,115.1 471.8,116.3 471.8,117.4 471.8,118.5 471.7,119.6 471.6,120.8 471.5,121.9 471.5,123.0 471.5,124.0 471.6,124.9 471.7,125.9 471.7,127.0 471.6,128.4 471.2,130.2 470.8,132.5 470.3,134.9 469.7,137.1 469.1,138.8 468.5,139.9 467.8,140.7 467.1,141.3 466.4,141.6 465.7,141.8 465.1,141.9 464.5,141.8 463.9,141.5 463.4,141.0 462.9,140.3 462.6,139.2 462.4,137.7 462.2,136.0 462.1,134.4 461.9,133.0 461.7,131.9 461.4,131.0 461.2,130.1 461.0,129.2 461.0,128.0 461.1,126.6 461.4,125.0 461.8,123.3 462.2,121.6 462.5,120.0 462.7,118.4 463.0,116.8 463.2,115.2 463.3,113.9 463.5,113.0" fill="none" stroke="#1a7fcc" stroke-width="1.0" stroke-linejoin="round" stroke-opacity="0.6"/>
<polyline points="473.1,109.5 472.9,109.8 472.6,110.2 472.3,110.7 472.1,111.3 471.9,112.0 471.8,112.9 471.8,113.9 471.9,115.1 472.0,116.3 472.0,117.4 472.0,118.5 471.9,119.6 471.9,120.8 471.9,121.9 471.9,123.0 472.0,124.0 472.1,124.8 472.3,125.8 472.3,126.9 472.2,128.4 472.0,130.5 471.6,133.2 471.0,135.9 470.4,138.5 469.7,140.4 469.0,141.7 468.0,142.5 467.1,143.0 466.1,143.3 465.2,143.4 464.3,143.5 463.4,143.5 462.5,143.3 461.7,142.8 461.1,141.9 460.7,140.6 460.4,138.7 460.2,136.6 460.1,134.7 460.1,133.0 460.1,131.8 460.2,130.9 460.4,130.0 460.6,129.1 460.8,128.0 461.1,126.6 461.4,125.0 461.7,123.3 462.0,121.6 462.3,120.0 462.6,118.4 462.8,116.8 463.0,115.2 463.2,113.9 463.3,113.0" fill="none" stroke="#1a7fcc" stroke-width="1.0" stroke-linejoin="round" stroke-opacity="0.6"/>
<polyline points="473.1,109.5 473.0,109.8 472.7,110.2 472.5,110.7 472.3,111.3 472.2,112.0 472.2,112.9 472.3,113.9 472.4,115.1 472.6,116.3 472.8,117.4 472.9,118.5 473.1,119.6 473.2,120.8 473.4,121.9 473.7,123.0 474.1,124.1 474.6,125.2 475.1,126.3 475.5,127.3 475.6,128.3 475.5,129.3 475.2,130.2 474.7,131.0 474.0,131.8 473.1,132.6 471.9,133.3 470.3,134.1 468.7,134.8 466.9,135.3 465.3,135.6 463.7,135.6 462.1,135.4 460.5,135.0 459.1,134.6 458.1,134.1 457.4,133.5 457.0,132.8 456.8,132.0 456.8,131.2 457.1,130.6 457.6,130.1 458.4,129.7 459.4,129.4 460.4,128.8 461.1,128.0 461.6,126.7 461.9,125.1 462.2,123.4 462.4,121.6 462.6,120.0 462.8,118.4 463.1,116.8 463.3,115.2 463.5,113.9 463.6,113.0" fill="none" stroke="#1a7fcc" stroke-width="1.0" stroke-linejoin="round" stroke-opacity="0.6"/>
<polyline points="473.1,109.5 473.0,109.8 472.8,110.2 472.6,110.7 472.4,111.3 472.3,112.0 472.4,112.9 472.5,113.9 472.7,115.1 472.9,116.3 473.1,117.4 473.4,118.5 473.6,119.7 473.9,120.8 474.2,121.9 474.6,123.0 475.2,124.0 475.8,125.0 476.5,126.0 477.1,127.0 477.3,128.0 477.2,129.0 476.9,130.1 476.4,131.3 475.7,132.3 474.8,133.2 473.5,134.0 472.0,134.8 470.2,135.4 468.4,135.9 466.8,136.2 465.1,136.2 463.4,136.0 461.7,135.7 460.3,135.2 459.2,134.7 458.6,134.1 458.2,133.4 458.1,132.7 458.1,131.9 458.2,131.2 458.5,130.6 458.9,130.1 459.4,129.6 459.9,128.9 460.3,128.0 460.6,126.7 461.0,125.1 461.3,123.4 461.5,121.6 461.8,120.0 462.1,118.4 462.3,116.8 462.5,115.2 462.7,113.9 462.8,113.0" fill="none" stroke="#1a7fcc" stroke-width="1.0" stroke-linejoin="round" stroke-opacity="0.6"/>
<polyline points="473.1,109.5 473.0,109.8 472.8,110.2 472.6,110.7 472.4,111.3 472.4,112.0 472.5,112.9 472.6,113.9 472.8,115.1 473.0,116.3 473.3,117.4 473.5,118.5 473.8,119.6 474.1,120.7 474.5,121.8 474.9,123.0 475.5,124.2 476.3,125.4 477.0,126.6 477.6,127.9 477.9,129.4 477.8,131.3 477.5,133.4 477.0,135.5 476.3,137.5 475.4,139.0 474.2,140.1 472.7,140.9 471.1,141.5 469.5,141.8 468.0,142.0 466.4,142.1 464.9,142.0 463.4,141.8 462.0,141.3 461.0,140.5 460.4,139.4 460.1,137.8 460.0,136.1 460.0,134.4 460.0,133.0 460.1,131.9 460.2,131.0 460.4,130.1 460.7,129.2 460.9,128.0 461.2,126.6 461.5,125.0 461.8,123.3 462.1,121.6 462.4,120.0 462.7,118.4 462.9,116.8 463.1,115.2 463.3,113.9 463.4,113.0" fill="none" stroke="#1a7fcc" stroke-width="1.0" stroke-linejoin="round" stroke-opacity="0.6"/>
<polyline points="473.1,109.5 472.9,109.8 472.7,110.2 472.4,110.7 472.2,111.3 472.0,112.0 472.0,112.9 472.0,113.9 472.1,115.1 472.2,116.3 472.3,117.4 472.4,118.5 472.4,119.6 472.4,120.8 472.5,121.9 472.6,123.0 472.8,124.1 473.1,125.2 473.5,126.3 473.7,127.3 473.6,128.4 473.4,129.5 473.1,130.7 472.6,131.8 472.0,132.8 471.1,133.7 470.1,134.6 468.8,135.3 467.4,136.0 466.0,136.5 464.6,136.7 463.3,136.8 461.9,136.6 460.6,136.2 459.5,135.7 458.6,135.2 458.0,134.7 457.6,134.0 457.4,133.2 457.4,132.5 457.6,131.7 458.1,131.1 459.0,130.5 460.0,129.8 461.0,129.0 461.8,128.0 462.3,126.7 462.6,125.1 462.8,123.3 463.1,121.6 463.3,120.0 463.5,118.4 463.8,116.8 464.0,115.2 464.2,113.9 464.3,113.0" fill="none" stroke="#1a7fcc" stroke-width="1.0" stroke-linejoin="round" stroke-opacity="0.6"/>
<polyline points="473.1,109.5 472.9,109.8 472.7,110.2 472.4,110.7 472.1,111.3 471.9,112.0 471.9,112.9 471.9,113.9 472.0,115.1 472.1,116.3 472.1,117.4 472.1,118.5 472.1,119.6 472.1,120.7 472.2,121.9 472.2,123.0 472.3,124.1 472.6,125.2 472.8,126.2 472.9,127.5 472.9,128.9 472.6,130.7 472.2,132.8 471.8,135.0 471.1,137.0 470.4,138.6 469.4,139.7 468.3,140.5 467.1,141.1 465.8,141.4 464.7,141.6 463.5,141.7 462.4,141.6 461.2,141.3 460.2,140.8 459.5,140.1 459.0,139.0 458.6,137.6 458.4,136.0 458.4,134.4 458.5,133.0 458.8,131.9 459.3,131.0 460.0,130.1 460.6,129.2 461.1,128.0 461.5,126.6 461.8,125.0 462.1,123.3 462.3,121.6 462.6,120.0 462.8,118.4 463.1,116.8 463.3,115.2 463.5,113.9 463.6,113.0" fill="none" stroke="#1a7fcc" stroke-width="1.0" stroke-linejoin="round" stroke-opacity="0.6"/>
<polyline points="473.1,109.5 472.9,109.8 472.6,110.2 472.3,110.7 472.0,111.3 471.8,112.0 471.7,112.9 471.7,113.9 471.7,115.1 471.7,116.3 471.7,117.4 471.6,118.5 471.5,119.6 471.4,120.8 471.3,121.9 471.2,123.0 471.1,124.1 471.2,125.1 471.2,126.2 471.2,127.2 471.0,128.3 470.6,129.4 470.2,130.5 469.7,131.7 469.1,132.8 468.5,133.7 467.8,134.5 467.0,135.3 466.1,136.0 465.3,136.4 464.5,136.7 463.7,136.7 462.9,136.5 462.2,136.2 461.5,135.7 461.0,135.2 460.6,134.6 460.3,134.0 460.2,133.2 460.1,132.5 460.0,131.7 459.8,131.1 459.7,130.5 459.6,129.8 459.5,129.0 459.6,128.0 459.8,126.7 460.1,125.1 460.5,123.3 460.8,121.6 461.1,120.0 461.4,118.4 461.6,116.8 461.8,115.2 462.0,113.9 462.1,113.0" fill="none" stroke="#1a7fcc" stroke-width="1.0" stroke-linejoin="round" stroke-opacity="0.6"/>
<polyline points="473.1,109.5 472.9,109.8 472.6,110.2 472.3,110.7 472.0,111.3 471.9,112.0 471.8,112.9 471.8,113.9 471.9,115.1 471.9,116.3 471.9,117.4 471.9,118.5 471.9,119.7 471.8,120.8 471.7,121.9 471.7,123.0 471.8,124.0 471.9,124.9 472.1,125.8 472.1,126.7 472.0,127.5 471.7,128.4 471.3,129.1 470.7,129.9 470.1,130.6 469.5,131.3 468.8,132.0 468.1,132.7 467.3,133.4 466.5,134.0 465.7,134.3 465.0,134.3 464.3,134.1 463.6,133.7 462.9,133.3 462.4,132.8 462.1,132.2 461.8,131.4 461.7,130.6 461.6,129.9 461.4,129.3 461.3,129.0 461.2,128.9 461.1,128.9 461.1,128.6 461.1,128.0 461.3,126.8 461.6,125.2 462.0,123.5 462.3,121.6 462.6,120.0 462.9,118.4 463.1,116.8 463.3,115.2 463.5,113.9 463.6,113.0" fill="none" stroke="#1a7fcc" stroke-width="1.0" stroke-linejoin="round" stroke-opacity="0.6"/>
<polyline points="473.1,109.5 473.0,109.8 472.7,110.2 472.5,110.7 472.3,111.3 472.2,112.0 472.2,112.9 472.3,113.9 472.4,115.1 472.6,116.3 472.7,117.4 472.9,118.5 473.0,119.6 473.2,120.7 473.4,121.8 473.7,123.0 474.1,124.2 474.6,125.4 475.1,126.7 475.4,128.0 475.6,129.4 475.4,131.0 475.1,132.8 474.5,134.6 473.9,136.3 473.1,137.7 472.0,138.7 470.8,139.4 469.4,140.0 468.0,140.4 466.7,140.7 465.4,140.7 464.1,140.6 462.8,140.3 461.7,139.8 460.9,139.2 460.3,138.2 460.0,137.0 459.8,135.6 459.8,134.2 459.9,133.0 460.1,132.0 460.4,131.1 460.8,130.2 461.2,129.2 461.6,128.0 461.9,126.6 462.3,125.0 462.6,123.3 462.9,121.6 463.1,120.0 463.4,118.4 463.6,116.8 463.8,115.2 464.0,113.9 464.1,113.0" fill="none" stroke="#1a7fcc" stroke-width="1.0" stroke-linejoin="round" stroke-opacity="0.6"/>
<polyline points="473.1,109.5 472.9,109.8 472.6,110.2 472.3,110.7 472.1,111.3 471.9,112.0 471.8,112.9 471.8,113.9 471.9,115.1 472.0,116.3 472.0,117.4 472.0,118.5 472.0,119.6 471.9,120.7 471.9,121.8 471.9,123.0 472.0,124.3 472.2,125.7 472.3,127.1 472.4,128.3 472.3,129.3 472.0,130.0 471.6,130.4 471.1,130.7 470.5,130.9 469.8,131.3 468.9,131.9 467.9,132.7 466.8,133.4 465.7,134.0 464.6,134.3 463.6,134.4 462.5,134.2 461.5,133.8 460.6,133.3 459.9,132.8 459.4,132.2 459.1,131.5 459.0,130.7 458.9,129.9 458.9,129.3 459.1,129.0 459.4,129.0 459.9,128.9 460.3,128.7 460.7,128.0 461.0,126.8 461.3,125.2 461.6,123.4 461.9,121.6 462.2,120.0 462.4,118.4 462.7,116.8 462.9,115.2 463.0,113.9 463.2,113.0" fill="none" stroke="#1a7fcc" stroke-width="1.0" stroke-linejoin="round" stroke-opacity="0.6"/>
<polyline points="473.1,109.5 472.9,109.8 472.5,110.2 472.2,110.7 471.8,111.3 471.6,112.0 471.5,112.9 471.4,113.9 471.4,115.1 471.4,116.3 471.3,117.4 471.1,118.5 470.9,119.6 470.7,120.6 470.4,121.8 470.2,123.0 470.0,124.3 469.8,125.6 469.7,127.0 469.5,128.5 469.2,130.0 468.8,131.8 468.3,133.7 467.7,135.7 467.2,137.5 466.7,139.0 466.2,140.1 465.6,140.8 465.1,141.4 464.6,141.8 464.2,142.0 463.7,142.1 463.3,142.0 462.9,141.7 462.5,141.3 462.2,140.5 461.9,139.3 461.7,137.8 461.5,136.1 461.4,134.4 461.2,133.0 460.8,131.9 460.5,131.0 460.1,130.1 459.8,129.2 459.7,128.0 459.8,126.6 460.1,125.0 460.5,123.3 460.9,121.6 461.2,120.0 461.4,118.4 461.7,116.8 461.9,115.2 462.1,113.9 462.2,113.0" fill="none" stroke="#1a7fcc" stroke-width="1.0" stroke-linejoin="round" stroke-opacity="0.6"/>
<polyline points="473.1,109.5 472.9,109.8 472.7,110.2 472.4,110.7 472.2,111.3 472.1,112.0 472.1,112.9 472.2,113.9 472.3,115.1 472.4,116.3 472.5,117.4 472.6,118.5 472.7,119.5 472.8,120.6 473.0,121.8 473.2,123.0 473.5,124.3 473.9,125.8 474.3,127.3 474.6,128.8 474.6,130.2 474.5,131.8 474.1,133.4 473.6,135.0 473.0,136.4 472.1,137.6 471.1,138.5 469.8,139.3 468.3,139.9 466.9,140.4 465.5,140.6 464.2,140.7 462.8,140.5 461.5,140.2 460.3,139.8 459.4,139.1 458.8,138.2 458.5,136.9 458.3,135.6 458.3,134.2 458.4,133.0 458.9,132.0 459.6,131.1 460.4,130.2 461.2,129.2 461.8,128.0 462.3,126.6 462.6,125.0 462.9,123.3 463.1,121.6 463.3,120.0 463.6,118.4 463.8,116.8 464.0,115.2 464.2,113.9 464.3,113.0" fill="none" stroke="#1a7fcc" stroke-width="1.0" stroke-linejoin="round" stroke-opacity="0.6"/>
<polyline points="473.1,109.5 472.9,109.8 472.5,110.2 472.2,110.7 471.8,111.3 471.5,112.0 471.4,112.9 471.3,113.9 471.3,115.1 471.3,116.3 471.2,117.4 471.0,118.5 470.7,119.6 470.4,120.8 470.1,121.9 469.9,123.0 469.6,124.1 469.4,125.1 469.2,126.1 468.9,127.2 468.6,128.5 468.2,130.1 467.7,132.0 467.2,133.9 466.6,135.7 466.1,137.1 465.5,138.1 464.9,138.9 464.3,139.5 463.7,139.9 463.2,140.1 462.6,140.1 462.1,140.0 461.6,139.7 461.1,139.2 460.7,138.6 460.4,137.7 460.1,136.6 459.9,135.4 459.8,134.1 459.7,133.0 459.8,132.0 460.1,131.1 460.4,130.2 460.7,129.2 461.0,128.0 461.3,126.6 461.6,125.0 461.9,123.3 462.2,121.6 462.5,120.0 462.7,118.4 463.0,116.8 463.2,115.2 463.4,113.9 463.5,113.0" fill="none" stroke="#1a7fcc" stroke-width="1.0" stroke-linejoin="round" stroke-opacity="0.6"/>
<polyline points="473.1,109.5 472.9,109.8 472.5,110.2 472.2,110.7 471.8,111.3 471.6,112.0 471.4,112.9 471.4,113.9 471.3,115.1 471.3,116.3 471.2,117.4 471.0,118.5 470.7,119.6 470.5,120.8 470.2,121.9 469.9,123.0 469.7,124.0 469.5,125.0 469.3,126.0 469.0,127.0 468.7,128.2 468.3,129.6 467.8,131.3 467.2,133.0 466.7,134.5 466.2,135.8 465.7,136.8 465.2,137.5 464.8,138.1 464.3,138.6 463.9,138.8 463.5,138.8 463.1,138.7 462.7,138.3 462.4,137.8 462.1,137.3 461.8,136.6 461.6,135.8 461.4,134.9 461.3,133.9 461.1,133.0 460.8,132.1 460.4,131.2 460.1,130.2 459.8,129.2 459.7,128.0 459.8,126.6 460.1,125.0 460.5,123.3 460.9,121.6 461.2,120.0 461.5,118.4 461.7,116.8 461.9,115.2 462.1,113.9 462.2,113.0" fill="none" stroke="#1a7fcc" stroke-width="1.0" stroke-linejoin="round" stroke-opacity="0.6"/>
<polyline points="473.1,109.5 473.0,109.8 472.7,110.2 472.5,110.7 472.3,111.3 472.2,112.0 472.2,112.9 472.3,113.9 472.5,115.1 472.7,116.3 472.8,117.4 473.0,118.5 473.2,119.6 473.4,120.7 473.6,121.8 473.9,123.0 474.3,124.3 474.9,125.7 475.5,127.2 475.9,128.5 476.0,129.7 475.9,130.6 475.5,131.3 475.0,131.9 474.3,132.5 473.5,133.1 472.5,133.8 471.2,134.5 469.9,135.2 468.5,135.8 467.2,136.1 465.9,136.1 464.6,135.9 463.3,135.5 462.2,135.1 461.3,134.6 460.8,134.0 460.6,133.3 460.5,132.5 460.4,131.8 460.3,131.1 460.1,130.5 459.9,130.0 459.7,129.6 459.6,128.9 459.6,128.0 459.7,126.7 460.0,125.1 460.4,123.4 460.8,121.6 461.1,120.0 461.3,118.4 461.6,116.8 461.8,115.2 461.9,113.9 462.1,113.0" fill="none" stroke="#1a7fcc" stroke-width="1.0" stroke-linejoin="round" stroke-opacity="0.6"/>
<polyline points="473.1,109.5 473.0,109.8 472.8,110.2 472.6,110.7 472.4,111.3 472.4,112.0 472.4,112.9 472.6,113.9 472.8,115.1 473.0,116.3 473.2,117.4 473.5,118.5 473.8,119.7 474.1,120.8 474.5,121.9 474.9,123.0 475.5,124.1 476.2,125.2 476.9,126.3 477.5,127.2 477.8,128.0 477.7,128.6 477.4,129.0 476.9,129.3 476.1,129.6 475.3,130.0 474.1,130.6 472.7,131.4 471.2,132.1 469.6,132.7 468.1,133.0 466.7,133.0 465.2,132.8 463.7,132.5 462.5,132.0 461.5,131.5 460.9,130.9 460.7,130.1 460.6,129.3 460.6,128.6 460.5,128.0 460.3,127.8 460.0,127.7 459.8,127.7 459.7,127.6 459.6,127.0 459.8,126.0 460.1,124.6 460.5,123.1 460.8,121.5 461.1,120.0 461.4,118.5 461.6,116.9 461.8,115.3 462.0,114.0 462.1,113.0" fill="none" stroke="#1a7fcc" stroke-width="1.0" stroke-linejoin="round" stroke-opacity="0.6"/>
<polyline points="473.1,109.5 472.9,109.8 472.6,110.2 472.2,110.7 471.9,111.3 471.6,112.0 471.5,112.9 471.5,113.9 471.5,115.1 471.4,116.3 471.3,117.4 471.2,118.5 471.0,119.7 470.8,120.8 470.5,121.9 470.3,123.0 470.2,124.0 470.0,124.9 469.9,125.8 469.7,126.8 469.4,127.9 469.0,129.3 468.5,130.8 468.0,132.4 467.4,133.8 466.9,135.0 466.4,136.0 465.9,136.8 465.5,137.4 465.0,137.8 464.6,138.0 464.2,138.1 463.8,137.9 463.4,137.5 463.1,137.0 462.8,136.5 462.5,136.0 462.3,135.3 462.1,134.6 461.9,133.8 461.8,133.0 461.7,132.1 461.6,131.2 461.5,130.3 461.5,129.2 461.6,128.0 461.8,126.6 462.1,125.0 462.5,123.3 462.8,121.6 463.1,120.0 463.4,118.4 463.6,116.8 463.8,115.2 464.0,113.9 464.1,113.0" fill="none" stroke="#1a7fcc" stroke-width="1.0" stroke-linejoin="round" stroke-opacity="0.6"/>
<polyline points="473.1,109.5 472.9,109.8 472.6,110.2 472.2,110.7 471.9,111.3 471.7,112.0 471.6,112.9 471.6,113.9 471.6,115.1 471.6,116.3 471.5,117.4 471.4,118.5 471.3,119.6 471.1,120.7 470.9,121.9 470.8,123.0 470.7,124.2 470.6,125.4 470.6,126.7 470.4,127.8 470.2,128.7 469.9,129.4 469.5,130.0 469.0,130.4 468.4,130.8 467.7,131.2 466.9,131.9 466.0,132.6 464.9,133.3 463.9,133.9 463.0,134.2 462.1,134.3 461.1,134.1 460.2,133.7 459.4,133.2 458.7,132.7 458.3,132.1 457.9,131.4 457.7,130.6 457.6,129.8 457.7,129.2 458.2,129.0 459.0,128.9 459.8,128.9 460.7,128.6 461.3,128.0 461.8,126.8 462.1,125.2 462.4,123.5 462.6,121.6 462.8,120.0 463.1,118.4 463.3,116.8 463.5,115.2 463.7,113.9 463.8,113.0" fill="none" stroke="#1a7fcc" stroke-width="1.0" stroke-linejoin="round" stroke-opacity="0.6"/>
<polyline points="473.1,109.5 472.9,109.8 472.5,110.2 472.2,110.7 471.8,111.3 471.6,112.0 471.4,112.9 471.4,113.9 471.4,115.1 471.3,116.3 471.2,117.4 471.0,118.5 470.8,119.6 470.5,120.7 470.2,121.9 470.0,123.0 469.7,124.1 469.5,125.2 469.3,126.3 469.1,127.4 468.8,128.6 468.4,130.0 468.0,131.4 467.5,132.9 466.9,134.2 466.3,135.3 465.5,136.2 464.7,137.0 463.8,137.6 462.8,138.1 462.0,138.3 461.2,138.4 460.3,138.2 459.5,137.8 458.8,137.4 458.2,136.8 457.8,136.2 457.4,135.5 457.2,134.7 457.1,133.9 457.2,133.0 457.5,132.1 458.1,131.2 458.7,130.3 459.3,129.2 459.8,128.0 460.2,126.6 460.5,125.0 460.8,123.3 461.1,121.6 461.3,120.0 461.6,118.4 461.8,116.8 462.0,115.2 462.2,113.9 462.3,113.0" fill="none" stroke="#1a7fcc" stroke-width="1.0" stroke-linejoin="round" stroke-opacity="0.6"/>
<polyline points="473.1,109.5 472.9,109.8 472.5,110.2 472.1,110.7 471.8,111.3 471.5,112.0 471.3,112.9 471.2,113.9 471.2,115.1 471.1,116.3 471.0,117.4 470.7,118.5 470.4,119.6 470.1,120.6 469.8,121.8 469.4,123.0 469.1,124.3 468.8,125.6 468.5,127.0 468.2,128.5 467.8,130.1 467.3,132.2 466.9,134.5 466.3,136.9 465.8,139.1 465.3,140.8 464.8,142.0 464.3,142.8 463.8,143.3 463.3,143.6 462.8,143.8 462.4,143.9 462.0,143.9 461.6,143.7 461.2,143.2 460.9,142.3 460.6,140.9 460.3,138.9 460.0,136.8 459.9,134.7 459.9,133.0 460.1,131.8 460.4,130.8 460.9,130.0 461.3,129.1 461.7,128.0 462.1,126.6 462.4,125.0 462.7,123.3 463.0,121.6 463.2,120.0 463.5,118.4 463.7,116.8 463.9,115.2 464.1,113.9 464.2,113.0" fill="none" stroke="#1a7fcc" stroke-width="1.0" stroke-linejoin="round" stroke-opacity="0.6"/>
<polyline points="473.1,109.5 472.9,109.8 472.5,110.2 472.2,110.7 471.8,111.3 471.5,112.0 471.4,112.9 471.3,113.9 471.3,115.1 471.3,116.3 471.1,117.4 470.9,118.5 470.7,119.6 470.4,120.7 470.1,121.9 469.8,123.0 469.6,124.1 469.3,125.2 469.1,126.4 468.8,127.6 468.5,129.0 468.1,130.6 467.6,132.5 467.1,134.4 466.6,136.2 466.0,137.6 465.3,138.6 464.6,139.4 463.9,140.0 463.2,140.4 462.5,140.6 461.9,140.7 461.2,140.6 460.6,140.3 460.0,139.8 459.6,139.1 459.2,138.2 458.9,136.9 458.6,135.6 458.5,134.2 458.6,133.0 458.9,132.0 459.5,131.1 460.1,130.2 460.8,129.2 461.3,128.0 461.7,126.6 462.0,125.0 462.3,123.3 462.6,121.6 462.8,120.0 463.0,118.4 463.3,116.8 463.5,115.2 463.7,113.9 463.8,113.0" fill="none" stroke="#1a7fcc" stroke-width="1.0" stroke-linejoin="round" stroke-opacity="0.6"/>
<polyline points="473.1,109.5 473.0,109.8 472.8,110.2 472.6,110.7 472.4,111.3 472.3,112.0 472.4,112.9 472.5,113.9 472.7,115.1 472.9,116.3 473.1,117.4 473.4,118.5 473.6,119.7 473.9,120.8 474.2,121.9 474.6,123.0 475.2,123.9 475.9,124.8 476.6,125.6 477.1,126.6 477.3,128.0 477.3,129.8 477.0,132.0 476.5,134.4 475.8,136.5 474.8,138.2 473.5,139.4 471.8,140.2 470.0,140.7 468.1,141.0 466.3,141.2 464.6,141.3 462.7,141.2 461.0,140.9 459.4,140.4 458.3,139.7 457.5,138.7 457.1,137.3 457.0,135.8 457.0,134.3 457.3,133.0 457.8,131.9 458.8,131.0 459.8,130.1 460.8,129.2 461.6,128.0 462.1,126.6 462.4,125.0 462.7,123.3 462.9,121.6 463.1,120.0 463.3,118.4 463.6,116.8 463.8,115.2 464.0,113.9 464.1,113.0" fill="none" stroke="#1a7fcc" stroke-width="1.0" stroke-linejoin="round" stroke-opacity="0.6"/>
<polyline points="473.1,109.5 472.9,109.8 472.7,110.2 472.4,110.7 472.2,111.3 472.0,112.0 472.0,112.9 472.1,113.9 472.2,115.1 472.3,116.3 472.4,117.4 472.4,118.5 472.5,119.6 472.6,120.7 472.7,121.8 472.8,123.0 473.0,124.2 473.4,125.4 473.7,126.7 473.9,128.0 473.9,129.4 473.7,130.8 473.3,132.5 472.8,134.1 472.1,135.5 471.4,136.8 470.6,137.7 469.7,138.5 468.7,139.1 467.7,139.5 466.7,139.8 465.8,139.8 464.9,139.7 464.0,139.4 463.2,138.9 462.6,138.3 462.1,137.4 461.9,136.4 461.8,135.3 461.7,134.1 461.6,133.0 461.4,132.0 461.3,131.1 461.2,130.2 461.1,129.2 461.2,128.0 461.4,126.6 461.7,125.0 462.0,123.3 462.4,121.6 462.7,120.0 462.9,118.4 463.1,116.8 463.4,115.2 463.5,113.9 463.7,113.0" fill="none" stroke="#1a7fcc" stroke-width="1.0" stroke-linejoin="round" stroke-opacity="0.6"/>
<polyline points="473.1,109.5 472.9,109.8 472.6,110.2 472.2,110.7 471.9,111.3 471.7,112.0 471.6,112.9 471.5,113.9 471.5,115.1 471.5,116.3 471.5,117.4 471.3,118.5 471.1,119.6 470.9,120.7 470.8,121.8 470.6,123.0 470.5,124.2 470.4,125.3 470.3,126.5 470.1,127.8 469.9,129.1 469.5,130.5 469.1,132.0 468.6,133.6 468.0,135.0 467.4,136.2 466.6,137.2 465.8,137.9 464.9,138.5 463.9,139.0 463.1,139.2 462.2,139.3 461.4,139.1 460.6,138.8 459.8,138.3 459.3,137.7 458.8,137.0 458.5,136.1 458.2,135.1 458.1,134.0 458.3,133.0 458.7,132.1 459.4,131.2 460.3,130.2 461.1,129.2 461.8,128.0 462.2,126.6 462.5,125.0 462.8,123.3 463.0,121.6 463.3,120.0 463.5,118.4 463.7,116.8 463.9,115.2 464.1,113.9 464.3,113.0" fill="none" stroke="#1a7fcc" stroke-width="1.0" stroke-linejoin="round" stroke-opacity="0.6"/>
<polyline points="473.1,109.5 472.9,109.8 472.5,110.2 472.2,110.7 471.8,111.3 471.5,112.0 471.4,112.9 471.3,113.9 471.3,115.1 471.3,116.3 471.1,117.4 470.9,118.5 470.7,119.7 470.4,120.8 470.1,121.9 469.8,123.0 469.6,123.9 469.3,124.7 469.1,125.6 468.8,126.6 468.5,128.0 468.1,130.1 467.6,132.6 467.1,135.3 466.5,137.7 466.0,139.6 465.4,140.8 464.7,141.6 464.0,142.1 463.3,142.4 462.7,142.6 462.0,142.6 461.4,142.6 460.8,142.3 460.3,141.8 459.9,141.1 459.5,139.8 459.1,138.2 458.9,136.3 458.8,134.5 458.9,133.0 459.2,131.9 459.8,130.9 460.5,130.1 461.2,129.1 461.7,128.0 462.1,126.6 462.4,125.0 462.7,123.3 463.0,121.6 463.2,120.0 463.5,118.4 463.7,116.8 463.9,115.2 464.1,113.9 464.2,113.0" fill="none" stroke="#1a7fcc" stroke-width="1.0" stroke-linejoin="round" stroke-opacity="0.6"/>
<polyline points="473.1,109.5 472.9,109.8 472.7,110.2 472.5,110.7 472.2,111.3 472.1,112.0 472.1,112.9 472.2,113.9 472.3,115.1 472.5,116.3 472.6,117.4 472.7,118.5 472.8,119.7 472.9,120.8 473.1,121.9 473.3,123.0 473.6,124.0 474.0,124.9 474.5,125.7 474.8,126.7 474.8,127.8 474.7,129.1 474.4,130.7 473.9,132.2 473.2,133.7 472.3,134.9 471.2,135.9 469.8,136.6 468.2,137.2 466.6,137.7 465.1,137.9 463.7,137.9 462.1,137.7 460.7,137.4 459.4,136.9 458.4,136.4 457.8,135.9 457.4,135.2 457.2,134.5 457.2,133.7 457.4,132.9 458.0,132.1 458.8,131.2 459.8,130.3 460.8,129.2 461.5,128.0 462.0,126.6 462.3,125.0 462.6,123.3 462.8,121.6 463.0,120.0 463.3,118.4 463.5,116.8 463.7,115.2 463.9,113.9 464.0,113.0" fill="none" stroke="#1a7fcc" stroke-width="1.0" stroke-linejoin="round" stroke-opacity="0.6"/>
<polyline points="473.1,109.5 472.9,109.8 472.5,110.2 472.1,110.7 471.8,111.3 471.5,112.0 471.4,112.9 471.3,113.9 471.3,115.1 471.2,116.3 471.1,117.4 470.9,118.5 470.6,119.6 470.3,120.7 470.0,121.9 469.7,123.0 469.5,124.2 469.3,125.3 469.0,126.5 468.7,127.7 468.4,128.9 468.0,130.3 467.5,131.8 467.0,133.2 466.5,134.6 465.9,135.7 465.2,136.6 464.5,137.4 463.7,138.0 463.0,138.4 462.3,138.7 461.6,138.7 460.9,138.5 460.3,138.2 459.7,137.7 459.2,137.2 458.8,136.5 458.4,135.7 458.1,134.9 458.0,133.9 458.2,133.0 458.7,132.1 459.5,131.2 460.5,130.3 461.4,129.2 462.1,128.0 462.6,126.6 462.9,125.0 463.2,123.3 463.4,121.6 463.6,120.0 463.9,118.4 464.1,116.8 464.3,115.2 464.5,113.9 464.6,113.0" fill="none" stroke="#1a7fcc" stroke-width="1.0" stroke-linejoin="round" stroke-opacity="0.6"/>
<polyline points="473.1,109.5 472.9,109.8 472.6,110.2 472.2,110.7 471.9,111.3 471.7,112.0 471.6,112.9 471.6,113.9 471.6,115.1 471.6,116.3 471.6,117.4 471.5,118.5 471.4,119.7 471.2,120.8 471.1,121.9 470.9,123.0 470.9,124.0 470.9,124.9 470.8,125.8 470.8,126.7 470.6,127.7 470.2,128.7 469.8,129.9 469.4,131.0 468.8,132.1 468.1,133.0 467.2,133.8 466.1,134.6 465.0,135.2 463.9,135.7 462.9,136.0 461.8,136.0 460.8,135.8 459.7,135.5 458.8,135.0 458.1,134.5 457.6,133.9 457.2,133.2 457.0,132.5 456.9,131.7 457.1,131.0 457.7,130.4 458.7,130.0 459.8,129.5 460.9,128.9 461.7,128.0 462.2,126.7 462.5,125.1 462.8,123.4 463.0,121.6 463.2,120.0 463.4,118.4 463.7,116.8 463.9,115.2 464.0,113.9 464.2,113.0" fill="none" stroke="#1a7fcc" stroke-width="1.0" stroke-linejoin="round" stroke-opacity="0.6"/>
<polyline points="473.1,109.5 472.9,109.8 472.5,110.2 472.2,110.7 471.8,111.3 471.6,112.0 471.4,112.9 471.4,113.9 471.3,115.1 471.3,116.3 471.2,117.4 471.0,118.5 470.7,119.7 470.5,120.8 470.2,121.9 469.9,123.0 469.7,124.0 469.5,125.1 469.2,126.1 469.0,127.0 468.7,127.8 468.2,128.5 467.8,129.1 467.2,129.7 466.7,130.2 466.2,130.7 465.6,131.4 465.1,132.1 464.6,132.8 464.0,133.4 463.5,133.7 463.1,133.8 462.6,133.6 462.2,133.2 461.8,132.7 461.4,132.2 461.1,131.6 460.9,130.9 460.7,130.0 460.5,129.3 460.4,128.7 460.3,128.5 460.2,128.5 460.1,128.5 460.1,128.3 460.2,127.7 460.4,126.6 460.7,125.1 461.0,123.4 461.4,121.6 461.7,120.0 461.9,118.4 462.2,116.8 462.4,115.3 462.5,113.9 462.7,113.0" fill="none" stroke="#1a7fcc" stroke-width="1.0" stroke-linejoin="round" stroke-opacity="0.6"/>
<polyline points="473.1,109.5 473.0,109.8 472.8,110.2 472.6,110.7 472.4,111.3 472.4,112.0 472.4,112.9 472.6,113.9 472.8,115.1 473.0,116.3 473.2,117.4 473.5,118.5 473.8,119.6 474.1,120.7 474.4,121.8 474.8,123.0 475.4,124.2 476.1,125.5 476.9,126.9 477.5,128.1 477.7,129.4 477.6,130.6 477.3,131.7 476.8,132.8 476.1,133.9 475.2,134.8 474.1,135.6 472.8,136.4 471.3,137.0 469.8,137.5 468.4,137.8 467.0,137.8 465.6,137.6 464.2,137.2 463.0,136.8 462.1,136.3 461.6,135.7 461.3,135.1 461.3,134.4 461.2,133.6 461.1,132.8 460.8,132.0 460.5,131.1 460.2,130.2 460.0,129.2 459.9,128.0 460.1,126.6 460.4,125.0 460.7,123.3 461.1,121.6 461.4,120.0 461.7,118.4 461.9,116.8 462.1,115.2 462.3,113.9 462.4,113.0" fill="none" stroke="#1a7fcc" stroke-width="1.0" stroke-linejoin="round" stroke-opacity="0.6"/>
<polyline points="473.1,109.5 472.9,109.8 472.6,110.2 472.3,110.7 472.0,111.3 471.8,112.0 471.7,112.9 471.7,113.9 471.7,115.1 471.7,116.3 471.7,117.4 471.6,118.5 471.5,119.6 471.3,120.8 471.2,121.9 471.1,123.0 471.1,124.0 471.1,125.0 471.1,125.9 471.1,127.1 470.9,128.5 470.6,130.5 470.2,132.9 469.7,135.5 469.1,137.8 468.4,139.6 467.6,140.7 466.7,141.5 465.7,142.1 464.7,142.4 463.8,142.6 462.9,142.6 462.0,142.6 461.1,142.3 460.3,141.8 459.7,141.1 459.2,139.8 458.9,138.2 458.7,136.3 458.6,134.5 458.7,133.0 459.0,131.9 459.5,130.9 460.2,130.1 460.8,129.1 461.3,128.0 461.7,126.6 462.0,125.0 462.3,123.3 462.6,121.6 462.8,120.0 463.1,118.4 463.3,116.8 463.5,115.2 463.7,113.9 463.8,113.0" fill="none" stroke="#1a7fcc" stroke-width="1.0" stroke-linejoin="round" stroke-opacity="0.6"/>
<polyline points="473.1,109.5 472.9,109.8 472.6,110.2 472.3,110.7 472.0,111.3 471.8,112.0 471.7,112.9 471.7,113.9 471.7,115.1 471.8,116.3 471.8,117.4 471.7,118.5 471.6,119.6 471.5,120.7 471.4,121.8 471.3,123.0 471.3,124.2 471.4,125.5 471.4,126.8 471.4,128.3 471.2,129.9 470.9,131.9 470.5,134.2 469.9,136.5 469.3,138.7 468.7,140.3 468.1,141.5 467.4,142.3 466.6,142.8 465.9,143.1 465.2,143.3 464.5,143.4 463.8,143.4 463.2,143.2 462.6,142.7 462.2,141.8 461.8,140.5 461.5,138.6 461.4,136.6 461.2,134.6 461.2,133.0 461.1,131.8 461.1,130.9 461.2,130.0 461.3,129.1 461.4,128.0 461.7,126.6 462.0,125.0 462.3,123.3 462.7,121.6 462.9,120.0 463.2,118.4 463.4,116.8 463.6,115.2 463.8,113.9 463.9,113.0" fill="none" stroke="#1a7fcc" stroke-width="1.0" stroke-linejoin="round" stroke-opacity="0.6"/>
<polyline points="473.1,109.5 472.9,109.8 472.6,110.2 472.3,110.7 472.0,111.3 471.8,112.0 471.8,112.9 471.8,113.9 471.8,115.1 471.9,116.3 471.9,117.4 471.8,118.5 471.8,119.6 471.7,120.7 471.6,121.8 471.6,123.0 471.6,124.3 471.8,125.6 471.9,126.9 471.9,128.2 471.8,129.2 471.5,130.0 471.1,130.7 470.5,131.2 469.9,131.7 469.3,132.2 468.5,132.9 467.6,133.6 466.6,134.3 465.6,134.9 464.7,135.2 463.8,135.2 462.9,135.0 462.0,134.7 461.2,134.2 460.6,133.7 460.1,133.1 459.8,132.4 459.6,131.6 459.6,130.9 459.6,130.2 459.8,129.8 460.1,129.5 460.5,129.2 460.9,128.8 461.3,128.0 461.6,126.8 461.9,125.2 462.2,123.4 462.5,121.6 462.8,120.0 463.0,118.4 463.3,116.8 463.5,115.2 463.6,113.9 463.8,113.0" fill="none" stroke="#1a7fcc" stroke-width="1.0" stroke-linejoin="round" stroke-opacity="0.6"/>
<polyline points="473.1,109.5 472.9,109.8 472.7,110.2 472.5,110.7 472.3,111.3 472.1,112.0 472.1,112.9 472.2,113.9 472.4,115.1 472.5,116.3 472.7,117.4 472.8,118.5 472.9,119.6 473.0,120.8 473.2,121.9 473.4,123.0 473.8,124.0 474.3,124.8 474.7,125.7 475.1,126.8 475.1,128.1 475.0,129.9 474.7,132.0 474.2,134.3 473.5,136.4 472.6,138.0 471.5,139.1 470.0,139.9 468.4,140.5 466.8,140.8 465.3,141.0 463.8,141.1 462.3,141.0 460.8,140.7 459.5,140.2 458.5,139.5 457.9,138.5 457.5,137.2 457.4,135.7 457.4,134.3 457.5,133.0 457.7,132.0 458.1,131.0 458.6,130.1 459.2,129.2 459.6,128.0 459.9,126.6 460.3,125.0 460.6,123.3 460.8,121.6 461.1,120.0 461.3,118.4 461.6,116.8 461.8,115.2 462.0,113.9 462.1,113.0" fill="none" stroke="#1a7fcc" stroke-width="1.0" stroke-linejoin="round" stroke-opacity="0.6"/>
<polyline points="473.1,109.5 472.9,109.8 472.5,110.2 472.1,110.7 471.7,111.3 471.4,112.0 471.3,112.9 471.2,113.9 471.1,115.1 471.1,116.3 470.9,117.4 470.6,118.5 470.3,119.7 470.0,120.8 469.6,121.9 469.2,123.0 468.9,124.0 468.6,124.9 468.2,125.8 467.8,126.6 467.4,127.5 467.0,128.4 466.5,129.2 466.0,130.1 465.4,130.9 464.9,131.7 464.4,132.4 463.9,133.2 463.4,133.8 462.9,134.4 462.4,134.7 462.0,134.7 461.5,134.5 461.1,134.1 460.7,133.7 460.4,133.2 460.1,132.6 459.8,131.8 459.5,131.0 459.4,130.3 459.4,129.7 459.7,129.3 460.2,129.2 460.7,129.0 461.3,128.7 461.8,128.0 462.1,126.8 462.5,125.2 462.8,123.4 463.0,121.6 463.3,120.0 463.5,118.4 463.8,116.8 464.0,115.2 464.2,113.9 464.3,113.0" fill="none" stroke="#1a7fcc" stroke-width="1.0" stroke-linejoin="round" stroke-opacity="0.6"/>
<polyline points="473.1,109.5 477.1,106.6" fill="none" stroke="#f5a623" stroke-width="2.4" stroke-linejoin="round" />
<circle cx="477.1" cy="106.6" r="3.3" fill="#000"/>
</g>
<g clip-path="url(#cm0)"><circle cx="188.5" cy="65.8" r="3.3" fill="#000"/></g>
<g clip-path="url(#ca0)">
<polyline points="45.7,233.0 48.4,233.2 52.2,232.9 54.9,234.0 60.4,236.7 65.8,239.5 69.1,240.0 83.3,239.8 85.5,240.0 89.8,243.3 95.3,246.0 98.5,248.2 101.1,249.6 106.5,250.9 110.9,252.5 116.4,256.4 120.2,259.4 124.0,260.0 131.6,259.6 134.9,261.3 140.4,264.0 145.8,266.7 151.8,269.2" fill="none" stroke="#dc143c" stroke-width="1.9" stroke-linejoin="round" stroke-dasharray="7,3"/>
</g>
<g clip-path="url(#cg0)">
<polyline points="45.7,295.9 48.9,295.8 50.5,296.9 52.7,296.4 54.9,296.9 56.0,298.0 56.5,299.6 59.3,300.2 62.5,300.2 64.2,298.5 64.7,293.6 65.3,291.5 66.9,293.6 69.1,294.2 72.4,294.5 75.6,294.2 77.8,292.5 80.0,293.1 82.2,293.6 85.5,293.6 88.2,294.5 89.8,295.8 92.0,298.0 94.7,300.7 96.4,301.3 98.5,296.9 99.6,295.3 100.7,298.0 101.1,302.5 102.2,304.7 104.4,306.9 106.5,308.0 108.7,309.6 110.9,313.5 112.5,315.6 115.3,315.4 118.5,316.2 120.7,317.3 124.0,318.4 127.3,318.9 130.5,319.5 133.8,320.9 136.5,321.1 139.3,322.2 142.5,322.0 145.3,322.2 146.9,324.4 149.1,327.1 151.3,327.6" fill="none" stroke="#dc143c" stroke-width="1.9" stroke-linejoin="round" stroke-dasharray="7,3"/>
</g>
<g clip-path="url(#ca1)">
<polyline points="213.6,233.0 216.3,233.2 220.1,232.9 222.8,234.0 228.3,236.7 233.2,239.2" fill="none" stroke="#dc143c" stroke-width="1.9" stroke-linejoin="round" stroke-dasharray="7,3"/>
</g>
<g clip-path="url(#cg1)">
<polyline points="213.6,295.9 216.8,295.8 218.4,296.9 220.6,296.4 222.8,296.9 223.9,298.0 224.4,299.6 227.2,300.2 230.4,300.2 232.1,298.5 232.6,293.6 233.2,291.5 233.2,291.5" fill="none" stroke="#dc143c" stroke-width="1.9" stroke-linejoin="round" stroke-dasharray="7,3"/>
<polyline points="264.3,301.3 266.4,296.9 267.5,295.3 268.6,298.0 269.0,302.5" fill="none" stroke="#dc143c" stroke-width="1.9" stroke-linejoin="round" />
</g>
<g clip-path="url(#ca2)">
<polyline points="380.8,233.0 383.5,233.2 387.3,232.9 390.0,234.0 395.5,236.7 400.9,239.5 404.2,240.0 418.4,239.8 420.6,240.0 424.9,243.3 425.4,243.5" fill="none" stroke="#dc143c" stroke-width="1.9" stroke-linejoin="round" stroke-dasharray="7,3"/>
</g>
<g clip-path="url(#cg2)">
<polyline points="380.8,295.9 384.0,295.8 385.6,296.9 387.8,296.4 390.0,296.9 391.1,298.0 391.6,299.6 394.4,300.2 397.6,300.2 399.3,298.5 399.8,293.6 400.4,291.5 402.0,293.6 404.2,294.2 407.5,294.5 410.7,294.2 412.9,292.5 415.1,293.1 417.3,293.6 420.6,293.6 423.3,294.5 424.9,295.8 425.4,296.3" fill="none" stroke="#dc143c" stroke-width="1.9" stroke-linejoin="round" stroke-dasharray="7,3"/>
<polyline points="431.5,301.3 433.6,296.9 434.7,295.3 435.8,298.0 436.2,302.5" fill="none" stroke="#dc143c" stroke-width="1.9" stroke-linejoin="round" />
</g>
<g clip-path="url(#ca1)">
<polyline points="233.2,239.2 238.8,239.3" fill="none" stroke="#f5a623" stroke-width="1.2" stroke-linejoin="round" />
<polyline points="233.2,239.2 238.8,239.4" fill="none" stroke="#f5a623" stroke-width="1.2" stroke-linejoin="round" />
<polyline points="233.2,239.2 238.8,239.2" fill="none" stroke="#f5a623" stroke-width="1.2" stroke-linejoin="round" />
<polyline points="233.2,239.2 238.8,239.1" fill="none" stroke="#f5a623" stroke-width="1.2" stroke-linejoin="round" />
<polyline points="233.2,239.2 238.8,239.5" fill="none" stroke="#f5a623" stroke-width="1.2" stroke-linejoin="round" />
<polyline points="233.2,239.2 238.8,239.6" fill="none" stroke="#f5a623" stroke-width="1.2" stroke-linejoin="round" />
<polyline points="233.2,239.2 238.8,239.5" fill="none" stroke="#f5a623" stroke-width="1.2" stroke-linejoin="round" />
<polyline points="233.2,239.2 238.8,239.1" fill="none" stroke="#f5a623" stroke-width="1.2" stroke-linejoin="round" />
<polyline points="233.2,239.2 238.8,239.8" fill="none" stroke="#f5a623" stroke-width="1.2" stroke-linejoin="round" />
<polyline points="233.2,239.2 238.8,239.9" fill="none" stroke="#f5a623" stroke-width="1.2" stroke-linejoin="round" />
<polyline points="233.2,239.2 238.8,240.1" fill="none" stroke="#f5a623" stroke-width="1.2" stroke-linejoin="round" />
<polyline points="233.2,239.2 238.8,239.9" fill="none" stroke="#f5a623" stroke-width="1.2" stroke-linejoin="round" />
<polyline points="233.2,239.2 238.8,240.0" fill="none" stroke="#f5a623" stroke-width="1.2" stroke-linejoin="round" />
<polyline points="233.2,239.2 238.8,240.5" fill="none" stroke="#f5a623" stroke-width="1.2" stroke-linejoin="round" />
<polyline points="233.2,239.2 238.8,240.8" fill="none" stroke="#f5a623" stroke-width="1.2" stroke-linejoin="round" />
<polyline points="233.2,239.2 238.8,240.4" fill="none" stroke="#f5a623" stroke-width="1.2" stroke-linejoin="round" />
<polyline points="233.2,239.2 238.8,240.5" fill="none" stroke="#f5a623" stroke-width="1.2" stroke-linejoin="round" />
<polyline points="233.2,239.2 238.8,240.4" fill="none" stroke="#f5a623" stroke-width="1.2" stroke-linejoin="round" />
<polyline points="233.2,239.2 238.8,240.7" fill="none" stroke="#f5a623" stroke-width="1.2" stroke-linejoin="round" />
<polyline points="233.2,239.2 238.8,240.5" fill="none" stroke="#f5a623" stroke-width="1.2" stroke-linejoin="round" />
<polyline points="233.2,239.2 238.8,241.1" fill="none" stroke="#f5a623" stroke-width="1.2" stroke-linejoin="round" />
<polyline points="233.2,239.2 238.8,241.1" fill="none" stroke="#f5a623" stroke-width="1.2" stroke-linejoin="round" />
<polyline points="233.2,239.2 238.8,241.1" fill="none" stroke="#f5a623" stroke-width="1.2" stroke-linejoin="round" />
<polyline points="233.2,239.2 238.8,241.4" fill="none" stroke="#f5a623" stroke-width="1.2" stroke-linejoin="round" />
<polyline points="233.2,239.2 238.8,241.2" fill="none" stroke="#f5a623" stroke-width="1.2" stroke-linejoin="round" />
<polyline points="233.2,239.2 238.8,241.9" fill="none" stroke="#f5a623" stroke-width="1.2" stroke-linejoin="round" />
<polyline points="233.2,239.2 238.8,241.8" fill="none" stroke="#f5a623" stroke-width="1.2" stroke-linejoin="round" />
<polyline points="233.2,239.2 238.8,241.9" fill="none" stroke="#f5a623" stroke-width="1.2" stroke-linejoin="round" />
<polyline points="233.2,239.2 238.8,242.1" fill="none" stroke="#f5a623" stroke-width="1.2" stroke-linejoin="round" />
<polyline points="233.2,239.2 238.8,242.6" fill="none" stroke="#f5a623" stroke-width="1.2" stroke-linejoin="round" />
<polyline points="233.2,239.2 238.8,242.3" fill="none" stroke="#f5a623" stroke-width="1.2" stroke-linejoin="round" />
<polyline points="233.2,239.2 238.8,241.7" fill="none" stroke="#f5a623" stroke-width="1.2" stroke-linejoin="round" />
<polyline points="233.2,239.2 238.8,242.2" fill="none" stroke="#f5a623" stroke-width="1.2" stroke-linejoin="round" />
<polyline points="233.2,239.2 238.8,242.3" fill="none" stroke="#f5a623" stroke-width="1.2" stroke-linejoin="round" />
<polyline points="233.2,239.2 238.8,242.4" fill="none" stroke="#f5a623" stroke-width="1.2" stroke-linejoin="round" />
<polyline points="233.2,239.2 238.8,242.7" fill="none" stroke="#f5a623" stroke-width="1.2" stroke-linejoin="round" />
<polyline points="238.8,239.3 240.9,239.1 242.9,239.3 244.9,239.5 247.0,239.1 249.0,239.4 251.1,239.4 253.1,239.8 255.3,240.4 257.4,241.3 259.5,242.1 261.6,242.3 263.5,242.8 265.7,243.2 267.8,244.1 269.6,245.3 271.7,246.5 273.7,247.7 275.9,248.8 277.6,249.6 279.5,250.2 282.2,250.8 283.6,251.4 286.4,252.1 287.8,251.4 290.3,251.7 292.6,251.8 294.2,252.3 296.5,252.5 298.4,252.3 300.1,252.8 302.6,252.0 304.6,252.5 306.6,253.5 308.7,254.4 310.6,254.9 312.9,255.6 315.1,255.9 317.1,255.8 319.2,255.9 320.9,256.2 323.6,255.7 325.7,255.7 327.2,256.2 329.6,256.1 331.8,256.6 334.0,257.5 335.9,259.0 337.2,259.3 339.3,260.1 341.4,260.7 344.4,261.4 345.5,262.2 347.6,263.0 349.5,263.8 352.4,264.4 353.6,265.5 356.0,266.4 357.4,267.2 359.7,268.2 360.9,269.0" fill="none" stroke="#1a7fcc" stroke-width="1.2" stroke-linejoin="round" stroke-opacity="0.8"/>
<polyline points="238.8,239.4 240.9,239.3 242.8,239.0 245.0,238.7 247.0,238.9 248.8,239.4 251.0,239.3 253.0,239.9 254.9,240.7 257.1,241.2 259.4,241.7 261.2,242.3 263.1,242.9 265.7,243.7 267.4,244.5 269.2,245.3 271.3,246.4 273.7,246.9 275.6,248.1 277.5,249.1 279.8,249.9 281.8,251.0 283.4,251.7 285.8,252.1 287.5,251.8 290.6,251.9 291.9,251.3 293.9,251.6 296.2,251.9 297.4,252.8 299.7,253.0 301.8,252.3 303.7,252.4 305.6,253.3 308.2,253.8 310.5,254.7 311.7,255.5 314.2,256.2 316.8,256.4 318.0,256.4 320.9,256.6 322.2,256.8 323.7,257.2 326.6,257.2 329.0,257.1 331.7,257.2 333.4,257.9 334.4,259.1 336.6,259.5 337.8,260.4 340.4,260.9 341.9,261.6 344.4,262.0 345.2,262.6 350.5,263.4 352.0,264.2 353.2,265.1 353.9,266.1 357.9,267.0 358.5,268.0 360.5,269.0" fill="none" stroke="#1a7fcc" stroke-width="1.2" stroke-linejoin="round" stroke-opacity="0.8"/>
<polyline points="238.8,239.2 240.8,239.3 242.8,239.3 244.8,239.8 247.0,239.2 248.9,239.7 251.0,239.9 252.9,240.1 254.9,240.2 256.5,241.3 259.0,241.5 260.9,242.3 262.7,243.0 265.2,243.9 267.1,244.5 268.8,245.9 271.1,246.3 272.6,247.1 274.8,248.3 276.6,249.3 279.2,250.2 281.5,250.5 283.0,251.2 285.4,251.2 287.5,251.8 288.9,251.7 291.3,251.3 292.8,251.6 295.9,251.3 297.1,251.8 298.8,252.4 301.4,252.3 302.6,252.9 305.9,253.2 307.4,254.1 309.1,254.5 311.4,255.6 314.0,256.0 315.5,256.4 318.4,256.2 319.3,256.4 321.0,256.7 323.1,256.9 325.6,256.9 328.5,256.9 330.6,257.6 333.0,258.3 333.7,259.8 335.5,260.4 337.2,260.9 338.7,261.4 341.1,261.7 343.8,262.3 344.9,263.0 347.2,263.7 350.0,264.4 352.5,265.3 354.0,266.4 354.8,267.4 358.3,268.2 358.8,269.1" fill="none" stroke="#1a7fcc" stroke-width="1.2" stroke-linejoin="round" stroke-opacity="0.8"/>
<polyline points="238.8,239.1 240.8,239.3 242.8,239.0 244.8,239.2 246.7,239.5 248.9,239.7 250.7,240.1 252.6,240.4 254.7,241.1 256.7,241.9 258.8,242.5 260.5,242.3 262.6,242.9 264.7,243.6 266.9,244.5 268.7,245.8 270.6,246.5 272.7,247.4 273.9,248.7 276.6,249.3 278.6,250.2 280.8,251.2 282.7,251.5 284.3,251.4 286.5,251.3 289.0,251.9 290.7,252.0 292.5,252.5 294.2,252.1 297.6,252.4 297.4,252.1 301.7,252.1 301.9,253.0 303.9,253.2 306.6,254.2 308.4,254.9 310.5,255.5 312.9,255.7 314.0,256.3 316.3,256.7 319.4,257.1 320.4,257.1 324.1,257.2 324.8,257.2 325.0,257.6 328.6,257.8 329.8,258.9 331.3,259.8 333.6,260.0 335.7,260.8 338.7,261.5 340.3,262.2 343.1,262.6 343.8,263.2 347.6,263.5 347.3,264.5 349.4,265.5 353.0,266.3 354.3,267.1 356.4,268.2 357.9,268.9" fill="none" stroke="#1a7fcc" stroke-width="1.2" stroke-linejoin="round" stroke-opacity="0.8"/>
<polyline points="238.8,239.5 240.8,239.5 242.7,239.5 244.7,239.8 246.6,239.5 248.7,239.8 250.6,239.5 252.7,240.5 254.5,241.3 256.2,242.2 258.4,242.6 260.7,242.7 262.1,242.7 264.1,243.4 266.5,244.5 268.1,245.5 270.3,246.4 272.2,247.4 274.1,248.6 275.6,250.0 277.9,250.4 280.7,251.0 281.4,251.4 284.3,251.6 286.2,251.6 287.2,251.8 289.6,251.5 291.7,251.9 293.6,252.6 295.9,252.6 297.6,253.2 299.8,252.6 301.6,253.2 303.2,254.3 306.2,254.4 306.3,255.5 309.5,256.1 311.8,256.2 313.3,256.7 316.6,256.3 317.7,256.7 320.5,256.4 320.7,257.3 322.8,257.3 325.4,257.8 327.5,257.6 329.2,258.5 330.7,259.6 333.4,260.4 334.8,261.1 336.8,261.7 340.0,261.9 340.7,262.8 343.0,263.2 344.7,263.8 347.3,264.6 347.9,265.6 351.4,266.3 353.4,267.1 354.1,267.9 357.5,268.9" fill="none" stroke="#1a7fcc" stroke-width="1.2" stroke-linejoin="round" stroke-opacity="0.8"/>
<polyline points="238.8,239.6 240.8,239.7 242.7,239.4 244.7,239.8 246.7,239.8 248.5,240.3 250.6,240.2 252.4,241.2 254.3,241.3 256.5,241.6 258.3,242.0 260.3,242.5 262.4,242.8 264.3,243.6 266.0,244.7 268.3,246.1 270.3,247.2 271.8,248.2 273.9,248.9 276.0,249.5 277.6,250.4 280.2,251.4 281.8,251.6 283.9,251.9 285.7,251.8 287.7,252.3 289.5,252.1 291.9,251.6 293.4,251.9 295.6,251.6 297.0,252.0 299.6,252.5 301.9,252.9 303.1,253.9 305.5,254.8 306.8,255.0 309.5,255.5 310.1,256.0 312.4,256.3 315.9,256.4 316.6,257.0 319.9,256.8 319.5,258.0 322.5,257.8 324.4,258.0 327.7,257.8 327.7,259.2 330.0,260.2 331.9,260.7 334.1,261.4 335.6,262.1 337.5,262.4 341.2,262.7 343.7,263.5 343.5,264.3 346.6,264.9 347.8,265.7 350.3,266.5 353.4,267.2 354.1,268.1 356.3,269.0" fill="none" stroke="#1a7fcc" stroke-width="1.2" stroke-linejoin="round" stroke-opacity="0.8"/>
<polyline points="238.8,239.5 240.7,239.8 242.6,239.8 244.6,239.4 246.5,239.3 248.3,239.9 250.3,240.5 252.4,240.6 254.1,241.6 256.1,241.8 257.6,242.6 260.0,242.8 262.1,243.3 263.5,243.7 265.5,244.8 267.6,246.2 269.7,246.7 271.4,247.5 272.9,248.4 275.0,249.1 277.5,249.9 279.2,250.5 280.3,251.1 282.8,251.6 284.8,252.2 286.5,252.4 288.4,252.0 290.5,251.9 292.4,252.7 295.1,252.8 296.9,253.0 299.2,252.9 300.3,253.3 303.2,254.4 303.8,255.2 305.7,255.7 307.7,256.2 309.7,256.4 311.5,256.5 314.2,256.6 314.2,257.5 318.1,257.6 318.7,257.8 321.1,257.5 323.1,258.0 326.2,258.2 327.9,259.3 330.5,260.1 331.6,261.0 332.2,261.2 336.1,261.3 337.5,262.0 337.9,262.9 339.2,263.7 343.0,264.2 344.7,264.7 345.9,265.6 348.7,266.4 349.5,267.3 352.0,268.2 353.7,269.0" fill="none" stroke="#1a7fcc" stroke-width="1.2" stroke-linejoin="round" stroke-opacity="0.8"/>
<polyline points="238.8,239.1 240.7,239.5 242.6,239.8 244.5,240.0 246.4,240.4 248.4,240.2 250.4,240.3 252.3,240.9 254.1,241.2 255.9,241.6 258.0,242.2 259.5,242.5 261.6,243.3 263.3,244.0 265.6,244.8 267.7,245.8 268.9,246.8 271.5,247.7 273.3,248.6 275.1,249.4 277.6,249.7 279.0,250.4 280.9,250.8 282.7,251.2 284.3,251.5 286.3,252.2 288.1,252.3 290.2,252.6 292.5,252.8 294.0,253.1 296.2,253.2 297.8,253.3 300.5,253.2 301.3,254.6 303.0,255.0 305.4,255.1 307.5,256.1 309.1,256.4 312.1,256.7 312.7,256.9 315.9,257.1 316.9,257.0 319.5,257.0 320.8,257.3 322.3,257.2 324.2,257.9 327.3,258.5 327.9,259.9 330.8,260.4 331.6,261.4 334.5,261.8 335.7,262.7 337.0,263.2 339.9,263.9 341.3,264.5 344.9,265.0 347.2,265.8 348.9,266.5 348.7,267.4 350.4,268.2 352.2,269.1" fill="none" stroke="#1a7fcc" stroke-width="1.2" stroke-linejoin="round" stroke-opacity="0.8"/>
<polyline points="238.8,239.8 240.7,240.2 242.7,240.5 244.4,240.9 246.4,240.5 248.2,240.5 250.0,240.1 251.9,240.3 254.0,240.8 255.8,241.3 257.6,242.0 259.7,242.6 261.2,243.2 263.4,243.6 265.4,245.1 266.8,246.0 269.0,246.9 270.8,247.9 272.7,248.6 274.6,249.4 275.5,250.2 278.6,250.8 280.2,251.2 281.9,251.7 284.0,252.1 285.7,252.2 286.9,253.0 290.6,252.7 292.2,253.0 293.1,253.2 295.1,253.2 296.4,253.7 299.0,253.7 299.9,254.4 303.5,255.0 305.9,255.5 306.8,256.1 308.7,256.3 310.2,256.8 312.1,256.9 313.9,257.4 314.8,257.2 317.7,256.9 320.7,257.2 321.0,257.7 322.6,258.2 326.4,259.2 326.9,260.2 329.1,261.1 330.9,261.5 332.4,261.9 333.6,262.7 337.0,263.0 339.1,263.7 340.6,264.4 343.1,264.9 345.2,265.7 347.0,266.6 348.3,267.4 348.9,268.3 351.9,269.0" fill="none" stroke="#1a7fcc" stroke-width="1.2" stroke-linejoin="round" stroke-opacity="0.8"/>
<polyline points="238.8,239.9 240.7,239.5 242.5,239.8 244.4,239.6 246.2,240.0 248.0,239.8 250.0,240.0 251.7,240.3 253.6,241.1 255.5,241.8 257.3,242.1 259.2,242.8 260.9,243.4 262.9,244.1 264.5,245.0 266.6,245.9 268.2,247.1 270.5,248.2 271.8,249.0 274.0,249.5 276.3,250.0 277.7,250.2 280.5,251.1 281.5,251.5 283.3,251.4 284.6,251.6 286.6,251.8 289.3,251.8 291.0,252.7 293.2,252.8 293.7,253.3 296.4,253.4 298.5,253.6 299.9,254.1 302.7,254.7 303.4,255.1 305.3,255.8 307.4,256.5 310.7,256.5 310.5,257.5 313.6,257.3 316.1,257.5 316.0,258.1 319.2,257.7 320.7,258.5 322.4,258.9 323.3,259.3 326.3,260.5 326.6,260.9 329.8,261.0 332.7,261.3 335.4,262.0 335.1,262.8 337.9,263.4 338.2,264.6 339.8,265.2 342.4,266.0 344.8,266.8 344.7,267.5 346.7,268.3 350.9,268.9" fill="none" stroke="#1a7fcc" stroke-width="1.2" stroke-linejoin="round" stroke-opacity="0.8"/>
<polyline points="238.8,240.1 240.6,240.1 242.5,240.4 244.2,240.3 246.2,240.5 247.9,240.6 249.9,240.3 251.6,241.1 253.4,241.5 255.4,242.0 257.1,242.1 259.1,242.1 260.4,242.7 262.5,244.2 264.5,245.1 265.6,246.3 268.6,247.0 270.0,248.0 271.5,248.8 274.0,250.0 274.7,250.9 277.4,250.9 279.0,251.6 281.1,251.6 282.0,251.6 284.6,251.7 286.8,252.1 288.3,252.3 288.7,252.9 292.4,252.7 294.5,252.9 295.8,253.1 297.4,253.7 299.0,254.7 301.2,255.6 302.7,256.1 304.3,256.6 305.6,257.1 308.5,257.0 309.7,257.8 312.5,257.6 314.3,257.7 316.9,258.2 317.9,258.3 319.0,258.1 321.7,258.4 323.0,259.5 325.1,260.2 326.4,260.4 329.3,261.3 331.0,261.9 332.9,262.9 334.1,263.2 333.8,263.9 336.2,264.5 341.5,265.1 341.9,266.0 342.1,266.8 346.0,267.5 346.9,268.3 348.4,269.0" fill="none" stroke="#1a7fcc" stroke-width="1.2" stroke-linejoin="round" stroke-opacity="0.8"/>
<polyline points="238.8,239.9 240.6,240.2 242.4,240.5 244.4,240.4 246.0,241.1 247.9,241.1 249.9,240.8 251.6,240.9 253.5,241.4 255.1,242.1 256.9,242.6 258.9,243.5 260.5,243.6 262.1,244.3 264.2,245.0 266.4,246.4 267.8,247.7 269.3,248.6 271.3,249.0 272.9,249.6 275.2,249.9 277.3,250.4 278.9,251.3 281.4,251.8 282.8,251.7 284.9,252.1 285.7,252.4 287.8,252.6 290.1,252.8 291.4,253.1 293.2,253.8 294.7,253.8 298.0,253.6 299.1,254.4 300.6,255.4 302.8,255.7 303.1,256.5 306.7,256.3 307.0,257.3 308.8,257.4 312.1,257.5 312.7,257.8 315.3,258.3 316.8,258.1 319.2,258.2 320.4,258.9 322.9,259.4 324.4,260.7 327.9,261.5 327.9,261.7 329.5,262.0 332.6,262.6 331.9,263.8 335.4,263.9 337.3,264.4 339.0,265.1 339.5,266.1 342.0,266.8 345.7,267.5 347.0,268.3 346.7,269.1" fill="none" stroke="#1a7fcc" stroke-width="1.2" stroke-linejoin="round" stroke-opacity="0.8"/>
<polyline points="238.8,240.0 240.6,240.3 242.4,239.9 244.3,239.5 245.9,240.3 247.7,240.1 249.5,240.4 251.4,240.5 253.3,241.5 255.0,241.7 256.9,242.1 258.3,242.7 260.3,243.2 262.0,244.2 264.2,245.0 265.7,245.7 267.3,246.9 269.7,247.9 270.8,248.3 272.9,249.6 275.2,250.5 275.9,251.0 278.5,250.8 279.6,251.2 282.8,251.1 283.4,251.5 285.0,252.3 286.9,253.0 288.8,253.3 291.0,253.7 293.1,253.7 294.0,254.1 296.3,254.4 298.7,255.3 300.2,255.7 302.9,256.0 303.7,256.6 306.2,256.3 307.2,256.8 308.0,257.5 310.6,257.7 312.1,257.8 314.2,257.9 316.4,257.8 317.0,258.3 319.8,258.3 321.9,259.1 323.7,259.7 324.8,260.8 327.9,261.7 328.5,262.7 331.4,262.8 332.9,263.4 333.0,264.4 336.7,264.7 336.7,265.5 339.7,266.2 338.5,267.0 343.0,267.7 343.3,268.4 345.8,269.0" fill="none" stroke="#1a7fcc" stroke-width="1.2" stroke-linejoin="round" stroke-opacity="0.8"/>
<polyline points="238.8,240.5 240.6,240.6 242.3,240.3 244.1,240.6 245.9,240.9 247.6,240.9 249.1,240.9 251.0,240.9 252.9,241.8 254.5,242.5 256.3,242.9 258.1,243.1 260.2,243.3 261.6,244.2 263.4,245.4 265.2,246.3 267.1,247.2 269.0,248.1 271.1,249.2 272.4,250.0 274.3,250.7 276.1,251.1 277.7,251.3 279.7,251.7 281.6,252.2 282.9,252.3 284.3,252.5 286.0,252.5 288.2,253.2 290.7,253.8 292.4,253.7 294.7,253.1 295.8,253.9 297.0,254.2 299.0,254.8 299.8,255.8 302.2,255.9 304.1,257.4 305.9,257.6 307.4,258.0 310.1,258.2 310.9,258.4 312.6,258.5 313.8,259.0 316.1,259.1 318.5,259.3 320.9,260.2 322.6,261.2 324.1,261.6 324.9,261.9 325.9,262.2 328.2,262.5 330.8,263.3 331.2,264.2 334.7,264.8 335.0,265.5 337.4,266.1 340.0,266.9 340.3,267.6 343.0,268.3 344.5,269.0" fill="none" stroke="#1a7fcc" stroke-width="1.2" stroke-linejoin="round" stroke-opacity="0.8"/>
<polyline points="238.8,240.8 240.6,240.6 242.3,240.4 244.0,240.8 245.8,240.7 247.5,240.4 249.3,240.5 250.8,241.2 252.8,241.5 254.5,241.9 256.5,242.1 257.8,242.6 259.8,242.8 261.3,244.0 263.3,245.3 265.1,246.3 266.7,247.1 268.3,248.2 270.2,249.0 271.5,249.9 273.5,250.2 276.3,250.8 276.6,251.3 278.1,251.0 281.1,251.1 282.6,251.6 283.9,251.7 285.7,252.4 287.7,253.4 289.5,253.6 292.5,253.4 293.6,254.0 294.3,254.2 296.6,255.1 297.9,255.9 300.1,256.8 301.7,257.4 302.7,257.9 304.7,257.6 305.7,258.0 309.5,258.0 309.9,258.1 311.5,258.2 313.1,258.5 315.8,259.1 316.4,259.9 319.6,260.4 321.9,261.5 322.0,262.3 323.6,262.3 326.4,262.2 329.0,262.6 327.9,263.7 330.8,264.2 334.0,264.8 332.8,265.7 336.3,266.1 338.2,266.9 340.2,267.5 340.5,268.3 343.7,269.1" fill="none" stroke="#1a7fcc" stroke-width="1.2" stroke-linejoin="round" stroke-opacity="0.8"/>
<polyline points="238.8,240.4 240.5,240.4 242.2,240.4 243.9,240.3 245.7,240.5 247.4,240.7 249.4,241.3 250.9,241.5 252.8,242.2 254.2,242.7 256.1,242.8 257.6,243.3 259.5,243.8 261.4,244.3 263.3,245.9 264.9,246.7 266.7,247.6 268.4,248.6 270.3,249.0 272.1,249.6 273.2,250.1 274.5,250.1 276.7,251.0 278.2,251.4 280.4,251.9 281.9,252.2 283.1,252.3 285.3,252.3 287.2,252.6 288.8,253.1 290.9,254.0 292.2,254.5 294.7,254.7 296.7,255.2 296.7,256.3 299.0,256.7 302.1,257.1 302.2,257.4 305.0,257.5 305.5,257.2 306.8,258.2 311.1,258.7 310.9,259.0 312.9,258.9 315.2,259.3 317.2,259.8 318.3,259.9 319.6,261.0 322.5,261.6 326.0,262.1 326.3,262.7 327.9,263.2 327.9,264.0 330.8,264.6 331.8,265.4 333.9,266.0 335.5,266.4 338.2,267.0 338.9,267.5 341.8,268.3 344.0,269.0" fill="none" stroke="#1a7fcc" stroke-width="1.2" stroke-linejoin="round" stroke-opacity="0.8"/>
<polyline points="238.8,240.5 240.5,241.0 242.2,241.1 244.0,241.1 245.6,241.3 247.4,240.9 248.9,241.0 250.6,241.6 252.7,242.0 254.2,242.2 255.9,242.9 257.5,243.2 259.1,244.3 261.2,244.6 263.1,245.4 264.6,246.3 265.7,247.1 267.9,248.2 269.9,249.1 270.8,249.5 272.4,250.0 274.8,250.2 276.1,251.3 278.2,252.1 279.2,252.1 281.1,252.6 282.8,252.6 284.7,252.8 286.4,253.0 287.9,253.6 289.9,254.0 291.7,254.4 293.7,254.9 294.7,255.8 296.8,256.1 298.5,256.6 299.4,257.2 302.2,257.4 302.8,257.3 305.1,257.7 305.8,258.2 308.0,258.2 310.8,258.8 311.4,259.2 313.2,259.3 316.9,258.9 318.1,259.9 319.8,260.9 319.6,261.9 321.9,262.3 323.5,262.6 325.7,263.4 327.8,264.1 328.5,264.6 331.9,265.0 332.0,265.6 333.0,266.4 335.4,266.9 336.7,267.6 338.4,268.3 341.2,269.0" fill="none" stroke="#1a7fcc" stroke-width="1.2" stroke-linejoin="round" stroke-opacity="0.8"/>
<polyline points="238.8,240.4 240.5,240.7 242.2,241.0 243.8,241.3 245.5,241.6 247.2,241.6 248.8,242.0 250.5,242.0 252.4,241.9 253.9,242.8 255.7,242.8 257.4,242.7 259.4,243.6 260.7,244.5 262.4,245.5 264.3,246.3 266.3,247.4 267.9,248.3 268.7,248.9 271.0,249.5 272.8,250.2 274.2,250.5 276.2,251.1 278.3,251.6 279.3,251.5 280.9,251.8 283.5,252.4 284.3,252.9 286.0,253.2 287.5,253.4 288.5,254.1 291.6,253.8 292.3,254.7 295.0,254.9 295.9,255.6 297.3,256.2 299.6,257.3 302.1,257.7 302.5,257.7 305.4,258.1 306.0,258.3 308.4,258.4 309.1,258.8 312.2,258.8 313.3,259.5 314.5,259.5 315.6,260.6 318.1,261.5 319.4,262.1 321.2,262.8 322.3,262.9 324.9,263.4 325.8,264.1 327.9,264.6 329.0,265.3 331.2,265.7 333.2,266.4 333.4,267.2 335.4,267.8 336.3,268.4 340.4,269.1" fill="none" stroke="#1a7fcc" stroke-width="1.2" stroke-linejoin="round" stroke-opacity="0.8"/>
<polyline points="238.8,240.7 240.5,240.6 242.1,240.8 243.7,240.7 245.4,240.8 247.0,241.3 248.7,241.2 250.5,241.5 252.0,242.4 253.8,242.7 255.2,242.9 257.1,243.0 258.6,243.8 260.7,244.1 262.6,244.9 263.7,246.3 265.2,247.4 267.0,248.5 269.1,249.5 270.3,250.1 272.1,250.5 273.5,250.7 275.3,251.2 276.9,251.2 278.5,251.9 279.9,252.6 282.5,253.1 283.8,253.1 285.5,253.4 287.4,253.8 289.0,254.3 291.0,254.6 291.4,255.2 293.6,255.5 295.6,255.8 297.5,256.4 298.9,257.0 300.4,257.2 302.4,257.7 303.4,258.1 304.6,258.4 306.7,258.7 309.0,259.0 309.7,259.5 313.0,259.6 314.2,260.3 314.6,260.9 316.6,261.9 320.1,262.3 321.3,262.8 322.6,263.3 323.8,263.6 325.7,264.4 324.8,265.3 329.0,265.4 331.3,266.0 333.2,266.4 332.9,267.1 335.6,267.7 338.0,268.3 338.1,269.0" fill="none" stroke="#1a7fcc" stroke-width="1.2" stroke-linejoin="round" stroke-opacity="0.8"/>
<polyline points="238.8,240.5 240.5,240.8 242.1,240.6 243.7,240.9 245.4,241.2 247.1,241.1 248.6,241.7 250.5,241.9 251.8,242.0 253.5,243.1 255.5,243.0 256.8,243.1 258.6,243.8 259.8,245.0 261.9,246.0 263.5,246.6 264.6,247.7 266.2,248.5 268.2,249.0 270.0,249.8 271.6,250.3 273.2,250.6 274.2,251.3 275.9,251.7 278.1,252.0 279.8,252.4 281.6,253.0 282.9,253.2 285.0,253.4 285.9,254.0 288.4,254.2 289.8,254.6 291.3,255.0 293.5,256.0 294.8,256.3 295.6,256.6 298.3,256.8 299.3,257.2 301.5,257.6 302.4,258.0 303.2,258.7 305.0,258.8 307.2,259.6 309.1,259.3 310.4,259.9 313.2,260.2 313.8,261.2 317.2,261.6 317.3,262.4 319.5,262.9 320.0,263.8 323.2,264.0 325.4,264.3 326.2,265.0 329.3,265.3 330.0,266.0 329.1,266.5 332.3,267.2 334.0,267.7 336.4,268.4 336.2,269.0" fill="none" stroke="#1a7fcc" stroke-width="1.2" stroke-linejoin="round" stroke-opacity="0.8"/>
<polyline points="238.8,241.1 240.4,240.8 242.1,241.1 243.5,241.3 245.2,241.3 247.1,241.2 248.5,241.1 250.2,241.6 251.9,241.7 253.4,242.6 255.1,243.2 256.4,243.2 258.2,243.7 259.5,244.5 261.7,245.4 263.0,247.5 264.6,248.5 266.9,249.1 268.2,249.4 270.0,249.9 271.4,249.9 272.9,250.1 273.8,250.7 275.9,251.4 277.7,251.8 279.4,252.3 280.8,252.5 282.4,252.6 283.6,253.4 285.8,254.0 287.0,254.5 288.9,254.9 290.9,255.9 292.0,256.8 294.0,256.8 295.6,257.3 297.7,257.4 299.1,257.7 299.6,258.4 301.1,258.5 303.7,258.7 307.0,258.6 306.3,259.0 307.1,259.3 309.7,259.6 311.6,259.9 313.4,260.5 315.3,261.7 315.6,262.0 317.7,263.1 320.2,263.4 321.3,263.9 325.1,264.3 325.9,264.6 325.9,265.2 329.5,265.8 329.1,266.5 330.5,267.3 332.0,267.9 334.6,268.4 335.2,269.0" fill="none" stroke="#1a7fcc" stroke-width="1.2" stroke-linejoin="round" stroke-opacity="0.8"/>
<polyline points="238.8,241.1 240.4,241.0 242.0,241.7 243.5,241.8 245.3,241.4 246.7,241.8 248.4,241.6 250.0,242.1 251.6,242.5 253.4,243.4 254.8,243.8 256.8,244.1 257.9,244.5 260.1,244.7 261.1,246.4 263.0,247.0 264.1,248.3 266.0,248.8 267.8,249.6 268.8,250.2 271.2,250.0 272.4,250.9 273.8,251.5 275.0,252.0 276.8,252.6 279.1,252.4 280.6,253.2 282.6,253.3 283.7,253.4 285.1,254.1 287.2,254.4 288.0,254.5 289.4,254.9 292.5,255.6 292.4,256.6 294.6,256.7 296.1,257.6 296.9,258.0 300.1,258.2 301.5,258.3 302.8,258.5 302.9,258.7 306.1,259.1 306.6,260.0 308.8,259.8 311.3,260.0 312.5,261.0 314.4,261.8 315.2,262.5 317.2,262.5 319.7,262.6 319.6,263.6 322.4,264.0 324.5,264.7 324.2,265.7 327.0,266.1 328.4,266.7 331.1,267.2 331.1,267.8 331.8,268.4 335.1,268.9" fill="none" stroke="#1a7fcc" stroke-width="1.2" stroke-linejoin="round" stroke-opacity="0.8"/>
<polyline points="238.8,241.1 240.4,241.5 241.9,241.7 243.5,242.4 245.0,242.0 246.6,241.7 248.0,242.0 249.5,242.4 251.6,242.6 252.7,243.7 254.7,243.5 256.2,243.5 257.8,244.7 259.3,245.5 260.9,245.9 261.9,247.3 264.1,248.2 265.1,248.9 267.8,249.9 268.1,250.2 270.4,250.2 271.7,250.5 273.3,251.2 274.8,251.8 276.4,252.0 277.8,252.4 279.8,253.0 281.6,253.1 283.0,254.0 284.8,254.8 287.0,254.9 287.0,255.3 288.1,255.6 288.6,256.3 291.8,256.6 294.6,257.0 295.1,257.7 297.3,258.1 298.6,257.9 300.1,258.1 300.4,259.1 303.9,258.8 304.2,259.1 306.1,259.5 307.1,259.8 310.2,260.4 312.6,260.7 314.4,261.1 312.7,262.2 316.9,262.6 317.7,263.2 319.0,263.9 321.1,264.6 322.7,265.0 324.7,265.7 324.4,266.2 324.8,266.9 326.7,267.5 330.1,267.9 331.7,268.5 333.8,269.0" fill="none" stroke="#1a7fcc" stroke-width="1.2" stroke-linejoin="round" stroke-opacity="0.8"/>
<polyline points="238.8,241.4 240.4,241.8 241.9,241.7 243.5,242.0 245.0,241.9 246.5,242.0 248.1,241.7 249.6,242.0 251.3,242.3 252.7,243.1 254.5,243.1 255.8,243.5 257.6,243.8 258.9,244.2 260.3,245.4 262.0,246.8 263.5,248.1 265.1,249.0 266.9,249.7 268.2,249.7 269.2,250.0 271.7,250.4 272.9,250.9 274.3,251.8 275.9,252.4 277.6,252.4 278.2,252.6 280.9,253.5 282.5,253.3 284.1,253.9 285.1,254.7 286.6,255.5 288.7,255.6 289.7,256.5 291.2,256.4 293.7,257.3 293.6,258.0 295.4,258.2 297.8,258.2 299.4,258.4 301.3,258.9 302.8,259.2 303.9,259.9 306.2,260.3 306.2,260.7 307.7,260.9 309.7,261.4 311.7,262.1 312.7,262.8 313.9,263.1 316.3,263.4 319.0,264.1 319.0,264.8 320.3,265.5 323.6,265.7 322.3,266.4 326.3,266.9 326.8,267.5 329.1,268.0 331.4,268.4 331.8,269.0" fill="none" stroke="#1a7fcc" stroke-width="1.2" stroke-linejoin="round" stroke-opacity="0.8"/>
<polyline points="238.8,241.2 240.3,241.4 241.9,241.9 243.3,242.1 244.9,242.2 246.4,242.0 248.0,242.1 249.6,242.0 251.0,242.7 252.4,243.0 254.5,243.0 255.8,243.4 257.1,244.6 258.6,245.2 260.2,246.1 262.0,246.8 263.2,247.7 265.0,249.0 266.8,249.2 268.1,249.7 269.5,250.7 270.1,251.8 271.8,251.9 274.4,251.8 275.2,252.0 276.8,252.5 278.3,253.0 280.5,253.4 282.6,254.3 283.0,254.6 284.7,255.1 286.2,255.0 287.4,255.9 289.4,256.3 291.4,257.0 292.6,257.1 292.9,258.2 295.4,258.1 297.4,258.5 298.1,259.3 299.7,259.8 300.7,260.0 302.4,259.8 304.9,259.8 304.8,260.6 307.1,261.2 310.1,261.5 310.5,262.3 313.1,262.4 315.3,262.4 315.9,263.2 316.8,264.1 317.7,264.9 319.5,265.6 321.4,266.0 323.4,266.3 325.8,266.8 327.2,267.4 326.6,268.0 329.4,268.5 329.6,269.0" fill="none" stroke="#1a7fcc" stroke-width="1.2" stroke-linejoin="round" stroke-opacity="0.8"/>
<polyline points="238.8,241.9 240.3,241.6 241.8,242.2 243.4,242.6 244.8,242.1 246.3,242.6 247.9,242.6 249.4,242.6 250.9,243.1 252.3,243.2 254.1,243.9 255.2,243.9 256.6,244.3 258.6,244.8 259.8,246.3 261.4,247.4 263.0,248.2 264.2,249.2 265.9,249.7 267.3,249.6 268.8,250.1 270.7,250.1 271.7,251.1 273.9,251.6 274.0,252.0 274.9,252.7 278.2,252.4 279.6,252.7 281.1,253.8 281.3,254.3 283.9,254.9 286.1,255.6 286.6,256.3 288.1,257.2 289.4,257.9 293.0,258.0 292.3,258.9 294.3,258.9 296.2,259.1 299.3,259.0 298.9,259.2 301.0,259.7 302.1,260.4 303.4,260.5 305.7,261.0 305.6,261.7 307.2,262.1 309.2,262.6 310.7,262.6 314.0,262.9 314.7,263.9 314.1,264.6 317.4,264.9 318.3,265.8 318.5,266.5 321.8,266.8 323.1,267.1 323.7,267.7 326.5,268.1 327.2,268.6 329.8,269.0" fill="none" stroke="#1a7fcc" stroke-width="1.2" stroke-linejoin="round" stroke-opacity="0.8"/>
<polyline points="238.8,241.8 240.3,242.2 241.7,241.9 243.2,241.7 244.7,242.0 246.2,242.2 247.7,242.1 249.2,242.2 250.9,242.2 252.0,243.1 253.7,243.5 255.3,243.7 256.6,243.9 258.0,245.0 260.1,245.6 260.9,246.5 262.6,247.4 264.4,248.3 265.9,248.8 267.2,249.5 268.8,250.2 270.0,250.1 271.3,250.6 273.1,251.4 274.0,251.7 275.9,252.1 276.7,252.7 278.5,253.4 280.3,254.0 281.9,254.8 283.3,255.2 284.3,256.0 286.8,256.7 287.4,256.9 288.3,257.5 290.4,257.9 291.4,258.5 294.2,258.8 294.1,258.9 296.1,259.5 296.9,259.6 298.4,259.9 301.7,260.1 301.7,260.7 303.7,261.2 304.6,261.5 306.4,262.3 307.6,262.7 310.6,262.9 310.5,263.4 314.6,263.5 314.4,264.5 314.6,265.0 317.5,265.3 318.2,266.1 320.3,266.5 323.4,266.8 322.9,267.4 326.6,268.0 326.8,268.6 327.1,269.1" fill="none" stroke="#1a7fcc" stroke-width="1.2" stroke-linejoin="round" stroke-opacity="0.8"/>
<polyline points="238.8,241.9 240.3,242.1 241.6,242.5 243.1,242.2 244.6,241.9 246.1,242.6 247.6,242.9 248.9,242.8 250.2,243.3 252.1,243.5 253.6,243.7 255.2,244.0 256.7,244.5 257.8,245.4 258.7,246.8 260.4,248.1 262.3,248.8 263.9,249.7 264.8,250.0 266.9,250.0 268.3,249.9 268.8,250.0 271.0,251.1 272.2,251.4 273.8,251.6 275.4,252.2 276.5,252.7 277.9,253.5 279.8,253.6 280.4,254.1 282.5,254.2 283.6,255.2 284.7,256.3 287.6,256.1 288.3,256.5 288.7,257.8 291.1,258.3 292.8,258.7 294.7,259.7 295.4,260.0 298.8,260.0 298.9,259.7 299.5,259.8 301.1,260.7 301.8,261.3 304.2,261.5 305.7,261.9 307.3,262.5 308.6,262.8 309.4,263.3 312.6,263.7 312.9,264.3 315.5,264.7 315.6,265.5 318.2,266.0 320.1,266.5 320.0,267.1 322.6,267.7 325.9,267.9 324.9,268.6 327.1,269.1" fill="none" stroke="#1a7fcc" stroke-width="1.2" stroke-linejoin="round" stroke-opacity="0.8"/>
<polyline points="238.8,242.1 240.2,242.5 241.7,242.8 243.1,242.6 244.5,242.6 246.0,242.9 247.5,243.1 248.6,243.2 250.2,242.8 251.7,243.0 253.3,243.4 254.6,243.7 256.1,244.1 257.2,245.5 258.5,246.8 259.9,248.1 261.7,248.7 263.5,249.2 264.4,250.1 265.8,249.7 267.5,250.4 268.9,250.6 270.7,250.9 272.0,251.4 272.6,252.0 273.9,252.7 276.4,252.9 277.6,253.5 279.2,253.7 280.4,254.4 281.2,255.2 282.3,255.9 284.2,256.3 286.1,257.1 287.6,257.7 288.6,258.2 290.2,258.6 291.2,259.2 292.9,259.3 293.7,259.5 295.3,259.9 296.5,260.3 299.3,260.6 301.4,260.8 301.5,261.4 303.7,261.8 303.6,262.0 304.9,262.7 308.4,263.1 308.4,263.9 310.9,264.4 310.4,264.7 313.2,264.8 313.2,265.6 315.7,266.2 318.1,266.5 317.9,267.1 319.4,267.5 321.8,268.1 323.2,268.6 324.2,269.1" fill="none" stroke="#1a7fcc" stroke-width="1.2" stroke-linejoin="round" stroke-opacity="0.8"/>
<polyline points="238.8,242.6 240.2,242.9 241.6,242.6 243.0,242.6 244.4,243.0 245.9,243.5 247.2,243.3 248.6,243.0 250.1,243.1 251.3,243.2 253.0,243.6 254.3,243.9 255.7,244.5 257.2,245.3 258.6,246.7 259.5,248.0 261.1,248.7 262.9,249.3 264.1,249.6 265.4,249.9 266.9,249.9 268.0,250.3 269.6,251.3 271.3,251.9 272.5,252.6 273.9,252.6 276.1,252.9 277.2,253.6 278.3,254.3 280.8,254.9 280.9,255.8 283.0,256.0 283.7,256.8 285.8,257.7 286.6,258.1 288.6,258.3 289.0,258.6 291.3,258.7 292.0,259.2 293.4,259.8 295.8,259.9 296.7,260.7 298.3,261.1 299.3,260.9 300.9,261.1 302.2,261.4 303.4,261.8 304.9,262.2 305.8,262.9 307.6,264.0 307.5,264.5 311.1,264.8 311.3,265.4 313.2,266.0 315.9,266.7 317.8,266.7 317.1,267.4 319.0,267.8 319.9,268.4 323.1,268.6 322.1,269.1" fill="none" stroke="#1a7fcc" stroke-width="1.2" stroke-linejoin="round" stroke-opacity="0.8"/>
<polyline points="238.8,242.3 240.2,242.8 241.6,242.6 242.9,242.7 244.4,242.3 245.7,242.7 247.2,242.9 248.5,242.9 250.0,243.3 251.2,243.9 252.8,243.9 253.9,244.4 255.4,244.9 256.7,246.0 258.6,247.0 259.4,247.7 261.6,248.9 262.0,249.8 264.0,250.2 265.0,250.8 267.0,250.7 267.9,250.9 269.3,251.4 270.8,251.6 272.4,252.2 273.1,252.9 274.6,253.2 275.5,253.9 277.4,254.6 278.5,255.4 280.9,255.6 281.7,256.4 283.5,257.1 284.3,257.9 286.3,258.1 287.4,258.5 288.5,258.6 290.3,259.2 292.5,259.3 292.2,259.7 294.1,259.8 295.3,260.3 297.1,261.2 296.6,262.1 298.8,261.8 301.0,261.8 302.5,262.3 304.0,262.7 305.9,263.5 305.3,264.1 308.7,264.1 310.8,264.6 309.2,265.6 313.7,265.8 314.3,266.4 315.2,267.0 316.8,267.5 316.1,267.9 319.2,268.3 320.0,268.7 322.0,269.1" fill="none" stroke="#1a7fcc" stroke-width="1.2" stroke-linejoin="round" stroke-opacity="0.8"/>
<polyline points="238.8,241.7 240.2,241.8 241.5,242.5 242.9,242.6 244.3,242.5 245.6,243.1 247.0,243.5 248.3,243.7 249.8,243.9 250.8,244.3 252.6,244.5 254.0,244.5 255.2,245.1 256.8,245.5 257.9,246.8 259.1,247.8 260.4,248.6 261.7,249.2 264.0,249.1 265.2,249.1 265.9,249.5 267.3,250.0 268.3,250.2 270.5,251.3 271.4,251.7 273.2,252.1 274.4,253.2 275.3,253.6 276.9,253.7 277.7,254.9 279.4,255.6 281.1,256.4 282.2,257.0 284.2,257.2 284.7,257.7 286.9,257.8 287.7,258.5 291.2,258.8 290.6,259.4 293.7,260.2 292.6,260.1 295.7,259.8 296.2,260.5 298.3,261.1 298.3,262.0 300.4,262.4 303.0,262.6 303.2,262.8 304.8,263.2 305.0,263.8 305.8,264.5 309.2,265.1 309.4,265.8 311.8,266.0 312.6,266.5 313.5,266.9 313.7,267.6 319.2,267.8 316.8,268.3 320.2,268.6 321.8,268.9" fill="none" stroke="#1a7fcc" stroke-width="1.2" stroke-linejoin="round" stroke-opacity="0.8"/>
<polyline points="238.8,242.2 240.1,242.5 241.5,242.3 242.8,242.6 244.2,243.0 245.6,243.3 246.8,243.5 248.2,243.5 249.4,243.8 251.0,243.8 252.3,243.7 253.8,244.0 255.0,244.7 256.0,246.1 257.5,246.6 259.3,247.6 260.5,248.7 261.8,249.8 262.9,249.5 264.1,249.7 266.1,249.5 266.7,250.0 268.0,250.8 269.6,251.1 270.7,251.6 272.5,252.2 273.7,252.8 275.1,253.2 276.2,253.9 278.0,254.8 279.3,255.0 280.0,255.9 282.3,256.5 284.2,257.1 283.8,258.0 285.7,258.0 287.4,258.4 288.0,259.0 289.6,259.2 289.7,259.7 292.8,259.8 293.3,260.7 295.7,260.6 296.2,261.6 298.7,261.8 299.8,262.1 300.1,262.6 303.1,263.0 303.4,263.3 302.5,264.0 305.6,264.7 305.8,265.2 308.8,265.8 310.5,266.2 311.3,266.9 312.7,267.2 312.7,267.5 315.2,267.9 315.3,268.2 318.4,268.6 320.4,268.9" fill="none" stroke="#1a7fcc" stroke-width="1.2" stroke-linejoin="round" stroke-opacity="0.8"/>
<polyline points="238.8,242.3 240.1,242.6 241.4,242.5 242.8,242.6 244.1,242.7 245.5,242.6 246.8,243.1 248.0,243.5 249.3,243.6 250.6,243.8 251.8,243.9 253.5,244.2 254.7,245.1 256.3,245.9 256.9,246.8 258.5,247.7 260.2,248.5 261.0,249.9 262.5,250.0 263.9,250.4 265.3,250.7 266.3,250.3 267.5,250.6 269.4,251.2 270.3,252.0 272.1,252.9 272.6,253.6 274.5,253.9 276.8,254.7 277.7,255.1 278.1,255.8 280.5,256.2 281.2,257.0 282.3,258.1 283.9,258.2 284.6,258.7 286.9,259.0 287.5,259.5 288.4,259.7 291.0,260.1 292.2,260.4 292.1,260.9 293.4,261.5 295.9,261.4 297.0,262.0 298.3,262.3 298.3,263.0 300.8,262.8 301.3,263.6 302.8,264.0 305.3,264.5 305.1,265.0 306.7,265.8 308.5,266.1 309.7,266.6 310.2,267.2 311.9,267.5 312.6,268.0 316.4,268.2 316.3,268.7 317.5,269.0" fill="none" stroke="#1a7fcc" stroke-width="1.2" stroke-linejoin="round" stroke-opacity="0.8"/>
<polyline points="238.8,242.4 240.1,242.3 241.4,242.7 242.6,242.8 243.9,243.3 245.1,243.2 246.6,243.3 247.7,243.7 249.2,243.7 250.2,243.7 251.8,244.2 253.5,244.1 254.5,244.7 255.7,246.1 257.4,246.8 258.2,248.1 259.4,249.3 260.9,250.3 261.8,250.1 263.3,249.9 264.1,249.8 266.1,250.2 267.8,250.1 268.4,250.9 269.7,252.0 270.8,252.4 272.9,252.9 274.1,253.4 275.3,254.0 276.0,255.1 278.6,255.4 278.8,256.6 279.8,256.8 281.8,257.5 282.9,257.9 284.3,258.5 285.6,259.1 286.2,259.4 287.6,260.0 289.1,260.2 290.3,260.1 292.7,260.5 292.6,261.4 293.7,261.8 296.1,262.2 297.2,262.3 298.2,262.8 300.4,263.7 299.5,264.4 301.8,264.2 303.3,264.8 304.9,265.5 305.9,266.1 306.0,266.5 308.8,267.0 309.7,267.4 311.4,267.7 312.0,268.1 314.0,268.3 315.5,268.5 315.8,268.8" fill="none" stroke="#1a7fcc" stroke-width="1.2" stroke-linejoin="round" stroke-opacity="0.8"/>
<polyline points="238.8,242.7 240.1,242.8 241.4,243.1 242.7,243.0 243.9,243.3 245.1,243.6 246.4,243.4 247.7,243.9 248.9,243.9 250.5,244.2 251.5,244.2 252.7,244.7 254.5,245.1 255.7,246.2 256.5,247.5 257.8,248.5 259.3,249.0 260.7,249.5 262.0,249.7 262.9,250.2 264.5,249.9 265.4,250.0 267.2,250.7 268.0,251.0 269.2,252.0 270.7,252.9 271.7,253.0 273.0,253.8 274.2,254.6 275.8,254.9 277.4,255.8 278.3,257.1 279.3,257.6 280.8,258.2 282.4,258.3 283.1,258.9 284.3,259.3 285.9,259.2 286.9,259.5 288.1,260.0 290.6,260.4 291.9,260.6 292.3,261.1 293.2,261.9 295.0,262.2 297.7,262.4 298.3,262.6 298.5,262.9 299.7,263.9 302.6,264.3 302.8,265.1 303.3,265.9 305.2,266.6 306.4,266.9 309.3,267.0 308.4,267.4 310.6,267.6 311.6,268.0 312.2,268.4 315.0,268.7 315.6,269.0" fill="none" stroke="#1a7fcc" stroke-width="1.2" stroke-linejoin="round" stroke-opacity="0.8"/>
</g>
<g clip-path="url(#cg1)">
<polyline points="233.3,293.9 239.0,292.2" fill="none" stroke="#f5a623" stroke-width="1.2" stroke-linejoin="round" />
<polyline points="233.3,293.9 239.0,292.6" fill="none" stroke="#f5a623" stroke-width="1.2" stroke-linejoin="round" />
<polyline points="233.3,293.9 239.0,292.5" fill="none" stroke="#f5a623" stroke-width="1.2" stroke-linejoin="round" />
<polyline points="233.3,293.9 239.0,293.7" fill="none" stroke="#f5a623" stroke-width="1.2" stroke-linejoin="round" />
<polyline points="233.3,293.9 239.0,293.5" fill="none" stroke="#f5a623" stroke-width="1.2" stroke-linejoin="round" />
<polyline points="233.3,293.9 239.0,290.9" fill="none" stroke="#f5a623" stroke-width="1.2" stroke-linejoin="round" />
<polyline points="233.3,293.9 239.0,292.0" fill="none" stroke="#f5a623" stroke-width="1.2" stroke-linejoin="round" />
<polyline points="233.3,293.9 239.0,294.1" fill="none" stroke="#f5a623" stroke-width="1.2" stroke-linejoin="round" />
<polyline points="233.3,293.9 239.0,297.0" fill="none" stroke="#f5a623" stroke-width="1.2" stroke-linejoin="round" />
<polyline points="233.3,293.9 239.0,295.4" fill="none" stroke="#f5a623" stroke-width="1.2" stroke-linejoin="round" />
<polyline points="233.3,293.9 239.0,295.7" fill="none" stroke="#f5a623" stroke-width="1.2" stroke-linejoin="round" />
<polyline points="233.3,293.9 239.0,294.1" fill="none" stroke="#f5a623" stroke-width="1.2" stroke-linejoin="round" />
<polyline points="233.3,293.9 239.0,295.6" fill="none" stroke="#f5a623" stroke-width="1.2" stroke-linejoin="round" />
<polyline points="233.3,293.9 239.0,295.3" fill="none" stroke="#f5a623" stroke-width="1.2" stroke-linejoin="round" />
<polyline points="233.3,293.9 239.0,296.1" fill="none" stroke="#f5a623" stroke-width="1.2" stroke-linejoin="round" />
<polyline points="233.3,293.9 239.0,296.6" fill="none" stroke="#f5a623" stroke-width="1.2" stroke-linejoin="round" />
<polyline points="233.3,293.9 239.0,298.2" fill="none" stroke="#f5a623" stroke-width="1.2" stroke-linejoin="round" />
<polyline points="233.3,293.9 239.0,297.3" fill="none" stroke="#f5a623" stroke-width="1.2" stroke-linejoin="round" />
<polyline points="233.3,293.9 239.0,297.9" fill="none" stroke="#f5a623" stroke-width="1.2" stroke-linejoin="round" />
<polyline points="233.3,293.9 239.0,301.4" fill="none" stroke="#f5a623" stroke-width="1.2" stroke-linejoin="round" />
<polyline points="233.3,293.9 239.0,298.7" fill="none" stroke="#f5a623" stroke-width="1.2" stroke-linejoin="round" />
<polyline points="233.3,293.9 239.0,297.8" fill="none" stroke="#f5a623" stroke-width="1.2" stroke-linejoin="round" />
<polyline points="233.3,293.9 239.0,298.8" fill="none" stroke="#f5a623" stroke-width="1.2" stroke-linejoin="round" />
<polyline points="233.3,293.9 239.0,300.9" fill="none" stroke="#f5a623" stroke-width="1.2" stroke-linejoin="round" />
<polyline points="233.3,293.9 239.0,298.7" fill="none" stroke="#f5a623" stroke-width="1.2" stroke-linejoin="round" />
<polyline points="233.3,293.9 239.0,299.6" fill="none" stroke="#f5a623" stroke-width="1.2" stroke-linejoin="round" />
<polyline points="233.3,293.9 239.0,299.2" fill="none" stroke="#f5a623" stroke-width="1.2" stroke-linejoin="round" />
<polyline points="233.3,293.9 239.0,300.4" fill="none" stroke="#f5a623" stroke-width="1.2" stroke-linejoin="round" />
<polyline points="233.3,293.9 239.0,300.5" fill="none" stroke="#f5a623" stroke-width="1.2" stroke-linejoin="round" />
<polyline points="233.3,293.9 239.0,301.7" fill="none" stroke="#f5a623" stroke-width="1.2" stroke-linejoin="round" />
<polyline points="233.3,293.9 239.0,301.9" fill="none" stroke="#f5a623" stroke-width="1.2" stroke-linejoin="round" />
<polyline points="233.3,293.9 239.0,303.2" fill="none" stroke="#f5a623" stroke-width="1.2" stroke-linejoin="round" />
<polyline points="233.3,293.9 239.0,301.8" fill="none" stroke="#f5a623" stroke-width="1.2" stroke-linejoin="round" />
<polyline points="233.3,293.9 239.0,303.2" fill="none" stroke="#f5a623" stroke-width="1.2" stroke-linejoin="round" />
<polyline points="233.3,293.9 239.0,300.9" fill="none" stroke="#f5a623" stroke-width="1.2" stroke-linejoin="round" />
<polyline points="233.3,293.9 239.0,304.3" fill="none" stroke="#f5a623" stroke-width="1.2" stroke-linejoin="round" />
<polyline points="233.3,293.9 239.0,304.4" fill="none" stroke="#f5a623" stroke-width="1.2" stroke-linejoin="round" />
<polyline points="233.3,293.9 239.0,301.9" fill="none" stroke="#f5a623" stroke-width="1.2" stroke-linejoin="round" />
<polyline points="233.3,293.9 239.0,304.0" fill="none" stroke="#f5a623" stroke-width="1.2" stroke-linejoin="round" />
<polyline points="233.3,293.9 239.0,304.6" fill="none" stroke="#f5a623" stroke-width="1.2" stroke-linejoin="round" />
<polyline points="233.3,293.9 239.0,305.0" fill="none" stroke="#f5a623" stroke-width="1.2" stroke-linejoin="round" />
<polyline points="233.3,293.9 239.0,305.8" fill="none" stroke="#f5a623" stroke-width="1.2" stroke-linejoin="round" />
<polyline points="233.3,293.9 239.0,305.4" fill="none" stroke="#f5a623" stroke-width="1.2" stroke-linejoin="round" />
<polyline points="233.3,293.9 239.0,304.2" fill="none" stroke="#f5a623" stroke-width="1.2" stroke-linejoin="round" />
<polyline points="233.3,293.9 239.0,306.0" fill="none" stroke="#f5a623" stroke-width="1.2" stroke-linejoin="round" />
<polyline points="233.3,293.9 239.0,306.0" fill="none" stroke="#f5a623" stroke-width="1.2" stroke-linejoin="round" />
<polyline points="233.3,293.9 239.0,306.7" fill="none" stroke="#f5a623" stroke-width="1.2" stroke-linejoin="round" />
<polyline points="233.3,293.9 239.0,304.7" fill="none" stroke="#f5a623" stroke-width="1.2" stroke-linejoin="round" />
<polyline points="239.0,292.2 241.1,291.1 243.1,290.6 245.2,293.2 247.3,291.7 249.4,291.2 251.4,291.1 253.5,290.9 255.6,293.9 257.7,294.5 259.7,294.8 261.8,297.0 263.9,300.0 266.0,299.1 268.0,302.5 270.1,302.3 272.2,304.4 274.2,305.3 276.3,303.4 278.4,302.7 280.5,302.7 282.5,302.9 284.6,304.6 286.7,302.1 288.7,303.7 290.8,304.3 292.9,305.2 295.0,305.8 297.0,304.4 299.1,305.9 301.2,307.6 303.3,308.3 305.3,309.5 307.4,310.3 309.5,309.9 311.6,310.9 313.6,311.9 315.7,312.0 317.8,314.0 319.9,312.9 321.9,311.9 324.0,313.1 326.1,313.5 328.1,312.5 330.2,312.8 332.3,312.9 334.4,314.2 336.4,314.2 338.5,313.8 340.6,316.4 342.7,316.0 344.7,317.4" fill="none" stroke="#1a7fcc" stroke-width="1.3" stroke-linejoin="round" stroke-opacity="0.85"/>
<polyline points="239.0,292.6 241.1,289.2 243.1,289.6 245.2,291.7 247.3,290.8 249.4,293.5 251.4,291.9 253.5,289.1 255.6,291.3 257.7,292.9 259.7,297.1 261.8,301.6 263.9,304.9 265.9,305.2 268.0,304.8 270.1,301.0 272.2,301.6 274.2,301.7 276.3,303.1 278.4,300.5 280.4,302.2 282.5,301.6 284.6,302.1 286.7,301.3 288.7,300.4 290.8,301.3 292.9,301.0 294.9,303.2 297.0,303.2 299.1,305.5 301.2,306.1 303.2,308.8 305.3,308.9 307.4,312.5 309.5,314.2 311.5,314.6 313.6,315.0 315.7,314.2 317.7,315.2 319.8,314.9 321.9,315.3 324.0,314.7 326.0,314.1 328.1,312.7 330.2,311.1 332.3,310.6 334.3,310.2 336.4,314.0 338.5,313.5 340.5,316.7 342.6,316.6 344.7,317.0 346.8,316.3 348.8,317.0" fill="none" stroke="#1a7fcc" stroke-width="1.3" stroke-linejoin="round" stroke-opacity="0.85"/>
<polyline points="239.0,292.5 241.1,290.9 243.1,291.6 245.2,290.5 247.3,290.1 249.4,292.3 251.4,291.9 253.5,291.7 255.6,291.3 257.6,295.3 259.7,297.3 261.8,298.1 263.9,300.5 265.9,303.0 268.0,303.5 270.1,301.3 272.2,300.9 274.2,301.7 276.3,301.4 278.4,301.1 280.4,302.7 282.5,303.7 284.6,303.9 286.7,304.2 288.7,303.0 290.8,300.2 292.9,301.9 294.9,307.1 297.0,308.7 299.1,308.1 301.2,310.9 303.2,309.3 305.3,309.3 307.4,309.7 309.5,311.8 311.5,313.4 313.6,314.4 315.7,311.5 317.7,313.2 319.8,314.6 321.9,314.7 324.0,314.9 326.0,312.6 328.1,311.4 330.2,311.5 332.2,314.0 334.3,313.1 336.4,315.7 338.5,316.4 340.5,316.9 342.6,317.6 344.7,316.5 346.7,316.7 348.8,318.1 350.9,319.5 353.0,321.7" fill="none" stroke="#1a7fcc" stroke-width="1.3" stroke-linejoin="round" stroke-opacity="0.85"/>
<polyline points="239.0,293.7 241.1,292.9 243.1,290.3 245.2,291.2 247.3,290.9 249.4,291.4 251.4,290.8 253.5,293.6 255.6,292.5 257.6,295.3 259.7,295.9 261.8,299.2 263.9,301.0 265.9,301.5 268.0,303.7 270.1,303.4 272.1,304.1 274.2,304.2 276.3,302.6 278.4,302.4 280.4,305.2 282.5,303.6 284.6,304.0 286.7,302.1 288.7,303.5 290.8,305.3 292.9,304.7 294.9,306.9 297.0,306.9 299.1,306.9 301.1,309.3 303.2,309.4 305.3,309.0 307.4,307.3 309.4,311.6 311.5,313.5 313.6,315.6 315.7,317.1 317.7,317.3 319.8,314.9 321.9,315.5 324.0,314.6 326.0,316.0 328.1,313.5 330.1,313.5 332.2,311.3 334.3,312.7 336.4,313.4 338.5,316.9 340.5,317.4 342.6,318.7 344.6,319.6 346.7,318.1" fill="none" stroke="#1a7fcc" stroke-width="1.3" stroke-linejoin="round" stroke-opacity="0.85"/>
<polyline points="239.0,293.5 241.1,294.3 243.1,292.4 245.2,291.9 247.3,293.7 249.4,293.2 251.4,291.0 253.5,295.0 255.6,295.0 257.6,297.1 259.7,297.9 261.8,302.4 263.9,303.9 265.9,302.2 268.0,302.6 270.1,304.1 272.1,304.9 274.2,304.4 276.3,303.3 278.4,303.4 280.4,303.6 282.5,301.7 284.6,303.2 286.6,304.0 288.7,302.8 290.8,303.0 292.8,302.7 294.9,302.2 297.0,301.6 299.0,305.9 301.1,305.4 303.2,309.2 305.3,310.4 307.3,311.8 309.4,311.3 311.5,311.4 313.6,314.1 315.6,314.6 317.7,314.5 319.8,315.2 321.9,314.0 323.9,314.1 326.0,313.4 328.1,313.5 330.1,314.5 332.2,316.5 334.3,314.3 336.3,313.5 338.4,317.0 340.5,318.4 342.5,320.0 344.6,320.2 346.7,319.6" fill="none" stroke="#1a7fcc" stroke-width="1.3" stroke-linejoin="round" stroke-opacity="0.85"/>
<polyline points="239.0,290.9 241.1,291.8 243.1,292.6 245.2,293.7 247.3,292.0 249.4,292.1 251.4,291.7 253.5,294.3 255.6,299.0 257.6,297.9 259.7,301.3 261.8,301.8 263.8,305.0 265.9,302.5 268.0,303.0 270.1,304.1 272.1,303.0 274.2,302.5 276.3,301.8 278.3,303.9 280.4,305.3 282.5,304.0 284.6,304.0 286.6,303.6 288.7,306.1 290.8,305.6 292.9,304.1 294.9,305.1 297.0,304.8 299.1,305.4 301.1,309.3 303.2,309.5 305.3,310.1 307.3,311.2 309.4,310.7 311.5,314.1 313.5,314.0 315.6,313.0 317.7,313.6 319.8,314.0 321.8,313.0 323.9,315.9 326.0,317.3 328.0,314.1 330.1,314.7 332.2,313.7 334.3,314.9 336.3,315.8 338.4,316.7 340.4,317.2 342.5,317.6 344.6,317.0 346.7,316.9" fill="none" stroke="#1a7fcc" stroke-width="1.3" stroke-linejoin="round" stroke-opacity="0.85"/>
<polyline points="239.0,292.0 241.1,291.4 243.1,292.3 245.2,294.2 247.3,292.0 249.3,291.1 251.4,291.9 253.5,295.1 255.6,294.4 257.6,297.4 259.7,298.1 261.8,300.9 263.8,303.6 265.9,302.6 268.0,301.7 270.1,300.2 272.1,300.8 274.2,301.8 276.3,303.5 278.3,304.4 280.4,305.7 282.5,305.3 284.6,303.9 286.6,305.5 288.7,305.3 290.8,306.8 292.8,307.6 294.9,305.2 297.0,306.9 299.0,308.4 301.1,310.8 303.2,312.0 305.2,311.0 307.3,312.8 309.4,312.7 311.5,315.3 313.5,314.0 315.6,315.1 317.7,316.1 319.7,315.6 321.8,313.9 323.9,313.5 326.0,314.6 328.0,316.1 330.1,316.1 332.2,315.6 334.2,316.4 336.3,317.7 338.4,315.5 340.4,316.0 342.5,316.6 344.6,316.1 346.6,317.9 348.7,318.1 350.8,320.1 352.8,323.1" fill="none" stroke="#1a7fcc" stroke-width="1.3" stroke-linejoin="round" stroke-opacity="0.85"/>
<polyline points="239.0,294.1 241.1,295.4 243.1,294.2 245.2,294.4 247.3,293.2 249.3,293.8 251.4,296.4 253.5,296.3 255.6,294.0 257.6,293.2 259.7,296.9 261.8,301.1 263.8,302.8 265.9,303.0 268.0,301.9 270.0,301.8 272.1,303.8 274.2,303.1 276.3,301.3 278.3,302.1 280.4,302.8 282.5,303.9 284.5,305.5 286.6,305.4 288.7,305.1 290.7,304.4 292.8,305.3 294.9,306.4 296.9,307.9 299.0,309.0 301.1,311.3 303.1,309.9 305.2,310.0 307.3,311.6 309.4,311.9 311.4,312.2 313.5,314.2 315.6,313.3 317.6,313.7 319.7,314.3 321.8,313.6 323.8,314.9 325.9,315.9 328.0,317.3 330.1,315.1 332.1,315.6 334.2,316.7 336.2,317.3 338.3,315.3 340.4,316.3 342.4,319.4 344.6,319.4 346.5,320.3 348.7,318.9 350.7,320.7 352.9,322.7 354.9,323.1 356.9,323.3 359.1,323.7" fill="none" stroke="#1a7fcc" stroke-width="1.3" stroke-linejoin="round" stroke-opacity="0.85"/>
<polyline points="239.0,297.0 241.1,296.6 243.1,294.4 245.2,294.7 247.3,295.2 249.3,293.5 251.4,291.6 253.5,292.7 255.5,296.1 257.6,297.8 259.7,298.0 261.8,301.4 263.8,301.9 265.9,301.4 268.0,301.4 270.0,300.7 272.1,301.6 274.2,301.5 276.2,301.6 278.3,305.2 280.4,302.9 282.4,303.8 284.5,305.5 286.6,306.5 288.6,307.3 290.7,305.5 292.8,302.9 294.9,302.0 296.9,303.8 299.0,306.8 301.0,310.1 303.1,309.7 305.2,308.4 307.3,307.6 309.4,310.1 311.4,312.3 313.5,314.6 315.6,316.7 317.6,316.3 319.7,316.3 321.8,316.7 323.8,316.8 325.9,313.9 328.0,313.9 330.0,313.2 332.2,315.0 334.2,314.9 336.2,316.4 338.3,318.3 340.4,319.2 342.5,319.7 344.5,320.3 346.6,322.0 348.6,321.3 350.7,323.1 352.8,324.0 354.9,323.7 356.9,323.7 359.0,323.6 361.1,323.1" fill="none" stroke="#1a7fcc" stroke-width="1.3" stroke-linejoin="round" stroke-opacity="0.85"/>
<polyline points="239.0,295.4 241.1,293.3 243.1,294.3 245.2,293.2 247.3,295.5 249.3,296.9 251.4,297.1 253.5,298.0 255.5,297.1 257.6,300.1 259.7,301.1 261.8,303.7 263.8,305.5 265.9,304.8 268.0,303.7 270.0,299.9 272.1,301.0 274.2,301.9 276.2,302.6 278.3,303.8 280.4,305.2 282.5,304.2 284.5,306.1 286.6,303.1 288.6,304.5 290.7,304.7 292.8,307.8 294.8,309.9 296.9,309.2 299.0,309.8 301.1,311.6 303.1,311.8 305.2,313.4 307.3,313.9 309.4,314.7 311.4,317.8 313.5,318.2 315.5,319.1 317.6,318.4 319.7,316.9 321.7,315.6 323.8,316.0 325.9,314.9 328.0,314.3 330.0,316.4 332.1,314.7 334.1,315.8 336.2,316.0 338.3,317.9 340.4,320.5 342.4,321.3 344.5,319.4 346.6,319.7 348.6,320.3 350.7,320.5 352.8,322.4 354.8,322.9 356.9,323.2" fill="none" stroke="#1a7fcc" stroke-width="1.3" stroke-linejoin="round" stroke-opacity="0.85"/>
<polyline points="239.0,295.7 241.1,296.3 243.1,295.7 245.2,294.8 247.3,293.5 249.3,294.8 251.4,296.2 253.5,297.1 255.5,296.9 257.6,299.5 259.7,301.1 261.7,303.2 263.8,306.4 265.9,304.9 268.0,303.5 270.0,303.7 272.1,304.2 274.1,305.2 276.2,305.3 278.3,305.4 280.4,306.9 282.4,307.2 284.5,308.1 286.5,308.2 288.7,304.8 290.7,306.1 292.8,308.0 294.8,309.0 296.9,307.1 298.9,308.0 301.0,311.7 303.1,310.8 305.2,312.5 307.2,313.3 309.3,314.7 311.3,314.2 313.4,314.5 315.5,316.2 317.6,314.7 319.7,313.9 321.7,314.9 323.8,317.6 325.9,317.2 327.9,319.3 330.0,318.5 332.0,318.0 334.1,315.7 336.2,317.0 338.3,316.1 340.4,316.9 342.4,319.1 344.5,321.1 346.5,319.8 348.6,320.2 350.7,321.9 352.8,323.1" fill="none" stroke="#1a7fcc" stroke-width="1.3" stroke-linejoin="round" stroke-opacity="0.85"/>
<polyline points="239.0,294.1 241.1,293.9 243.1,293.3 245.2,295.5 247.3,297.2 249.3,296.2 251.4,296.7 253.5,294.7 255.5,296.7 257.6,300.8 259.7,302.2 261.7,303.8 263.8,304.9 265.9,304.9 267.9,304.1 270.0,303.5 272.1,304.1 274.1,304.9 276.2,305.3 278.3,304.5 280.3,307.0 282.4,308.5 284.5,306.2 286.6,306.4 288.6,307.4 290.7,308.1 292.8,307.9 294.8,309.5 296.9,310.5 299.0,310.3 301.0,313.0 303.1,316.2 305.2,315.7 307.2,313.2 309.3,314.9 311.4,316.4 313.4,316.4 315.5,317.1 317.5,318.3 319.6,317.5 321.7,320.1 323.8,317.2 325.8,315.9 327.9,315.2 330.0,317.9 332.0,315.8 334.1,314.6 336.2,316.3 338.3,317.7 340.3,319.8 342.4,319.2 344.5,319.4 346.5,320.1 348.6,320.4 350.6,321.6 352.7,323.7 354.8,323.3 356.8,323.4 358.9,323.1 360.9,323.7" fill="none" stroke="#1a7fcc" stroke-width="1.3" stroke-linejoin="round" stroke-opacity="0.85"/>
<polyline points="239.0,295.6 241.1,293.2 243.1,293.9 245.2,293.9 247.3,295.2 249.3,295.0 251.4,293.5 253.5,292.8 255.5,294.0 257.6,295.4 259.7,300.0 261.7,301.9 263.8,301.6 265.9,301.8 267.9,304.0 270.0,304.6 272.1,305.1 274.1,305.1 276.2,305.9 278.3,306.9 280.4,304.5 282.4,302.9 284.5,304.6 286.5,305.4 288.6,303.0 290.7,305.0 292.7,308.0 294.8,307.3 296.9,309.4 299.0,308.4 301.0,312.4 303.1,312.1 305.2,312.0 307.2,314.3 309.3,314.2 311.3,316.8 313.4,315.5 315.5,316.5 317.5,317.6 319.6,316.7 321.7,317.7 323.8,316.0 325.8,314.9 327.9,314.2 329.9,314.8 332.0,315.9 334.1,316.6 336.2,316.9 338.2,316.6 340.3,318.3 342.3,319.8 344.5,319.2 346.5,320.5 348.5,321.3 350.6,322.2 352.7,323.0 354.7,323.3 356.8,323.0" fill="none" stroke="#1a7fcc" stroke-width="1.3" stroke-linejoin="round" stroke-opacity="0.85"/>
<polyline points="239.0,295.3 241.1,296.5 243.1,296.4 245.2,297.5 247.3,298.5 249.3,298.3 251.4,298.4 253.5,297.9 255.5,298.4 257.6,298.4 259.7,300.4 261.7,302.1 263.8,302.5 265.9,300.9 267.9,300.7 270.0,302.8 272.1,302.9 274.1,303.1 276.2,304.8 278.3,306.1 280.3,306.2 282.4,306.7 284.5,306.9 286.5,307.8 288.6,307.6 290.6,310.0 292.7,308.2 294.8,310.2 296.9,310.1 298.9,310.1 301.0,309.9 303.0,313.8 305.1,314.2 307.2,312.7 309.2,313.3 311.3,316.1 313.4,317.9 315.5,317.2 317.5,319.7 319.6,318.1 321.6,318.8 323.7,318.7 325.8,319.0 327.8,319.6 329.9,318.5 332.0,318.7 334.0,319.1 336.1,318.5 338.2,319.1 340.2,319.3 342.3,319.0 344.4,318.9 346.5,319.5 348.5,320.9 350.6,320.8 352.6,322.9 354.7,323.5" fill="none" stroke="#1a7fcc" stroke-width="1.3" stroke-linejoin="round" stroke-opacity="0.85"/>
<polyline points="239.0,296.1 241.1,296.2 243.1,297.9 245.2,297.4 247.3,297.4 249.3,297.2 251.4,296.6 253.5,296.9 255.5,297.4 257.6,298.9 259.7,302.7 261.7,303.8 263.8,306.7 265.9,305.9 267.9,304.2 270.0,304.9 272.1,306.8 274.1,305.5 276.2,304.5 278.3,304.7 280.3,304.0 282.4,306.1 284.5,305.2 286.5,306.0 288.6,307.2 290.6,307.4 292.7,304.9 294.8,308.0 296.9,309.6 298.9,311.1 301.0,309.7 303.1,311.3 305.1,313.6 307.2,314.4 309.2,314.9 311.3,313.7 313.4,316.9 315.4,315.5 317.5,315.5 319.6,316.4 321.6,315.8 323.7,318.5 325.8,317.1 327.8,316.9 329.9,316.0 332.0,315.8 334.0,318.4 336.1,319.4 338.2,317.3 340.2,320.3 342.3,319.6 344.4,319.9 346.4,321.3 348.5,321.3 350.5,322.1 352.6,323.6" fill="none" stroke="#1a7fcc" stroke-width="1.3" stroke-linejoin="round" stroke-opacity="0.85"/>
<polyline points="239.0,296.6 241.1,295.6 243.1,294.8 245.2,297.4 247.3,298.3 249.3,298.6 251.4,298.8 253.5,296.1 255.5,296.7 257.6,297.1 259.7,300.7 261.7,303.1 263.8,304.3 265.8,303.2 267.9,303.2 270.0,303.9 272.1,304.6 274.1,306.8 276.2,307.8 278.2,307.7 280.3,309.0 282.4,306.3 284.4,307.1 286.5,307.8 288.6,307.3 290.6,306.9 292.7,307.5 294.7,308.4 296.8,308.8 298.9,309.7 300.9,311.3 303.0,314.3 305.1,314.8 307.2,314.0 309.2,315.1 311.3,317.4 313.3,316.9 315.4,316.8 317.4,319.0 319.6,318.0 321.6,318.6 323.7,317.9 325.7,317.8 327.8,319.3 329.9,317.9 331.9,317.3 334.0,316.9 336.0,316.9 338.1,316.4 340.2,319.6 342.3,320.6 344.4,319.8 346.4,321.7 348.4,320.8 350.6,320.5 352.6,323.3 354.7,324.0 356.7,323.5 358.8,323.5" fill="none" stroke="#1a7fcc" stroke-width="1.3" stroke-linejoin="round" stroke-opacity="0.85"/>
<polyline points="239.0,298.2 241.1,298.1 243.1,297.5 245.2,299.5 247.3,298.6 249.3,297.1 251.4,297.2 253.5,297.6 255.5,299.5 257.6,302.5 259.6,301.3 261.7,302.0 263.8,303.8 265.9,303.6 267.9,304.7 270.0,303.2 272.0,304.9 274.1,307.3 276.2,306.3 278.2,306.7 280.3,307.2 282.4,308.0 284.4,308.3 286.5,306.5 288.6,305.9 290.6,306.8 292.7,307.0 294.8,306.0 296.8,307.8 298.9,311.1 300.9,311.3 303.0,312.5 305.1,312.9 307.2,313.0 309.2,316.2 311.3,315.5 313.3,315.7 315.4,317.1 317.5,316.5 319.6,317.1 321.6,317.7 323.7,317.8 325.7,316.3 327.8,315.5 329.9,316.0 331.9,316.6 334.0,317.4 336.0,317.7 338.1,319.4 340.2,320.6 342.2,318.3 344.3,318.3 346.4,320.5 348.5,322.1 350.5,322.9 352.6,324.1 354.6,324.1 356.7,324.1 358.8,324.4 360.9,324.1" fill="none" stroke="#1a7fcc" stroke-width="1.3" stroke-linejoin="round" stroke-opacity="0.85"/>
<polyline points="239.0,297.3 241.1,299.3 243.1,298.1 245.2,296.8 247.3,299.2 249.3,297.6 251.4,299.8 253.5,299.5 255.5,298.6 257.6,301.7 259.6,302.6 261.7,302.4 263.8,304.0 265.8,304.5 267.9,305.5 270.0,306.3 272.0,306.0 274.1,306.6 276.2,309.3 278.2,310.7 280.3,309.7 282.4,308.8 284.4,306.5 286.5,307.4 288.5,308.2 290.6,307.2 292.7,308.3 294.7,309.3 296.8,309.1 298.8,312.2 300.9,312.7 303.0,314.2 305.1,311.2 307.1,314.6 309.2,315.7 311.3,314.7 313.3,316.4 315.4,316.0 317.4,316.7 319.5,319.7 321.5,321.4 323.6,319.9 325.7,318.7 327.8,320.1 329.8,320.6 331.9,319.9 333.9,319.6 336.0,317.5 338.1,320.5 340.2,320.7 342.2,319.9 344.3,320.4 346.3,321.7 348.4,320.9 350.5,320.9 352.5,323.1 354.6,323.3" fill="none" stroke="#1a7fcc" stroke-width="1.3" stroke-linejoin="round" stroke-opacity="0.85"/>
<polyline points="239.0,297.9 241.1,296.7 243.1,295.3 245.2,298.0 247.3,298.5 249.3,299.1 251.4,298.4 253.4,297.1 255.5,300.6 257.6,302.4 259.6,304.3 261.7,304.5 263.8,306.0 265.8,304.2 267.9,304.2 270.0,302.6 272.0,303.6 274.1,306.2 276.1,309.5 278.2,309.2 280.3,308.6 282.3,307.7 284.4,306.6 286.4,307.0 288.5,305.0 290.6,307.6 292.7,309.9 294.7,309.6 296.8,310.4 298.8,310.2 300.9,311.7 303.0,311.1 305.0,312.1 307.1,314.7 309.2,316.6 311.2,318.3 313.3,320.1 315.4,317.2 317.4,318.2 319.5,316.8 321.5,316.2 323.6,317.3 325.7,317.3 327.7,316.7 329.8,316.5 331.8,319.2 333.9,319.6 336.0,319.5 338.1,320.8 340.0,320.6 342.2,320.3 344.2,321.7 346.3,321.2" fill="none" stroke="#1a7fcc" stroke-width="1.3" stroke-linejoin="round" stroke-opacity="0.85"/>
<polyline points="239.0,301.4 241.1,299.7 243.1,299.9 245.2,297.6 247.3,297.7 249.3,297.2 251.4,298.2 253.4,301.4 255.5,300.1 257.6,301.1 259.6,302.5 261.7,304.0 263.8,303.5 265.8,303.4 267.9,302.6 269.9,303.2 272.0,305.7 274.1,306.6 276.1,307.4 278.2,307.1 280.3,311.1 282.3,310.8 284.4,310.6 286.5,308.6 288.5,309.1 290.6,308.1 292.6,307.8 294.7,310.1 296.8,309.5 298.8,310.9 300.9,312.1 303.0,312.9 305.0,310.5 307.1,313.1 309.1,313.3 311.2,315.7 313.2,318.4 315.3,317.8 317.4,318.5 319.5,317.7 321.5,318.2 323.6,318.1 325.6,319.0 327.7,319.7 329.8,316.5 331.8,318.5 333.9,318.0 336.0,317.6 338.0,321.4 340.1,321.5 342.1,321.3 344.2,321.5 346.3,321.2" fill="none" stroke="#1a7fcc" stroke-width="1.3" stroke-linejoin="round" stroke-opacity="0.85"/>
<polyline points="239.0,298.7 241.1,296.6 243.1,296.7 245.2,298.8 247.2,298.2 249.3,296.6 251.4,294.7 253.4,298.9 255.5,302.2 257.6,302.5 259.6,303.8 261.7,303.6 263.7,306.6 265.8,305.4 267.9,302.6 269.9,303.9 272.0,304.1 274.1,305.2 276.1,305.4 278.2,304.0 280.3,307.7 282.3,311.0 284.4,312.5 286.5,314.3 288.5,313.0 290.6,312.6 292.6,310.6 294.7,310.7 296.8,311.3 298.8,311.6 300.9,312.2 302.9,314.7 305.0,315.1 307.1,315.7 309.2,315.8 311.2,316.4 313.2,318.9 315.3,318.6 317.4,316.5 319.4,316.9 321.5,315.6 323.6,316.8 325.6,315.3 327.7,314.2 329.8,315.7 331.8,317.9 333.9,317.8 335.9,319.1 338.0,320.3 340.1,320.2 342.1,320.3 344.2,321.8 346.3,321.3 348.4,320.6 350.4,321.4 352.4,323.8 354.5,323.6 356.6,323.7" fill="none" stroke="#1a7fcc" stroke-width="1.3" stroke-linejoin="round" stroke-opacity="0.85"/>
<polyline points="239.0,297.8 241.1,298.5 243.1,298.7 245.2,299.8 247.2,300.6 249.3,301.6 251.4,302.3 253.4,301.5 255.5,301.9 257.6,303.1 259.6,305.2 261.7,304.4 263.7,307.1 265.8,306.4 267.9,306.3 269.9,305.4 272.0,304.7 274.1,306.0 276.1,305.6 278.2,307.7 280.2,311.5 282.3,308.8 284.4,310.6 286.4,310.4 288.5,313.4 290.5,311.1 292.6,310.1 294.7,311.9 296.7,312.7 298.8,314.0 300.9,312.1 302.9,313.1 305.0,311.5 307.0,314.8 309.1,314.8 311.1,316.8 313.2,319.2 315.3,319.3 317.3,319.8 319.4,318.4 321.5,317.4 323.5,317.0 325.6,318.6 327.7,316.4 329.7,318.8 331.8,318.1 333.9,319.0 335.9,319.4 338.0,321.8 340.0,321.9 342.1,320.5 344.1,320.4 346.3,321.5 348.2,321.8 350.3,321.8 352.4,323.5" fill="none" stroke="#1a7fcc" stroke-width="1.3" stroke-linejoin="round" stroke-opacity="0.85"/>
<polyline points="239.0,298.8 241.1,300.3 243.1,298.8 245.2,300.8 247.2,300.6 249.3,300.1 251.4,298.0 253.4,299.6 255.5,299.6 257.6,300.5 259.6,304.9 261.7,305.9 263.7,306.8 265.8,307.4 267.9,306.5 269.9,306.0 272.0,306.6 274.1,305.9 276.1,305.7 278.2,305.3 280.2,307.0 282.3,307.1 284.4,306.3 286.4,309.3 288.5,309.8 290.6,307.9 292.6,309.8 294.7,309.7 296.7,312.9 298.8,315.0 300.8,316.1 302.9,314.7 305.0,314.5 307.1,317.7 309.1,321.0 311.2,318.5 313.2,320.2 315.3,321.7 317.3,319.7 319.4,319.2 321.5,319.0 323.5,319.5 325.6,320.5 327.6,320.7 329.7,321.6 331.8,320.3 333.9,319.4 335.9,320.1 338.0,318.7 340.0,320.9 342.1,322.7 344.1,322.9 346.2,322.5 348.3,324.0 350.4,323.7" fill="none" stroke="#1a7fcc" stroke-width="1.3" stroke-linejoin="round" stroke-opacity="0.85"/>
<polyline points="239.0,300.9 241.1,302.5 243.1,300.8 245.2,300.1 247.2,297.5 249.3,299.6 251.4,301.2 253.4,300.4 255.5,302.1 257.5,302.3 259.6,304.6 261.7,306.9 263.7,307.9 265.8,308.9 267.9,309.8 269.9,306.3 272.0,307.6 274.0,306.2 276.1,306.4 278.2,309.8 280.2,309.8 282.3,308.1 284.4,307.7 286.4,308.1 288.5,306.0 290.5,308.6 292.6,310.7 294.7,311.7 296.7,312.9 298.8,312.6 300.8,313.0 302.9,314.8 305.0,316.7 307.0,318.3 309.1,319.5 311.2,320.1 313.2,319.9 315.2,317.4 317.3,318.4 319.4,317.2 321.5,319.4 323.5,320.6 325.6,319.4 327.6,318.8 329.6,320.0 331.7,318.1 333.8,316.1 335.8,320.6 337.9,320.3 340.0,320.4 342.1,321.9 344.1,321.9 346.2,322.6 348.3,322.3 350.3,322.8 352.3,323.8" fill="none" stroke="#1a7fcc" stroke-width="1.3" stroke-linejoin="round" stroke-opacity="0.85"/>
<polyline points="239.0,298.7 241.1,299.5 243.1,300.0 245.2,301.5 247.2,301.6 249.3,302.9 251.4,303.8 253.4,300.4 255.5,298.8 257.5,301.5 259.6,304.0 261.7,305.6 263.7,304.9 265.8,305.9 267.9,306.5 269.9,308.3 272.0,310.2 274.0,311.4 276.1,309.1 278.2,308.3 280.2,307.4 282.3,308.2 284.3,309.1 286.4,309.3 288.4,309.5 290.5,309.6 292.6,309.3 294.6,307.6 296.7,309.7 298.8,309.8 300.8,313.3 302.9,314.2 304.9,312.8 307.0,312.6 309.1,315.1 311.1,319.4 313.2,320.7 315.3,318.5 317.3,320.3 319.4,318.0 321.4,319.2 323.5,318.9 325.5,319.0 327.6,317.3 329.7,316.3 331.7,317.3 333.8,318.8 335.8,321.1 337.9,323.0 340.0,323.2 342.1,322.0 344.1,323.5 346.1,323.4 348.3,322.2" fill="none" stroke="#1a7fcc" stroke-width="1.3" stroke-linejoin="round" stroke-opacity="0.85"/>
<polyline points="239.0,299.6 241.1,300.3 243.1,298.3 245.2,298.8 247.2,299.4 249.3,299.5 251.4,298.8 253.4,299.3 255.5,301.9 257.6,302.9 259.6,304.9 261.7,306.6 263.7,307.2 265.8,306.9 267.8,305.9 269.9,306.3 272.0,307.6 274.0,304.5 276.1,307.2 278.1,307.1 280.2,308.7 282.3,308.6 284.3,310.8 286.4,310.5 288.4,310.5 290.5,311.6 292.6,312.1 294.6,313.1 296.7,316.0 298.8,316.1 300.8,317.3 302.8,316.4 304.9,318.1 307.0,318.7 309.0,321.2 311.1,319.5 313.1,321.2 315.2,321.6 317.2,320.5 319.3,319.4 321.4,319.5 323.4,321.6 325.5,321.5 327.6,320.4 329.7,319.7 331.7,320.5 333.8,319.8 335.8,320.9 337.9,322.2 339.9,323.8 342.0,323.7 344.1,325.3 346.1,323.7" fill="none" stroke="#1a7fcc" stroke-width="1.3" stroke-linejoin="round" stroke-opacity="0.85"/>
<polyline points="239.0,299.2 241.1,298.4 243.1,299.1 245.2,301.6 247.2,302.4 249.3,302.7 251.4,300.5 253.4,300.3 255.5,301.6 257.5,303.5 259.6,305.9 261.7,307.0 263.7,307.6 265.8,308.2 267.8,307.4 269.9,307.4 271.9,308.5 274.0,308.2 276.1,307.6 278.1,310.6 280.2,311.7 282.2,310.8 284.3,311.3 286.4,310.5 288.4,311.5 290.5,311.4 292.5,311.7 294.6,313.2 296.7,316.6 298.7,317.7 300.8,316.3 302.8,315.2 304.9,316.6 307.0,316.7 309.0,318.6 311.1,321.9 313.1,322.1 315.2,321.5 317.3,321.5 319.4,320.8 321.4,320.2 323.5,316.3 325.5,317.8 327.6,317.1 329.6,318.8 331.6,321.7 333.7,322.8 335.8,323.6 337.8,325.4 339.9,323.3 342.0,323.9 344.1,323.0 346.1,324.1 348.1,323.8 350.2,324.3 352.2,325.0 354.3,325.1 356.4,324.7 358.4,324.2" fill="none" stroke="#1a7fcc" stroke-width="1.3" stroke-linejoin="round" stroke-opacity="0.85"/>
<polyline points="239.0,300.4 241.1,300.4 243.1,301.9 245.2,301.4 247.2,300.9 249.3,302.3 251.4,302.5 253.4,303.9 255.5,304.8 257.5,306.8 259.6,307.6 261.6,308.1 263.7,308.0 265.8,306.6 267.8,305.6 269.9,307.8 272.0,308.1 274.0,308.7 276.1,309.1 278.1,309.0 280.2,309.7 282.2,311.0 284.3,309.5 286.4,309.9 288.4,309.9 290.5,307.6 292.5,311.1 294.6,311.8 296.6,314.5 298.7,313.7 300.8,315.9 302.8,317.1 304.9,316.5 306.9,318.1 309.0,317.5 311.1,321.6 313.1,321.8 315.2,321.9 317.2,321.4 319.3,321.3 321.3,323.6 323.4,322.4 325.5,322.0 327.5,322.1 329.6,323.1 331.7,322.0 333.7,321.2 335.8,322.3 337.9,322.3 339.9,323.6 341.9,324.1 344.0,324.4 346.1,323.0" fill="none" stroke="#1a7fcc" stroke-width="1.3" stroke-linejoin="round" stroke-opacity="0.85"/>
<polyline points="239.0,300.5 241.1,302.8 243.1,301.5 245.2,303.1 247.2,303.8 249.3,306.3 251.4,302.0 253.4,302.4 255.5,303.1 257.5,302.9 259.6,303.0 261.6,305.9 263.7,306.6 265.8,307.1 267.8,308.8 269.9,309.9 271.9,309.4 274.0,310.1 276.0,310.8 278.1,310.4 280.2,308.6 282.2,312.7 284.3,313.3 286.3,312.9 288.4,312.8 290.5,312.1 292.5,312.4 294.6,313.4 296.7,313.8 298.7,312.5 300.8,313.0 302.8,314.3 304.9,313.5 306.9,316.3 309.0,319.3 311.0,320.8 313.1,318.8 315.1,322.3 317.2,318.4 319.3,320.0 321.4,319.5 323.4,322.2 325.5,322.5 327.5,323.6 329.6,321.3 331.6,321.1 333.7,320.0 335.7,322.2 337.8,324.1 339.9,324.9 341.9,323.8 344.0,324.9 346.0,325.0 348.1,323.9 350.2,324.4 352.2,324.1" fill="none" stroke="#1a7fcc" stroke-width="1.3" stroke-linejoin="round" stroke-opacity="0.85"/>
<polyline points="239.0,301.7 241.1,299.8 243.1,299.7 245.2,299.6 247.2,300.2 249.3,301.5 251.4,300.0 253.4,301.9 255.5,301.4 257.5,304.0 259.6,307.4 261.6,308.3 263.7,308.5 265.8,306.4 267.8,309.3 269.9,307.6 271.9,307.3 274.0,309.4 276.0,309.0 278.1,309.6 280.2,310.8 282.2,309.9 284.3,312.1 286.3,310.5 288.4,313.8 290.5,313.1 292.5,313.3 294.6,313.3 296.6,312.7 298.7,314.6 300.7,315.6 302.8,316.1 304.9,314.6 306.9,316.0 308.9,320.2 311.0,319.0 313.1,319.8 315.1,320.1 317.2,320.1 319.3,320.6 321.3,322.0 323.3,320.6 325.4,322.4 327.5,322.0 329.6,320.8 331.6,323.7 333.6,323.0 335.7,323.3 337.8,324.9 339.8,323.8 341.9,321.4 343.9,322.7 346.0,323.3 348.0,323.6 350.1,323.6 352.1,324.5 354.2,325.0 356.3,324.6 358.4,323.9 360.4,323.7" fill="none" stroke="#1a7fcc" stroke-width="1.3" stroke-linejoin="round" stroke-opacity="0.85"/>
<polyline points="239.0,301.9 241.1,301.3 243.1,302.7 245.2,302.3 247.2,301.5 249.3,303.7 251.3,305.0 253.4,302.8 255.5,303.0 257.5,304.7 259.6,304.9 261.6,306.2 263.7,307.6 265.7,309.6 267.8,309.8 269.9,309.0 271.9,307.0 274.0,307.3 276.0,310.2 278.1,311.6 280.1,312.3 282.2,311.5 284.3,312.7 286.3,313.2 288.4,313.9 290.4,310.9 292.5,313.0 294.6,310.0 296.6,311.4 298.6,311.6 300.7,312.3 302.8,314.4 304.9,315.1 306.9,317.9 309.0,319.3 311.0,320.7 313.1,320.7 315.1,322.5 317.2,322.1 319.2,323.8 321.3,324.1 323.4,322.8 325.5,320.0 327.5,320.5 329.5,321.7 331.6,320.7 333.7,322.3 335.7,321.5 337.8,323.3 339.8,321.4 341.9,322.8 343.9,324.7 346.0,322.2 348.1,324.9 350.1,324.0 352.1,324.8 354.2,325.2 356.3,325.0 358.4,324.8" fill="none" stroke="#1a7fcc" stroke-width="1.3" stroke-linejoin="round" stroke-opacity="0.85"/>
<polyline points="239.0,303.2 241.1,302.8 243.1,302.0 245.2,302.6 247.2,301.9 249.3,301.9 251.3,303.4 253.4,303.2 255.5,303.4 257.5,307.0 259.6,306.5 261.6,305.6 263.7,306.6 265.7,307.7 267.8,307.6 269.9,308.6 271.9,309.1 274.0,309.2 276.0,308.7 278.1,311.4 280.1,311.0 282.2,310.3 284.2,313.5 286.3,312.9 288.4,313.1 290.4,313.9 292.5,313.8 294.5,315.3 296.6,316.2 298.7,316.4 300.7,316.7 302.8,317.1 304.8,317.2 306.9,319.2 308.9,320.3 311.0,320.3 313.0,320.6 315.1,321.8 317.2,323.0 319.2,322.7 321.3,320.9 323.3,319.2 325.4,319.0 327.4,320.0 329.5,318.2 331.5,319.9 333.7,319.7 335.6,320.4 337.7,322.2 339.8,323.8 341.9,322.7 343.9,322.7 346.0,324.6 348.0,323.8" fill="none" stroke="#1a7fcc" stroke-width="1.3" stroke-linejoin="round" stroke-opacity="0.85"/>
<polyline points="239.0,301.8 241.1,303.6 243.1,302.7 245.2,304.2 247.2,304.9 249.3,305.4 251.3,304.7 253.4,304.5 255.4,304.6 257.5,304.8 259.6,308.4 261.6,308.3 263.7,309.6 265.7,308.5 267.8,306.5 269.8,308.3 271.9,309.8 274.0,309.8 276.0,312.1 278.1,311.6 280.1,314.4 282.2,312.5 284.3,311.5 286.3,311.7 288.4,312.4 290.4,312.9 292.5,312.4 294.5,313.4 296.5,316.5 298.6,316.0 300.7,317.1 302.7,314.5 304.8,317.2 306.9,319.6 308.9,321.2 311.0,322.4 313.0,322.0 315.1,324.5 317.2,324.4 319.2,323.8 321.2,323.5 323.3,321.4 325.4,321.6 327.4,320.3 329.5,319.5 331.5,322.3 333.6,323.2 335.6,321.2 337.7,321.7 339.7,323.3 341.8,324.3 343.8,325.1 345.9,326.3" fill="none" stroke="#1a7fcc" stroke-width="1.3" stroke-linejoin="round" stroke-opacity="0.85"/>
<polyline points="239.0,303.2 241.1,301.2 243.1,301.8 245.2,301.4 247.2,305.2 249.3,303.6 251.3,302.1 253.4,301.7 255.4,302.4 257.5,303.0 259.6,304.8 261.6,308.4 263.7,309.0 265.7,308.1 267.8,308.8 269.8,309.6 271.9,309.5 273.9,310.8 276.0,311.6 278.1,310.6 280.1,311.1 282.2,311.6 284.2,312.1 286.3,310.9 288.3,311.0 290.4,311.1 292.4,313.2 294.5,313.9 296.6,314.1 298.6,313.9 300.7,314.4 302.7,317.0 304.8,315.8 306.9,317.6 308.9,320.0 310.9,322.3 313.0,322.1 315.0,322.8 317.1,322.3 319.2,321.2 321.2,322.5 323.3,322.1 325.4,321.6 327.4,321.5 329.5,318.9 331.5,321.6 333.6,323.0 335.6,323.8 337.7,323.4 339.7,324.4 341.8,327.2 343.9,326.9 345.9,325.3 347.9,325.7 350.0,324.9" fill="none" stroke="#1a7fcc" stroke-width="1.3" stroke-linejoin="round" stroke-opacity="0.85"/>
<polyline points="239.0,300.9 241.1,301.5 243.1,302.2 245.2,303.1 247.2,301.9 249.3,303.9 251.3,305.4 253.4,304.7 255.4,304.8 257.5,305.4 259.6,305.2 261.6,307.5 263.7,308.4 265.7,307.9 267.8,307.0 269.8,306.7 271.9,307.8 273.9,308.7 276.0,311.1 278.0,311.9 280.1,311.1 282.2,312.3 284.2,312.9 286.3,314.9 288.3,314.1 290.4,315.1 292.4,317.4 294.5,315.2 296.6,313.5 298.6,315.1 300.7,317.1 302.7,317.3 304.8,316.8 306.8,321.4 308.9,321.5 310.9,322.3 313.0,321.8 315.1,323.0 317.1,324.9 319.2,323.6 321.2,323.0 323.3,325.1 325.3,325.1 327.4,323.4 329.5,324.1 331.5,324.8 333.6,324.2 335.6,322.4 337.7,323.7 339.7,322.5 341.8,322.3 343.8,323.5 345.9,323.8 348.0,323.4 350.0,324.7 352.1,324.6 354.2,324.2 356.1,324.2" fill="none" stroke="#1a7fcc" stroke-width="1.3" stroke-linejoin="round" stroke-opacity="0.85"/>
<polyline points="239.0,304.3 241.1,304.1 243.1,304.2 245.2,303.2 247.2,300.8 249.3,302.1 251.3,306.5 253.4,307.5 255.4,307.4 257.5,309.2 259.5,308.8 261.6,309.4 263.7,308.1 265.7,306.9 267.8,307.7 269.8,308.5 271.9,310.8 273.9,312.2 276.0,312.1 278.0,310.6 280.1,312.4 282.1,313.3 284.2,315.3 286.3,310.8 288.3,312.7 290.4,313.2 292.4,314.1 294.5,312.8 296.5,314.6 298.6,316.1 300.7,316.3 302.7,317.6 304.8,318.7 306.8,319.9 308.9,321.0 310.9,321.9 313.0,322.9 315.0,322.7 317.1,323.6 319.2,323.7 321.2,323.0 323.2,322.4 325.3,323.4 327.4,322.8 329.4,322.1 331.5,322.0 333.5,323.4 335.6,323.0 337.6,324.7 339.7,324.2 341.7,325.0 343.8,325.0 345.9,325.1 347.9,324.2 349.9,325.0 352.0,325.5 354.1,325.1" fill="none" stroke="#1a7fcc" stroke-width="1.3" stroke-linejoin="round" stroke-opacity="0.85"/>
<polyline points="239.0,304.4 241.1,304.6 243.1,303.9 245.2,301.4 247.2,302.1 249.3,301.5 251.3,303.5 253.4,303.9 255.4,304.6 257.5,307.4 259.5,306.0 261.6,308.9 263.6,311.8 265.7,311.6 267.8,311.8 269.8,309.7 271.9,311.8 273.9,310.5 276.0,308.8 278.0,308.6 280.1,310.4 282.1,312.2 284.2,312.4 286.2,312.7 288.3,310.9 290.4,314.3 292.4,316.3 294.5,317.3 296.5,317.0 298.6,318.2 300.7,319.7 302.7,319.7 304.7,318.0 306.8,322.3 308.9,323.7 310.9,321.9 313.0,322.6 315.0,323.9 317.1,323.7 319.1,321.6 321.2,320.1 323.2,320.3 325.3,323.1 327.3,323.7 329.4,323.0 331.4,324.1 333.5,323.0 335.6,322.2 337.6,320.9 339.7,320.8 341.7,322.3 343.8,319.6 345.8,320.7 347.9,322.9 349.9,323.6 352.0,324.7 354.1,325.0 356.1,324.5 358.1,324.4 360.2,324.5" fill="none" stroke="#1a7fcc" stroke-width="1.3" stroke-linejoin="round" stroke-opacity="0.85"/>
<polyline points="239.0,301.9 241.1,301.5 243.1,302.6 245.2,302.6 247.2,301.5 249.3,303.9 251.3,303.5 253.4,304.6 255.4,307.0 257.5,311.2 259.5,309.5 261.6,308.4 263.6,309.5 265.7,309.0 267.8,307.7 269.8,310.3 271.9,311.3 273.9,312.0 276.0,312.1 278.0,312.4 280.1,316.9 282.1,316.1 284.2,314.4 286.3,315.3 288.3,317.2 290.3,315.5 292.4,314.6 294.5,316.7 296.5,317.8 298.5,318.9 300.6,317.8 302.7,318.8 304.7,318.7 306.8,319.9 308.8,321.8 310.9,324.0 312.9,322.3 315.0,322.7 317.1,323.0 319.1,323.9 321.2,322.8 323.2,320.9 325.3,320.3 327.3,320.0 329.4,321.9 331.4,321.3 333.5,321.0 335.5,324.2 337.6,325.1 339.7,326.1 341.7,325.3 343.7,325.8 345.8,324.8 347.9,325.9 349.9,326.2 352.0,326.4 354.0,325.8 356.1,325.4 358.1,325.0" fill="none" stroke="#1a7fcc" stroke-width="1.3" stroke-linejoin="round" stroke-opacity="0.85"/>
<polyline points="239.0,304.0 241.1,304.0 243.1,303.6 245.2,304.4 247.2,304.0 249.3,304.1 251.3,302.5 253.4,303.7 255.4,305.5 257.5,308.6 259.5,308.0 261.6,310.2 263.6,309.9 265.7,309.4 267.7,310.1 269.8,311.6 271.9,311.7 273.9,311.7 276.0,312.9 278.0,314.3 280.0,313.7 282.1,314.7 284.2,315.8 286.2,313.2 288.3,315.5 290.4,314.5 292.4,316.2 294.5,316.0 296.5,318.7 298.6,316.3 300.6,317.4 302.7,317.5 304.7,317.9 306.8,319.1 308.8,321.0 310.9,323.3 312.9,322.2 315.0,323.8 317.0,323.7 319.1,325.7 321.1,323.9 323.2,325.4 325.2,324.1 327.3,323.4 329.4,325.4 331.4,325.9 333.5,326.5 335.5,327.1 337.6,323.9 339.6,326.3 341.7,325.6 343.7,326.1 345.8,325.8 347.8,325.7 349.9,325.3 351.9,324.9 354.0,325.4 356.0,325.1 358.1,325.4 360.2,324.7" fill="none" stroke="#1a7fcc" stroke-width="1.3" stroke-linejoin="round" stroke-opacity="0.85"/>
<polyline points="239.0,304.6 241.1,305.9 243.1,306.4 245.2,307.0 247.2,306.9 249.3,306.3 251.3,308.4 253.4,307.7 255.4,306.6 257.5,307.5 259.5,309.5 261.6,308.8 263.6,311.6 265.7,311.1 267.7,311.0 269.8,309.3 271.8,310.0 273.9,311.4 275.9,312.1 278.0,311.7 280.0,311.5 282.1,311.2 284.2,312.8 286.2,312.9 288.3,312.0 290.3,313.7 292.4,315.3 294.4,316.3 296.5,317.7 298.5,317.5 300.6,316.8 302.7,315.6 304.7,315.6 306.7,319.1 308.8,320.2 310.8,322.2 312.9,323.3 315.0,323.9 317.0,322.7 319.1,325.3 321.1,325.8 323.2,328.1 325.2,328.9 327.3,325.8 329.3,325.1 331.4,324.9 333.4,324.6 335.5,323.3 337.5,326.1 339.6,326.6 341.6,325.3 343.7,324.3 345.7,325.0 347.8,325.7 349.8,326.2 351.9,325.6 353.9,326.2" fill="none" stroke="#1a7fcc" stroke-width="1.3" stroke-linejoin="round" stroke-opacity="0.85"/>
<polyline points="239.0,305.0 241.1,304.9 243.1,306.4 245.2,307.2 247.2,306.3 249.3,307.2 251.3,306.5 253.4,307.8 255.4,307.4 257.5,309.0 259.5,309.2 261.6,309.9 263.6,310.3 265.7,312.1 267.7,312.8 269.8,313.1 271.8,311.9 273.9,310.8 276.0,312.1 278.0,314.7 280.1,312.9 282.1,313.6 284.2,313.1 286.2,314.4 288.3,315.3 290.3,314.2 292.4,313.0 294.4,316.5 296.5,316.9 298.5,318.8 300.6,320.4 302.6,319.1 304.7,318.9 306.7,319.2 308.7,323.0 310.8,322.4 312.9,323.2 315.0,324.1 317.0,324.4 319.0,323.1 321.1,323.1 323.1,323.1 325.2,324.2 327.2,326.0 329.3,327.7 331.4,326.6 333.4,326.3 335.5,325.1 337.5,324.4 339.6,325.2 341.6,324.4 343.6,325.0 345.7,325.3 347.7,325.3" fill="none" stroke="#1a7fcc" stroke-width="1.3" stroke-linejoin="round" stroke-opacity="0.85"/>
<polyline points="239.0,305.8 241.1,305.8 243.1,305.0 245.2,306.6 247.2,304.3 249.3,304.8 251.3,305.7 253.4,307.2 255.4,306.7 257.5,307.6 259.5,308.4 261.6,311.2 263.6,311.9 265.7,310.9 267.7,311.6 269.8,314.6 271.8,313.8 273.9,313.2 275.9,313.0 278.0,312.6 280.0,313.2 282.1,314.0 284.1,316.5 286.2,317.4 288.3,316.5 290.3,317.3 292.3,315.5 294.4,315.8 296.4,316.5 298.5,317.3 300.5,317.3 302.6,318.4 304.6,318.3 306.7,321.0 308.8,323.4 310.8,323.7 312.8,325.2 314.9,325.7 316.9,325.7 319.0,323.4 321.1,324.8 323.1,325.5 325.2,326.4 327.2,324.7 329.3,323.4 331.3,323.6 333.4,325.0 335.4,323.5 337.5,324.3 339.5,324.8 341.6,326.9 343.7,325.6 345.7,326.2 347.7,326.1 349.8,325.3 351.8,325.7 353.9,325.4 356.0,325.0 358.0,324.0" fill="none" stroke="#1a7fcc" stroke-width="1.3" stroke-linejoin="round" stroke-opacity="0.85"/>
<polyline points="239.0,305.4 241.1,305.0 243.1,305.5 245.2,306.9 247.2,303.1 249.3,303.9 251.3,305.4 253.4,307.3 255.4,309.2 257.5,308.0 259.5,310.0 261.6,309.5 263.6,308.5 265.7,311.9 267.7,310.8 269.8,311.9 271.8,312.6 273.9,314.1 275.9,315.0 278.0,316.4 280.0,315.7 282.1,314.6 284.1,316.4 286.2,317.4 288.2,317.6 290.3,317.9 292.3,317.1 294.4,316.8 296.4,317.7 298.5,317.8 300.5,318.5 302.6,319.9 304.6,322.1 306.7,321.4 308.7,326.0 310.8,324.4 312.8,323.0 314.9,323.4 316.9,325.0 319.0,324.7 321.0,324.1 323.1,323.6 325.1,324.8 327.2,325.9 329.3,325.2 331.3,326.4 333.4,326.8 335.4,328.3 337.5,328.9 339.5,329.2 341.6,326.8 343.7,325.1 345.6,325.3 347.7,325.8 349.8,326.1 351.8,326.0 353.9,325.5 355.9,325.6 357.9,325.2 360.0,324.9" fill="none" stroke="#1a7fcc" stroke-width="1.3" stroke-linejoin="round" stroke-opacity="0.85"/>
<polyline points="239.0,304.2 241.1,303.8 243.1,306.6 245.2,308.4 247.2,307.6 249.2,307.8 251.3,308.0 253.4,310.1 255.4,308.1 257.5,310.6 259.5,310.6 261.6,313.4 263.6,312.9 265.7,311.8 267.7,311.0 269.8,311.5 271.8,311.9 273.9,312.7 275.9,311.7 278.0,311.4 280.0,313.8 282.1,314.2 284.1,318.4 286.2,318.6 288.2,318.8 290.3,317.6 292.3,315.9 294.4,315.5 296.4,317.7 298.5,319.4 300.5,320.3 302.6,317.7 304.6,321.0 306.7,322.2 308.7,325.5 310.8,324.8 312.9,323.7 314.9,323.1 316.9,322.8 319.0,326.2 321.0,326.0 323.1,324.1 325.1,322.4 327.2,323.1 329.2,324.5 331.3,324.4 333.3,324.6 335.4,325.2 337.4,325.0 339.5,325.8 341.5,324.5 343.6,324.5 345.6,325.4 347.7,326.9 349.7,327.0 351.8,326.1 353.9,326.6 355.9,325.8" fill="none" stroke="#1a7fcc" stroke-width="1.3" stroke-linejoin="round" stroke-opacity="0.85"/>
<polyline points="239.0,306.0 241.0,306.7 243.1,308.0 245.1,307.5 247.2,308.2 249.3,309.7 251.3,310.2 253.3,310.6 255.4,310.4 257.5,311.0 259.5,312.7 261.6,313.2 263.6,311.7 265.7,311.8 267.7,311.9 269.7,312.5 271.8,313.1 273.8,313.6 275.9,313.1 278.0,315.9 280.0,315.5 282.0,317.3 284.1,317.1 286.2,316.6 288.2,316.4 290.3,316.1 292.3,316.1 294.3,318.2 296.4,317.6 298.5,319.6 300.5,320.5 302.6,320.6 304.6,320.4 306.6,321.8 308.7,322.2 310.7,324.7 312.8,326.5 314.8,326.0 316.9,326.3 319.0,326.1 321.0,327.3 323.1,330.1 325.1,327.0 327.1,325.1 329.3,324.7 331.3,324.0 333.3,325.0 335.4,324.5 337.4,325.7 339.4,327.4 341.5,324.8 343.5,323.7 345.6,325.6 347.7,325.5 349.7,325.6 351.8,325.9 353.8,326.6 355.8,325.7 357.9,325.0 359.9,324.2" fill="none" stroke="#1a7fcc" stroke-width="1.3" stroke-linejoin="round" stroke-opacity="0.85"/>
<polyline points="239.0,306.0 241.1,307.0 243.1,307.2 245.1,306.8 247.2,308.2 249.3,307.2 251.3,309.9 253.3,310.0 255.4,310.3 257.4,310.1 259.5,310.7 261.5,312.2 263.6,311.5 265.6,310.7 267.7,310.4 269.7,311.4 271.8,314.1 273.8,314.0 275.9,314.0 278.0,314.8 280.0,316.5 282.0,315.3 284.1,314.7 286.1,315.8 288.2,316.6 290.2,319.2 292.3,318.9 294.3,321.5 296.4,321.3 298.4,318.3 300.5,317.2 302.6,318.7 304.6,318.3 306.6,323.1 308.7,325.2 310.7,325.6 312.8,326.8 314.9,326.6 316.9,326.8 319.0,326.5 321.0,327.5 323.0,327.4 325.1,328.2 327.1,328.3 329.2,326.8 331.3,324.7 333.3,324.2 335.3,327.6 337.4,325.4 339.4,326.6 341.4,326.8 343.5,325.8 345.5,325.7" fill="none" stroke="#1a7fcc" stroke-width="1.3" stroke-linejoin="round" stroke-opacity="0.85"/>
<polyline points="239.0,306.7 241.1,308.0 243.1,307.4 245.1,306.7 247.2,306.1 249.2,307.8 251.3,310.9 253.3,308.4 255.4,308.8 257.4,308.8 259.5,311.0 261.6,311.0 263.6,314.4 265.6,312.0 267.7,312.1 269.7,312.1 271.8,312.9 273.8,314.3 275.9,313.9 277.9,313.9 280.0,312.9 282.0,315.8 284.1,318.1 286.1,319.5 288.2,320.3 290.2,317.8 292.3,319.9 294.3,317.8 296.4,315.0 298.4,318.1 300.5,317.5 302.5,321.4 304.6,322.6 306.6,322.1 308.7,323.2 310.7,325.4 312.8,325.5 314.8,322.6 316.9,324.4 318.9,327.0 321.0,328.1 323.0,327.4 325.1,327.9 327.1,328.4 329.2,328.6 331.2,326.1 333.3,325.0 335.3,323.3 337.3,326.1 339.5,325.5 341.5,326.5 343.5,325.7 345.6,325.9 347.7,326.3 349.7,327.5" fill="none" stroke="#1a7fcc" stroke-width="1.3" stroke-linejoin="round" stroke-opacity="0.85"/>
<polyline points="239.0,304.7 241.0,306.5 243.1,306.8 245.1,307.5 247.2,310.8 249.2,310.2 251.3,308.8 253.3,310.0 255.4,311.6 257.4,311.0 259.5,312.7 261.5,311.8 263.6,310.9 265.6,311.5 267.7,312.2 269.7,313.1 271.8,314.5 273.8,313.2 275.9,313.4 277.9,317.0 280.0,314.7 282.0,315.5 284.1,317.8 286.1,317.1 288.2,317.9 290.2,317.9 292.3,319.3 294.3,319.1 296.4,320.1 298.4,322.9 300.4,321.1 302.5,320.3 304.5,318.6 306.6,319.6 308.7,322.8 310.7,324.3 312.8,325.1 314.8,324.3 316.9,325.6 318.9,327.6 320.9,326.7 323.0,327.8 325.0,326.2 327.1,327.0 329.1,328.0 331.2,327.5 333.3,327.5 335.3,327.6 337.3,327.5 339.4,326.7 341.4,326.2 343.5,326.8 345.5,324.4" fill="none" stroke="#1a7fcc" stroke-width="1.3" stroke-linejoin="round" stroke-opacity="0.85"/>
</g>
<g clip-path="url(#ca2)">
<polyline points="425.6,243.7 430.9,245.7" fill="none" stroke="#f5a623" stroke-width="1.2" stroke-linejoin="round" />
<polyline points="425.6,243.7 430.9,245.5" fill="none" stroke="#f5a623" stroke-width="1.2" stroke-linejoin="round" />
<polyline points="425.6,243.7 430.9,245.8" fill="none" stroke="#f5a623" stroke-width="1.2" stroke-linejoin="round" />
<polyline points="425.6,243.7 430.9,246.0" fill="none" stroke="#f5a623" stroke-width="1.2" stroke-linejoin="round" />
<polyline points="425.6,243.7 430.9,245.8" fill="none" stroke="#f5a623" stroke-width="1.2" stroke-linejoin="round" />
<polyline points="425.6,243.7 430.9,246.1" fill="none" stroke="#f5a623" stroke-width="1.2" stroke-linejoin="round" />
<polyline points="425.6,243.7 430.9,246.0" fill="none" stroke="#f5a623" stroke-width="1.2" stroke-linejoin="round" />
<polyline points="425.6,243.7 430.9,246.7" fill="none" stroke="#f5a623" stroke-width="1.2" stroke-linejoin="round" />
<polyline points="425.6,243.7 430.9,246.7" fill="none" stroke="#f5a623" stroke-width="1.2" stroke-linejoin="round" />
<polyline points="425.6,243.7 430.9,246.6" fill="none" stroke="#f5a623" stroke-width="1.2" stroke-linejoin="round" />
<polyline points="425.6,243.7 430.9,247.1" fill="none" stroke="#f5a623" stroke-width="1.2" stroke-linejoin="round" />
<polyline points="425.6,243.7 430.9,246.6" fill="none" stroke="#f5a623" stroke-width="1.2" stroke-linejoin="round" />
<polyline points="425.6,243.7 430.9,247.3" fill="none" stroke="#f5a623" stroke-width="1.2" stroke-linejoin="round" />
<polyline points="425.6,243.7 430.9,246.8" fill="none" stroke="#f5a623" stroke-width="1.2" stroke-linejoin="round" />
<polyline points="425.6,243.7 430.9,248.0" fill="none" stroke="#f5a623" stroke-width="1.2" stroke-linejoin="round" />
<polyline points="425.6,243.7 430.9,247.5" fill="none" stroke="#f5a623" stroke-width="1.2" stroke-linejoin="round" />
<polyline points="425.6,243.7 430.9,247.7" fill="none" stroke="#f5a623" stroke-width="1.2" stroke-linejoin="round" />
<polyline points="425.6,243.7 430.9,247.8" fill="none" stroke="#f5a623" stroke-width="1.2" stroke-linejoin="round" />
<polyline points="425.6,243.7 430.9,248.0" fill="none" stroke="#f5a623" stroke-width="1.2" stroke-linejoin="round" />
<polyline points="425.6,243.7 430.9,248.2" fill="none" stroke="#f5a623" stroke-width="1.2" stroke-linejoin="round" />
<polyline points="425.6,243.7 430.9,247.9" fill="none" stroke="#f5a623" stroke-width="1.2" stroke-linejoin="round" />
<polyline points="425.6,243.7 430.9,248.0" fill="none" stroke="#f5a623" stroke-width="1.2" stroke-linejoin="round" />
<polyline points="425.6,243.7 430.9,248.4" fill="none" stroke="#f5a623" stroke-width="1.2" stroke-linejoin="round" />
<polyline points="425.6,243.7 430.9,248.2" fill="none" stroke="#f5a623" stroke-width="1.2" stroke-linejoin="round" />
<polyline points="425.6,243.7 430.9,248.3" fill="none" stroke="#f5a623" stroke-width="1.2" stroke-linejoin="round" />
<polyline points="425.6,243.7 430.9,248.7" fill="none" stroke="#f5a623" stroke-width="1.2" stroke-linejoin="round" />
<polyline points="425.6,243.7 430.9,249.0" fill="none" stroke="#f5a623" stroke-width="1.2" stroke-linejoin="round" />
<polyline points="425.6,243.7 430.9,248.8" fill="none" stroke="#f5a623" stroke-width="1.2" stroke-linejoin="round" />
<polyline points="425.6,243.7 430.9,249.0" fill="none" stroke="#f5a623" stroke-width="1.2" stroke-linejoin="round" />
<polyline points="425.6,243.7 430.9,248.7" fill="none" stroke="#f5a623" stroke-width="1.2" stroke-linejoin="round" />
<polyline points="425.6,243.7 430.9,249.3" fill="none" stroke="#f5a623" stroke-width="1.2" stroke-linejoin="round" />
<polyline points="425.6,243.7 430.9,249.3" fill="none" stroke="#f5a623" stroke-width="1.2" stroke-linejoin="round" />
<polyline points="425.6,243.7 430.9,249.5" fill="none" stroke="#f5a623" stroke-width="1.2" stroke-linejoin="round" />
<polyline points="425.6,243.7 430.9,249.6" fill="none" stroke="#f5a623" stroke-width="1.2" stroke-linejoin="round" />
<polyline points="425.6,243.7 430.9,249.4" fill="none" stroke="#f5a623" stroke-width="1.2" stroke-linejoin="round" />
<polyline points="425.6,243.7 430.9,249.8" fill="none" stroke="#f5a623" stroke-width="1.2" stroke-linejoin="round" />
<polyline points="430.9,245.7 432.5,246.6 434.1,247.5 435.7,248.3 437.3,248.3 438.9,248.6 440.5,249.1 442.1,249.7 443.8,249.8 445.3,250.6 446.9,251.3 448.6,252.2 450.0,252.7 451.8,253.4 453.5,253.5 454.7,253.8 456.6,253.9 458.3,254.0 460.0,254.2 461.5,254.1 463.2,254.6 464.3,255.1 465.5,255.5 467.6,255.4 469.4,255.2 470.9,255.5 472.1,255.8 473.8,255.8 475.7,256.3 477.8,256.5 479.4,257.3 480.9,257.2 482.0,257.8 484.3,258.0 485.9,258.6 486.8,259.8 489.2,260.3 490.8,260.8 491.8,260.4 493.9,260.3 495.1,260.5 496.0,261.3 498.9,260.9 500.5,261.3 500.6,261.9 503.7,261.8 504.6,262.5 505.9,262.8 508.4,263.2 509.2,263.9 510.8,264.5 513.4,264.6 514.1,265.0 516.7,265.1 517.8,265.4 519.0,266.1 520.8,266.4 522.8,267.0 524.4,267.6 525.6,268.1 526.5,268.9" fill="none" stroke="#1a7fcc" stroke-width="1.2" stroke-linejoin="round" stroke-opacity="0.8"/>
<polyline points="430.9,245.5 432.5,246.2 434.1,247.1 435.7,248.4 437.3,248.3 438.8,248.9 440.3,249.4 442.1,250.3 443.6,251.0 445.2,251.0 446.9,252.0 448.5,252.1 450.0,252.6 451.4,253.1 453.3,253.2 454.6,253.0 456.5,253.9 457.9,253.9 459.2,254.2 461.1,254.0 462.6,254.0 464.1,254.7 466.4,254.6 467.0,255.1 469.3,255.1 471.3,255.3 471.9,256.2 473.7,256.4 475.4,256.6 476.4,257.0 478.8,256.7 480.3,257.0 481.6,257.6 483.0,257.9 485.0,258.8 487.5,259.1 488.8,259.8 489.5,259.9 491.3,260.1 493.1,260.1 493.9,260.6 497.0,260.6 497.9,261.3 498.3,261.8 501.5,262.4 502.2,262.5 504.1,263.0 505.1,263.7 506.7,264.3 509.3,264.3 511.2,264.5 511.8,264.7 513.5,264.8 515.5,265.2 516.0,265.5 517.3,266.0 519.5,266.7 521.8,267.2 522.3,267.8 525.2,268.3 525.2,268.8" fill="none" stroke="#1a7fcc" stroke-width="1.2" stroke-linejoin="round" stroke-opacity="0.8"/>
<polyline points="430.9,245.8 432.5,246.6 434.0,247.2 435.6,248.0 437.2,248.7 438.8,248.7 440.2,249.2 441.9,249.7 443.5,250.8 444.7,250.8 446.7,251.2 448.1,252.0 449.6,253.1 451.3,253.7 453.2,253.7 454.2,253.9 456.1,254.1 457.5,254.5 459.1,254.3 460.7,254.2 462.7,254.2 463.4,254.6 465.1,255.2 466.9,254.8 468.5,255.5 470.8,255.6 471.8,255.9 474.2,255.8 474.9,256.4 476.0,256.9 477.7,257.4 479.7,256.9 481.2,257.4 482.9,258.2 484.5,258.4 486.0,259.1 487.4,259.8 487.8,260.0 490.5,260.5 492.8,260.8 494.1,261.1 496.3,261.2 498.3,261.3 498.5,262.0 498.9,262.8 500.9,263.1 502.8,263.1 503.6,264.0 506.1,264.2 507.8,264.3 508.6,264.5 510.9,264.9 511.5,265.2 514.1,265.4 515.8,265.7 518.1,266.1 518.7,266.7 519.8,267.2 521.6,267.7 523.0,268.3 523.8,269.0" fill="none" stroke="#1a7fcc" stroke-width="1.2" stroke-linejoin="round" stroke-opacity="0.8"/>
<polyline points="430.9,246.0 432.5,245.9 434.0,247.2 435.5,248.2 437.0,248.5 438.8,249.2 440.2,249.7 441.9,249.9 443.4,250.9 444.9,251.4 446.5,251.6 448.3,252.3 449.5,252.7 451.2,253.4 452.8,253.9 454.1,254.2 455.7,254.2 457.3,254.4 458.6,255.1 460.5,254.8 462.1,254.9 463.4,255.3 464.6,255.7 466.5,255.9 468.7,256.0 469.7,256.3 471.6,256.0 473.2,256.3 473.7,256.5 476.4,257.2 477.3,257.5 478.2,257.4 480.4,257.2 482.6,257.9 484.3,258.1 485.8,258.6 487.5,259.7 488.5,260.1 489.3,260.2 491.0,260.4 493.4,260.3 494.1,260.9 496.3,261.1 497.5,261.6 499.7,261.8 500.2,262.4 501.7,262.7 503.8,262.9 506.0,263.2 506.3,264.1 508.3,264.2 511.1,264.2 511.3,264.9 513.4,265.2 514.0,265.6 516.4,266.1 516.8,266.7 519.5,267.3 519.9,267.9 522.9,268.4 522.9,268.9" fill="none" stroke="#1a7fcc" stroke-width="1.2" stroke-linejoin="round" stroke-opacity="0.8"/>
<polyline points="430.9,245.8 432.4,246.4 434.0,247.3 435.5,247.9 437.1,248.0 438.6,248.8 440.2,249.9 441.7,250.2 443.2,250.2 444.6,251.2 446.5,251.0 448.2,252.1 449.5,252.5 451.0,253.4 452.5,253.3 454.2,253.9 455.0,254.1 457.2,254.4 458.8,254.9 460.2,254.8 461.8,254.7 463.4,255.0 464.5,255.2 466.2,255.6 468.1,255.9 468.7,256.5 471.7,255.9 472.6,256.9 474.5,256.8 475.3,257.4 476.6,257.5 477.5,258.1 479.5,258.2 480.8,258.8 483.6,258.9 485.2,259.7 485.5,260.1 487.5,260.3 488.8,260.3 490.9,260.5 491.8,260.8 494.1,261.0 495.6,261.2 496.7,261.8 498.3,262.3 500.5,262.8 501.3,262.9 504.8,263.1 505.4,263.6 507.0,264.1 508.4,264.5 510.0,264.5 510.6,265.0 512.5,265.5 513.4,265.6 515.0,266.2 516.7,266.7 519.2,267.2 520.9,267.7 522.2,268.2 523.6,268.8" fill="none" stroke="#1a7fcc" stroke-width="1.2" stroke-linejoin="round" stroke-opacity="0.8"/>
<polyline points="430.9,246.1 432.4,247.0 433.9,247.7 435.4,248.4 437.0,248.9 438.5,249.2 440.0,250.0 441.5,250.7 442.8,250.8 444.5,250.9 446.0,251.7 447.3,252.1 449.1,251.9 450.5,252.7 451.9,253.4 453.9,253.9 455.1,254.3 456.7,254.4 458.2,254.6 459.7,254.6 461.0,254.8 462.8,255.1 463.9,255.5 465.7,255.7 467.4,255.9 469.3,255.7 470.8,256.2 472.2,256.6 473.4,257.2 475.6,257.4 476.2,257.3 478.4,257.5 479.4,257.9 480.7,258.8 482.4,259.5 484.1,259.6 486.0,260.2 486.9,260.6 488.1,260.9 489.1,261.4 491.6,261.1 493.0,261.5 494.0,261.6 495.6,261.8 497.4,262.1 498.9,262.7 500.4,263.4 502.0,263.2 503.4,264.1 506.5,264.1 506.7,264.7 506.5,265.3 510.6,265.3 511.2,265.4 513.8,265.5 513.7,266.3 514.6,266.9 516.8,267.4 519.2,267.9 521.0,268.5 520.8,269.0" fill="none" stroke="#1a7fcc" stroke-width="1.2" stroke-linejoin="round" stroke-opacity="0.8"/>
<polyline points="430.9,246.0 432.4,247.0 433.9,247.5 435.4,248.1 436.9,248.2 438.4,249.1 439.9,250.0 441.5,250.3 442.8,250.7 444.4,251.0 446.2,251.2 447.1,252.3 448.6,252.8 450.1,253.7 451.6,254.4 453.5,254.1 454.9,254.3 456.2,254.5 457.7,254.9 458.9,254.6 460.7,255.0 462.0,255.6 463.6,255.6 465.6,256.0 466.6,256.3 469.0,256.4 470.0,256.9 471.3,257.0 472.6,257.1 473.9,257.1 475.0,257.2 477.4,257.6 478.8,257.9 479.7,257.8 482.1,258.4 482.7,259.3 483.6,259.8 486.7,260.4 487.3,260.6 489.1,261.1 490.6,261.4 492.1,261.5 494.5,261.6 495.1,262.0 496.7,262.7 498.4,262.8 499.7,263.4 501.4,263.5 502.5,263.5 503.3,264.0 506.0,264.2 507.5,264.7 508.4,265.4 510.0,265.7 512.2,266.0 512.4,266.6 513.4,267.1 517.6,267.4 517.5,268.0 517.5,268.4 521.4,268.8" fill="none" stroke="#1a7fcc" stroke-width="1.2" stroke-linejoin="round" stroke-opacity="0.8"/>
<polyline points="430.9,246.7 432.4,247.5 433.9,247.9 435.3,248.5 436.8,249.1 438.4,249.2 439.8,250.1 441.5,250.3 442.9,250.6 444.4,251.2 445.8,251.8 447.3,252.1 448.9,253.2 450.2,253.6 451.5,253.5 453.2,253.9 454.8,254.1 456.0,254.2 457.9,254.3 459.6,254.8 460.5,255.2 462.1,255.4 463.0,256.0 465.3,256.0 466.8,256.1 468.2,256.8 469.2,257.2 470.7,257.4 472.5,257.7 473.7,257.6 475.3,257.7 476.5,257.8 478.9,258.2 480.1,258.7 481.4,259.4 483.1,259.8 485.4,260.0 486.6,260.4 487.2,260.6 488.2,260.6 490.8,261.1 491.1,261.4 493.2,262.0 494.9,262.2 496.8,262.9 496.7,263.4 499.6,263.4 500.7,264.1 502.7,264.3 504.5,264.1 505.8,265.0 507.5,264.9 508.4,265.2 510.4,265.4 510.7,266.1 511.7,266.5 515.1,266.9 516.6,267.3 517.0,267.9 518.6,268.5 521.5,268.9" fill="none" stroke="#1a7fcc" stroke-width="1.2" stroke-linejoin="round" stroke-opacity="0.8"/>
<polyline points="430.9,246.7 432.4,247.4 433.8,247.9 435.3,248.2 436.7,248.7 438.2,249.3 439.8,250.3 441.2,250.7 442.3,251.3 444.0,251.9 445.6,252.1 446.9,252.5 448.5,252.9 449.8,253.5 451.2,253.6 452.8,254.0 454.3,254.4 455.7,254.5 457.0,255.3 458.8,255.1 460.1,255.2 461.9,255.7 463.0,256.3 463.8,256.7 466.1,256.3 466.9,256.4 468.7,256.5 470.6,256.8 472.1,257.0 473.4,257.6 475.3,257.8 475.9,258.4 477.7,258.4 479.4,258.8 480.2,260.0 482.3,260.3 483.9,260.6 484.8,261.0 486.2,261.0 487.5,261.2 489.1,261.4 490.0,261.6 492.3,261.6 493.6,262.2 494.8,262.9 496.5,262.8 497.2,263.3 500.1,263.9 501.5,264.3 501.0,264.9 504.6,265.0 504.4,265.4 506.6,265.9 507.0,266.2 509.8,266.3 511.7,266.6 514.6,267.1 514.0,267.5 514.4,267.9 517.0,268.3 517.2,268.9" fill="none" stroke="#1a7fcc" stroke-width="1.2" stroke-linejoin="round" stroke-opacity="0.8"/>
<polyline points="430.9,246.6 432.4,247.2 433.8,248.1 435.2,248.6 436.6,249.1 438.2,249.8 439.5,250.7 441.1,251.0 442.5,251.1 443.9,250.8 445.6,251.3 446.7,251.9 448.3,252.8 449.6,253.4 451.1,253.6 452.6,253.9 453.7,254.2 455.6,254.7 456.9,255.1 458.4,255.5 460.3,256.0 461.1,255.9 462.7,255.9 464.0,256.7 465.9,256.7 467.1,256.9 468.6,257.2 470.4,257.8 471.3,258.0 473.2,257.7 474.2,258.4 475.0,258.2 476.6,258.8 479.0,259.0 480.5,259.4 480.9,259.6 484.1,260.6 485.2,260.4 485.8,260.8 486.3,261.6 488.8,261.5 489.7,261.9 491.7,262.1 492.9,262.3 494.3,262.7 496.0,263.7 497.4,264.4 499.3,264.6 499.9,264.3 501.8,264.2 504.4,264.5 505.6,264.9 505.5,266.0 508.6,266.1 508.8,266.0 510.5,266.6 513.4,267.0 514.0,267.6 514.8,268.1 515.5,268.5 516.4,268.9" fill="none" stroke="#1a7fcc" stroke-width="1.2" stroke-linejoin="round" stroke-opacity="0.8"/>
<polyline points="430.9,247.1 432.3,247.8 433.8,248.0 435.2,248.3 436.6,248.8 438.0,249.9 439.4,250.5 440.8,250.6 442.3,251.4 443.9,251.6 445.3,252.4 446.8,252.7 448.2,253.2 449.8,253.6 451.1,254.0 452.3,254.3 453.6,254.1 455.0,254.5 456.5,254.4 457.5,255.0 459.7,255.4 460.9,256.0 462.3,256.3 464.0,256.5 465.2,256.2 466.9,256.4 467.9,256.8 470.1,256.9 470.2,257.1 472.3,257.1 473.6,257.9 475.1,258.4 476.4,258.3 477.9,259.0 479.3,259.4 480.3,260.2 483.5,260.5 483.4,261.5 484.6,261.3 486.0,260.8 487.5,261.5 490.2,261.8 490.9,261.7 492.3,262.6 494.1,263.2 494.7,263.4 495.5,264.1 498.4,264.7 498.8,264.1 500.3,264.6 502.4,264.7 503.3,265.2 504.6,265.6 506.5,265.9 507.7,266.1 509.3,266.6 510.0,267.2 511.3,267.6 514.3,268.1 514.7,268.6 515.8,269.0" fill="none" stroke="#1a7fcc" stroke-width="1.2" stroke-linejoin="round" stroke-opacity="0.8"/>
<polyline points="430.9,246.6 432.3,247.6 433.7,248.0 435.1,248.5 436.5,249.0 438.0,249.7 439.4,250.1 440.8,250.6 442.0,251.1 443.5,251.6 444.9,252.3 446.0,252.8 447.7,253.2 448.9,253.4 450.7,253.6 451.7,254.1 453.0,254.3 454.8,254.5 456.2,254.5 457.2,255.0 458.9,255.8 460.7,255.6 461.4,255.8 463.3,256.0 464.5,256.2 465.4,256.8 467.5,257.2 468.2,257.3 470.9,257.3 471.8,258.0 473.0,258.7 474.0,259.0 476.0,259.7 476.9,259.6 479.2,259.7 480.0,260.2 481.1,260.6 482.6,260.5 484.1,260.6 485.9,260.7 487.7,260.7 488.9,261.4 490.2,261.8 492.8,262.4 493.2,263.2 494.5,263.2 495.7,264.0 497.4,264.5 497.7,264.7 498.4,265.1 502.7,264.8 502.7,264.9 503.6,265.6 505.5,266.0 506.1,266.5 508.3,267.1 509.3,267.2 510.9,267.7 512.7,268.1 514.0,268.5 516.4,269.0" fill="none" stroke="#1a7fcc" stroke-width="1.2" stroke-linejoin="round" stroke-opacity="0.8"/>
<polyline points="430.9,247.3 432.3,247.7 433.7,248.2 435.1,249.0 436.4,249.7 437.7,249.7 439.1,250.2 440.6,251.2 442.1,251.6 443.3,252.2 444.8,252.6 446.2,252.9 447.2,253.0 448.8,253.4 450.2,253.8 451.6,254.2 453.0,254.2 454.3,254.3 456.1,254.6 456.5,255.1 458.4,255.6 459.9,256.0 461.1,256.4 462.4,256.0 463.8,256.2 465.1,256.8 467.1,256.7 468.2,257.1 469.8,258.0 471.4,258.0 472.0,258.4 474.3,258.4 475.2,258.9 477.3,259.1 478.1,259.4 479.2,259.8 480.8,260.7 481.9,261.0 483.6,261.4 485.8,261.3 486.4,261.8 489.0,262.0 489.2,262.2 489.0,262.8 492.1,262.8 492.7,262.9 494.7,263.5 495.7,263.9 497.5,264.5 498.5,265.0 500.4,265.3 500.4,265.8 503.8,265.7 503.5,266.3 505.8,266.2 508.4,266.7 508.3,267.2 508.4,267.8 510.5,268.1 513.3,268.5 513.1,268.9" fill="none" stroke="#1a7fcc" stroke-width="1.2" stroke-linejoin="round" stroke-opacity="0.8"/>
<polyline points="430.9,246.8 432.3,247.7 433.7,248.3 435.0,248.9 436.4,249.6 437.7,250.5 439.1,251.0 440.5,251.5 441.9,251.6 443.2,251.8 444.7,252.3 445.9,253.1 447.5,253.4 448.8,253.7 450.7,254.1 451.6,254.4 452.8,254.1 454.3,254.7 455.6,254.8 457.2,254.8 458.3,255.3 459.4,255.3 461.1,256.1 462.5,256.2 464.0,256.4 465.3,256.8 466.7,257.1 467.8,257.3 469.4,257.7 470.6,258.2 472.5,258.5 474.0,258.4 474.5,259.0 476.1,259.1 478.1,259.7 479.0,260.0 480.4,260.7 481.4,260.8 482.9,260.9 484.2,261.3 485.8,261.8 486.4,262.0 489.1,262.0 490.2,262.7 490.9,262.9 492.5,263.2 493.0,264.0 495.1,264.0 496.4,264.5 497.9,264.7 499.9,264.9 501.0,265.5 501.1,266.0 503.3,266.2 506.0,266.2 506.1,266.9 507.8,267.3 508.6,267.8 510.3,268.1 511.6,268.6 514.5,269.1" fill="none" stroke="#1a7fcc" stroke-width="1.2" stroke-linejoin="round" stroke-opacity="0.8"/>
<polyline points="430.9,248.0 432.3,248.3 433.6,248.7 435.0,249.2 436.3,249.1 437.6,249.7 439.0,250.6 440.3,250.7 441.6,251.4 442.7,251.7 444.4,252.4 445.7,252.5 447.0,252.8 448.3,253.8 449.8,254.3 451.0,254.8 452.3,254.8 453.8,254.7 455.6,255.2 456.7,255.3 458.1,255.6 458.9,255.9 460.3,256.5 461.2,257.1 463.4,257.0 464.2,257.8 466.4,257.6 467.3,257.9 468.5,258.3 470.4,258.1 471.4,258.6 472.8,259.0 473.6,259.2 475.2,259.5 476.7,260.0 477.6,260.0 480.1,260.5 480.4,261.1 481.1,261.6 483.2,261.7 484.1,262.0 486.0,262.3 487.8,261.9 489.3,262.7 490.3,263.7 491.8,263.6 492.2,264.3 493.9,264.6 495.7,265.4 497.3,265.4 497.6,265.8 499.6,266.1 500.9,266.7 502.7,266.7 503.5,266.8 505.0,267.2 506.5,267.5 507.5,267.9 508.6,268.3 510.5,268.6 511.1,268.9" fill="none" stroke="#1a7fcc" stroke-width="1.2" stroke-linejoin="round" stroke-opacity="0.8"/>
<polyline points="430.9,247.5 432.2,247.8 433.6,248.4 434.9,248.9 436.1,249.7 437.5,250.7 438.9,250.8 440.2,251.4 441.6,251.8 442.7,252.2 444.2,252.5 445.3,253.0 446.9,253.5 448.0,253.9 449.4,253.9 450.8,254.3 452.1,254.7 453.4,255.1 454.3,255.4 456.1,255.8 457.4,255.8 459.0,256.1 460.1,256.4 461.8,256.7 463.0,256.8 463.8,257.1 465.0,257.3 466.3,258.3 468.2,258.0 468.7,258.5 471.8,258.6 472.0,258.8 473.5,259.3 474.7,260.0 475.8,260.5 477.5,260.7 478.9,260.9 480.0,261.4 481.7,261.4 483.4,261.7 482.7,262.2 485.5,262.3 487.7,262.7 487.4,263.4 490.3,263.5 490.7,263.5 491.9,263.8 492.5,264.8 494.4,264.7 496.9,265.0 496.9,265.4 499.3,265.8 499.3,266.1 501.5,266.5 501.9,266.7 504.6,267.0 505.8,267.6 507.8,267.8 507.9,268.2 509.6,268.5 510.1,268.8" fill="none" stroke="#1a7fcc" stroke-width="1.2" stroke-linejoin="round" stroke-opacity="0.8"/>
<polyline points="430.9,247.7 432.2,248.0 433.5,248.9 434.9,249.1 436.1,249.5 437.5,249.9 438.7,250.8 440.2,251.5 441.3,251.4 442.9,251.7 443.8,252.7 445.3,253.3 446.5,253.3 448.0,253.9 449.6,254.1 450.5,254.4 451.7,254.8 453.2,254.9 454.6,255.0 456.2,255.2 457.1,255.5 458.3,255.8 459.9,256.2 460.9,256.6 462.2,257.4 464.0,257.1 465.4,257.1 466.8,257.8 467.9,258.1 468.5,258.4 470.7,258.5 471.7,259.1 472.5,259.9 474.1,260.1 475.9,260.0 477.3,260.3 479.3,260.6 479.2,261.2 481.2,261.5 483.0,261.3 484.3,261.7 484.6,262.2 485.7,262.8 487.0,263.1 488.6,263.1 490.4,263.3 491.2,263.7 492.3,264.3 495.5,264.7 495.8,265.0 497.2,265.3 498.7,265.8 500.3,265.9 500.4,266.6 501.9,266.9 502.0,267.2 505.0,267.5 507.2,267.9 507.0,268.3 507.0,268.7 509.6,269.2" fill="none" stroke="#1a7fcc" stroke-width="1.2" stroke-linejoin="round" stroke-opacity="0.8"/>
<polyline points="430.9,247.8 432.2,248.1 433.5,248.3 434.8,248.8 436.1,249.5 437.5,250.3 438.5,251.1 439.9,251.3 441.3,251.9 442.5,252.2 443.8,252.8 445.1,253.1 446.2,254.0 447.5,254.1 449.0,254.2 450.3,254.4 451.7,254.9 452.7,255.5 454.6,255.5 455.3,256.1 456.8,256.3 458.2,256.3 458.9,256.9 460.0,257.2 461.8,257.6 462.7,257.7 465.0,257.6 465.8,258.1 467.1,258.1 468.3,258.5 469.6,259.4 470.4,259.4 471.8,259.6 473.5,260.0 474.5,260.5 475.8,260.6 477.5,261.0 479.6,261.1 478.6,261.9 480.7,262.0 482.6,262.2 484.3,262.4 486.7,262.8 486.2,263.8 487.7,264.2 489.1,263.9 489.5,264.0 493.5,264.6 493.8,265.1 494.9,265.3 494.5,265.9 497.1,266.0 498.2,266.7 500.0,266.7 501.8,267.0 501.1,267.3 503.5,267.6 503.3,268.1 505.1,268.4 507.6,268.7 508.2,269.0" fill="none" stroke="#1a7fcc" stroke-width="1.2" stroke-linejoin="round" stroke-opacity="0.8"/>
<polyline points="430.9,248.0 432.2,248.5 433.4,249.2 434.7,249.6 436.0,249.9 437.2,250.7 438.4,251.7 439.8,251.8 441.2,252.1 442.5,252.5 443.4,253.4 444.9,253.4 445.9,254.2 447.5,254.2 448.7,254.4 449.9,254.5 451.6,254.5 452.4,255.0 453.1,255.4 454.8,256.0 456.4,256.3 457.6,256.6 458.6,257.0 460.6,257.4 460.8,257.5 462.6,257.6 463.8,258.5 465.1,258.5 466.8,258.4 466.8,258.3 468.4,258.8 470.1,259.2 471.3,259.6 472.7,260.3 473.9,260.5 474.6,260.8 477.1,261.4 477.4,261.9 478.5,262.0 480.1,262.4 481.3,262.6 482.6,262.6 483.0,262.8 485.4,262.7 486.6,263.1 486.6,264.5 490.0,264.4 489.9,264.9 492.7,265.0 492.6,265.6 494.0,266.0 496.6,266.1 497.6,266.3 497.2,267.0 498.3,267.0 499.7,267.5 500.9,267.8 503.5,268.1 503.6,268.5 505.5,268.8 507.0,269.1" fill="none" stroke="#1a7fcc" stroke-width="1.2" stroke-linejoin="round" stroke-opacity="0.8"/>
<polyline points="430.9,248.2 432.1,248.8 433.4,248.9 434.7,249.5 436.0,249.7 437.2,250.0 438.4,250.9 439.7,251.5 440.9,252.2 442.2,252.4 443.5,252.7 444.4,253.3 445.8,253.9 447.0,254.8 448.3,254.9 449.9,255.1 451.0,255.2 452.3,255.6 453.9,255.5 455.0,255.8 456.1,256.1 457.2,256.6 458.1,257.1 459.6,256.7 460.9,257.1 462.4,257.7 463.3,258.0 464.8,258.1 466.8,258.2 466.9,258.8 469.0,258.4 469.3,258.7 470.8,259.6 472.2,259.8 473.8,259.8 474.7,260.9 476.0,261.3 476.7,261.6 479.0,261.5 478.7,262.2 482.6,262.1 482.4,262.5 483.5,262.7 484.5,263.3 486.6,264.0 487.7,264.0 488.3,263.9 490.4,264.5 491.5,264.8 493.9,265.6 494.5,266.2 494.4,266.7 496.3,267.0 497.8,267.2 498.7,267.5 500.2,267.8 499.9,268.0 503.3,268.2 503.8,268.5 504.4,268.8 506.3,269.1" fill="none" stroke="#1a7fcc" stroke-width="1.2" stroke-linejoin="round" stroke-opacity="0.8"/>
<polyline points="430.9,247.9 432.1,248.3 433.4,248.9 434.6,249.1 435.8,249.6 437.1,249.9 438.2,250.6 439.5,251.9 440.7,252.1 442.2,252.5 443.2,252.9 444.4,253.0 445.7,253.4 447.0,253.8 448.5,254.6 449.3,255.0 450.8,255.1 451.8,254.9 452.6,255.2 454.2,255.9 455.7,255.9 456.9,256.4 457.7,256.9 458.9,256.6 460.3,257.0 461.2,257.3 462.8,257.8 464.8,258.2 465.8,258.7 466.7,259.1 468.1,259.6 469.8,259.9 470.4,260.1 472.2,260.3 473.0,260.6 474.6,260.5 475.2,261.0 475.9,261.9 476.6,262.4 479.4,262.6 480.0,262.8 481.4,262.7 482.7,262.8 483.5,263.1 484.8,263.8 486.9,263.9 487.2,264.4 488.3,265.1 489.3,265.2 491.2,265.3 492.9,265.8 494.4,266.3 493.9,266.6 496.0,267.1 497.7,267.2 498.7,267.6 499.3,268.0 500.5,268.3 501.2,268.7 502.9,268.9 504.0,269.1" fill="none" stroke="#1a7fcc" stroke-width="1.2" stroke-linejoin="round" stroke-opacity="0.8"/>
<polyline points="430.9,248.0 432.1,248.5 433.4,249.2 434.6,249.6 435.7,250.8 437.0,250.9 438.2,251.7 439.5,252.0 440.6,252.1 441.8,251.8 443.1,252.7 444.4,252.9 445.5,253.3 446.8,254.2 448.1,254.6 449.4,254.7 450.6,255.3 451.6,255.3 452.5,255.4 454.1,255.5 455.0,256.2 457.1,256.5 457.5,257.4 459.0,257.2 460.3,257.7 461.2,258.5 462.7,258.4 463.7,258.8 465.0,258.9 466.3,258.8 467.1,258.8 468.4,259.0 469.8,259.6 470.8,260.3 473.2,261.0 473.7,261.0 474.8,261.3 476.3,261.5 477.8,261.7 479.2,261.8 479.7,262.1 480.8,262.8 482.0,263.2 482.8,263.6 485.2,263.9 487.7,264.1 487.2,264.7 487.4,265.4 488.1,265.6 489.1,266.0 492.1,266.2 493.4,266.5 493.3,266.6 494.8,266.8 495.0,267.0 497.5,267.7 499.8,268.0 500.9,268.2 500.7,268.5 502.3,268.8 506.7,269.0" fill="none" stroke="#1a7fcc" stroke-width="1.2" stroke-linejoin="round" stroke-opacity="0.8"/>
<polyline points="430.9,248.4 432.1,248.4 433.3,248.9 434.5,249.8 435.7,250.2 436.8,250.9 438.1,251.1 439.3,251.8 440.4,252.1 441.6,252.7 442.6,253.3 444.3,252.9 445.4,253.5 446.6,254.3 447.7,254.7 448.7,254.8 449.7,255.2 451.2,255.4 452.2,255.6 453.4,255.9 454.2,256.4 455.9,256.7 457.3,256.5 458.4,256.9 459.2,257.4 461.0,257.8 461.9,258.4 462.7,258.8 464.4,258.9 465.8,259.3 467.6,259.0 468.3,259.6 469.6,259.8 470.7,260.2 471.2,260.7 473.5,260.7 473.3,261.0 474.8,261.3 477.0,261.6 476.7,262.1 478.1,262.2 480.0,262.9 480.9,263.2 482.2,263.5 484.2,263.8 484.4,264.2 486.2,264.4 487.3,264.5 489.2,264.8 489.6,265.8 490.9,266.4 491.0,266.7 493.1,266.8 493.9,267.2 495.2,267.7 496.4,268.0 497.1,268.2 499.4,268.3 500.4,268.6 500.3,269.0 502.4,269.3" fill="none" stroke="#1a7fcc" stroke-width="1.2" stroke-linejoin="round" stroke-opacity="0.8"/>
<polyline points="430.9,248.2 432.1,248.7 433.3,248.9 434.5,249.3 435.7,250.1 436.9,250.6 437.8,251.1 439.3,251.4 440.3,251.8 441.3,252.6 442.6,253.0 443.9,253.4 445.2,253.6 446.0,254.5 447.4,254.5 448.6,255.2 449.5,255.1 451.1,255.4 452.0,256.4 453.3,256.0 454.7,256.7 455.7,256.9 456.7,257.2 458.0,257.5 459.2,257.4 460.5,257.8 462.1,258.1 463.4,258.5 463.7,258.9 465.0,259.4 466.6,259.3 467.6,259.7 469.0,260.1 468.6,260.5 471.0,260.9 472.2,261.3 473.6,261.6 474.8,261.6 475.1,262.1 476.6,262.2 478.6,262.6 478.8,263.1 481.9,263.5 480.6,264.2 482.7,264.4 484.4,264.4 485.3,264.7 487.5,265.2 487.8,266.0 488.5,266.1 489.6,266.1 492.6,266.5 492.7,267.1 493.9,267.4 495.2,267.7 493.6,268.1 496.7,268.2 498.8,268.3 501.1,268.3 500.9,268.7 502.9,269.0" fill="none" stroke="#1a7fcc" stroke-width="1.2" stroke-linejoin="round" stroke-opacity="0.8"/>
<polyline points="430.9,248.3 432.0,248.5 433.2,249.0 434.4,249.8 435.5,250.2 436.7,250.2 437.8,250.8 439.0,251.8 440.3,251.9 441.5,252.6 442.7,252.8 443.9,253.3 444.9,254.1 446.2,254.1 447.2,254.3 448.2,254.7 449.4,255.3 450.8,255.5 451.5,256.1 453.4,256.2 454.1,256.5 454.9,256.8 456.7,256.7 457.4,257.2 458.7,257.3 460.0,257.6 461.2,257.9 462.4,258.4 463.4,258.7 465.0,258.7 466.3,258.8 466.6,260.0 468.1,260.3 469.9,260.8 470.8,261.1 471.2,261.7 473.1,262.0 474.0,262.2 475.3,262.0 476.5,262.3 478.1,262.5 477.5,263.0 479.8,263.3 480.4,263.6 482.7,264.0 484.0,264.6 485.3,264.8 485.8,265.5 486.6,265.6 487.8,265.6 488.1,266.2 490.2,266.4 490.0,267.0 491.8,267.0 493.1,267.3 496.0,267.5 494.5,267.9 496.8,268.3 496.7,268.6 498.7,268.9 499.1,269.2" fill="none" stroke="#1a7fcc" stroke-width="1.2" stroke-linejoin="round" stroke-opacity="0.8"/>
<polyline points="430.9,248.7 432.0,249.1 433.2,249.0 434.3,249.8 435.5,250.3 436.6,250.4 437.7,250.7 438.7,251.4 439.9,251.9 441.0,252.3 442.2,253.0 443.5,253.4 444.8,253.6 445.5,254.4 447.1,254.9 447.9,255.3 449.3,255.7 450.3,256.0 451.3,256.6 452.4,256.9 453.5,257.0 454.9,256.8 456.7,257.6 457.2,257.7 458.8,257.3 459.7,257.7 460.2,258.1 462.0,258.8 463.0,259.3 464.0,259.3 464.8,259.7 466.1,260.2 466.7,260.6 467.8,260.9 469.1,260.9 470.0,261.5 471.3,261.4 472.3,262.4 473.8,262.9 475.5,263.2 475.6,263.6 476.9,263.5 478.9,263.8 479.9,264.5 480.5,265.0 481.5,265.3 482.8,265.4 483.3,265.7 485.3,265.4 486.9,265.7 486.7,266.6 488.0,266.9 489.0,267.1 492.0,267.1 491.0,267.7 493.1,267.8 493.9,268.1 494.5,268.4 497.1,268.5 495.8,269.0 498.8,269.1" fill="none" stroke="#1a7fcc" stroke-width="1.2" stroke-linejoin="round" stroke-opacity="0.8"/>
<polyline points="430.9,249.0 432.0,249.3 433.1,250.0 434.3,250.2 435.3,250.7 436.5,251.0 437.7,251.9 438.9,252.2 439.9,252.3 441.2,252.5 442.0,252.8 443.5,253.5 444.2,253.9 445.3,254.2 446.6,254.9 447.8,255.1 448.8,255.2 449.9,255.6 451.1,256.2 452.3,256.6 453.4,256.9 454.8,257.0 455.4,257.2 456.9,257.9 458.7,258.1 459.0,258.2 459.7,258.0 461.3,258.8 462.2,259.1 463.5,259.5 464.2,260.2 466.1,260.6 466.9,260.6 468.0,260.5 469.2,260.7 470.7,261.2 471.9,261.2 472.6,261.6 473.8,262.5 474.2,263.2 475.5,263.4 477.7,263.2 476.7,263.6 478.4,263.9 480.3,264.0 481.6,264.7 481.8,265.3 483.7,265.6 484.9,265.6 485.3,266.1 488.5,266.3 489.7,266.8 490.3,267.1 489.7,267.6 492.2,267.7 493.4,267.9 493.6,268.1 495.6,268.3 494.5,268.7 497.7,268.7 497.8,269.0" fill="none" stroke="#1a7fcc" stroke-width="1.2" stroke-linejoin="round" stroke-opacity="0.8"/>
<polyline points="430.9,248.8 432.0,249.5 433.1,249.9 434.2,251.0 435.5,251.0 436.5,251.2 437.6,252.0 438.7,252.2 439.6,252.6 440.9,252.9 442.0,253.6 443.3,254.0 444.2,254.1 445.5,254.3 446.3,255.2 447.5,255.3 449.1,255.5 450.1,255.7 451.0,255.7 451.8,256.2 452.9,256.5 453.7,257.3 454.9,257.4 457.0,257.5 457.0,257.9 458.7,257.6 459.9,258.1 460.7,258.2 462.2,259.1 462.5,259.9 464.2,259.3 465.3,260.2 466.6,260.5 467.9,260.7 468.7,260.7 469.7,261.3 470.4,261.5 472.6,261.6 473.7,262.3 473.6,262.8 475.0,263.0 476.8,263.3 477.6,263.9 478.5,264.7 479.2,265.2 479.6,265.2 482.1,265.2 483.2,265.6 484.2,266.2 485.6,266.4 485.9,266.5 488.6,266.6 489.1,267.1 490.5,267.6 489.8,267.9 493.7,267.8 492.4,268.3 494.0,268.4 495.3,268.7 496.3,268.9 497.2,269.2" fill="none" stroke="#1a7fcc" stroke-width="1.2" stroke-linejoin="round" stroke-opacity="0.8"/>
<polyline points="430.9,249.0 432.0,249.3 433.1,249.8 434.1,250.8 435.2,251.0 436.3,251.4 437.4,251.9 438.5,252.3 439.4,253.0 440.5,253.5 441.5,253.8 442.8,254.3 443.8,254.6 444.9,255.1 446.0,255.1 447.1,255.1 447.8,255.9 449.6,256.0 450.4,256.1 451.4,256.7 452.7,257.0 453.6,257.1 454.7,257.8 456.0,258.0 456.5,258.7 458.0,258.8 458.9,259.7 460.1,259.6 461.4,259.5 462.4,259.6 462.6,259.7 464.3,259.9 465.5,260.3 466.7,261.1 468.3,260.9 468.3,261.0 469.7,261.7 470.8,262.4 472.0,262.7 473.2,263.2 473.8,263.4 475.7,263.8 476.5,264.4 477.8,264.4 478.1,265.1 479.0,265.2 480.7,265.8 481.3,266.1 481.7,266.2 483.8,266.6 484.5,267.3 486.5,267.5 486.6,267.6 487.8,268.1 488.7,268.0 490.5,268.3 490.9,268.6 492.5,268.6 492.8,268.8 494.7,268.9 496.5,269.1" fill="none" stroke="#1a7fcc" stroke-width="1.2" stroke-linejoin="round" stroke-opacity="0.8"/>
<polyline points="430.9,248.7 431.9,249.7 432.9,250.4 434.1,250.4 435.0,251.0 436.2,251.3 437.2,251.9 438.3,252.6 439.3,252.7 440.7,253.1 441.6,253.2 442.4,253.8 443.9,254.2 445.0,254.6 445.8,255.0 447.2,255.6 448.2,256.1 448.5,256.7 450.3,256.3 451.1,256.4 452.2,256.6 453.0,257.2 454.2,257.7 455.3,257.8 456.2,257.8 456.6,258.3 459.2,258.5 459.4,259.2 460.7,259.4 461.5,259.4 462.4,259.9 464.0,260.4 464.4,261.0 466.3,261.2 466.9,260.9 468.4,261.5 468.9,261.8 469.7,262.0 471.2,262.4 471.0,262.8 473.0,263.3 474.9,263.8 475.0,264.1 475.2,264.4 477.8,264.4 479.3,265.2 479.8,265.7 479.8,266.1 481.1,266.5 483.4,266.6 484.4,267.0 484.1,267.5 486.2,267.6 487.2,268.2 487.4,268.2 487.4,268.5 490.1,268.6 490.0,268.7 492.5,268.8 493.4,269.0 495.0,269.1" fill="none" stroke="#1a7fcc" stroke-width="1.2" stroke-linejoin="round" stroke-opacity="0.8"/>
<polyline points="430.9,249.3 431.9,250.3 433.0,250.1 434.0,250.5 435.1,250.7 435.9,251.3 437.1,252.2 438.2,252.3 439.2,252.7 440.4,252.9 441.3,253.3 442.6,253.5 443.5,253.8 444.4,254.5 445.2,254.6 446.5,255.1 447.7,255.2 448.4,255.6 449.6,256.0 450.9,256.7 451.4,257.1 452.9,257.5 454.0,258.1 455.2,258.0 456.0,258.4 457.4,258.8 458.1,259.1 458.8,259.7 460.1,259.9 462.1,260.3 462.3,260.5 463.5,261.1 464.1,261.3 465.4,261.3 466.2,261.7 467.0,261.9 468.9,262.2 470.1,262.3 471.2,262.7 472.2,262.8 472.5,263.3 473.6,263.8 474.7,264.8 476.0,264.9 477.2,265.2 477.2,265.4 478.8,265.5 480.4,266.0 481.5,265.8 482.6,266.8 482.9,267.3 483.9,267.6 484.6,267.8 485.7,268.0 485.8,268.4 488.3,268.4 489.9,268.5 490.3,268.6 491.5,268.8 493.9,269.0 491.9,269.2" fill="none" stroke="#1a7fcc" stroke-width="1.2" stroke-linejoin="round" stroke-opacity="0.8"/>
<polyline points="430.9,249.3 431.9,249.8 432.9,250.0 434.0,250.4 435.1,251.1 436.0,252.0 437.0,252.0 438.1,252.8 439.1,252.8 440.4,253.0 441.3,253.5 442.2,253.6 443.2,253.8 444.4,254.4 445.6,254.8 446.4,255.2 447.6,255.2 448.5,256.1 449.7,256.4 450.6,257.1 451.3,257.9 452.5,258.4 453.2,258.4 454.9,258.6 456.0,258.6 456.5,258.8 457.5,259.4 458.3,259.2 460.0,259.5 460.7,259.6 462.1,259.8 462.7,260.3 464.0,260.9 464.6,261.2 465.5,261.6 466.7,261.7 468.9,261.4 468.7,262.1 470.6,262.4 471.2,263.0 472.4,263.0 473.8,263.6 474.2,263.9 474.8,264.6 476.7,265.4 478.7,265.3 478.5,266.1 479.3,266.4 480.3,266.6 481.7,266.5 483.3,266.6 482.4,267.2 485.1,267.3 487.1,267.4 486.5,268.0 488.6,268.1 490.2,268.3 489.6,268.6 490.2,268.8 493.1,269.0 492.7,269.1" fill="none" stroke="#1a7fcc" stroke-width="1.2" stroke-linejoin="round" stroke-opacity="0.8"/>
<polyline points="430.9,249.5 431.9,250.0 432.9,250.8 434.0,250.9 435.0,251.0 435.9,251.4 437.0,251.9 437.8,252.6 439.1,252.5 439.8,253.1 440.9,254.1 441.8,254.6 443.3,254.5 443.7,255.1 444.8,255.4 446.2,255.6 447.5,255.8 448.3,256.3 449.2,256.7 449.8,257.2 451.3,257.4 451.6,257.7 452.9,258.0 454.2,258.1 455.5,258.5 456.0,258.8 457.3,259.0 457.9,259.4 459.1,259.5 460.7,259.4 461.4,259.8 462.3,260.3 463.2,260.6 464.4,261.2 465.7,261.7 465.9,262.3 467.2,262.8 467.6,263.0 468.2,263.6 470.9,263.3 472.4,263.1 471.8,263.8 472.9,264.2 473.8,264.8 475.5,265.2 476.0,265.6 476.7,265.9 477.9,266.2 479.9,266.4 480.9,266.7 482.1,266.7 482.0,267.0 484.5,267.4 483.7,267.9 485.2,268.1 486.0,268.5 486.9,268.6 488.4,268.8 491.1,268.9 491.1,269.1 491.3,269.3" fill="none" stroke="#1a7fcc" stroke-width="1.2" stroke-linejoin="round" stroke-opacity="0.8"/>
<polyline points="430.9,249.6 431.9,250.3 432.9,250.5 433.9,250.9 434.8,251.8 435.9,252.0 436.9,252.3 437.9,252.8 438.7,253.0 439.8,253.3 440.5,253.2 442.0,253.8 442.6,254.3 443.9,254.7 445.3,254.7 445.5,255.2 446.9,255.2 447.5,255.7 449.1,256.1 449.9,256.8 450.5,257.6 451.6,258.1 452.5,258.6 453.6,258.6 454.8,258.8 456.2,258.9 456.5,259.2 457.5,259.1 458.8,259.3 459.4,259.8 461.0,259.9 461.9,260.4 463.0,260.4 464.1,260.7 465.1,260.7 465.2,261.3 467.5,261.6 467.4,262.2 469.7,262.7 469.3,263.5 471.0,263.4 471.7,263.7 472.8,263.6 473.1,264.5 474.5,265.0 475.9,265.5 477.0,265.9 477.1,266.1 477.8,266.3 479.6,266.6 480.8,267.0 481.6,267.3 482.6,267.7 483.6,268.2 484.3,268.3 485.4,268.6 485.5,268.8 487.2,268.9 489.2,269.0 489.9,269.1 491.9,269.2" fill="none" stroke="#1a7fcc" stroke-width="1.2" stroke-linejoin="round" stroke-opacity="0.8"/>
<polyline points="430.9,249.4 431.9,250.5 432.8,250.6 433.8,251.1 434.8,251.4 435.8,251.5 436.9,251.5 437.6,252.2 438.5,253.0 439.6,253.3 440.5,253.8 441.5,254.6 442.6,254.8 443.7,254.9 444.3,255.3 445.4,255.8 446.2,256.4 447.6,256.5 448.5,256.9 449.4,257.3 450.7,257.4 451.3,257.7 452.1,257.9 452.8,258.7 454.0,258.7 455.8,258.7 455.9,259.5 457.4,260.0 457.9,260.5 458.8,260.9 460.0,261.6 461.0,261.7 462.2,261.4 462.9,261.7 464.2,261.6 464.0,262.0 466.4,262.6 466.8,262.9 468.3,263.3 468.9,263.2 469.8,263.8 469.7,264.2 471.5,264.9 473.6,265.1 473.7,265.3 474.5,265.3 475.4,265.6 477.3,266.1 478.9,266.1 478.4,266.7 480.2,267.2 480.4,267.8 482.2,268.3 483.1,268.3 483.3,268.6 484.6,268.6 484.8,268.7 487.4,268.9 486.8,269.0 488.6,269.1 489.2,269.3" fill="none" stroke="#1a7fcc" stroke-width="1.2" stroke-linejoin="round" stroke-opacity="0.8"/>
<polyline points="430.9,249.8 431.8,249.9 432.9,249.9 433.8,250.9 434.7,251.6 435.6,251.9 436.7,252.1 437.6,252.9 438.6,253.3 439.4,253.9 440.4,254.0 441.3,254.1 442.7,254.1 443.3,254.6 444.1,255.5 445.3,255.8 446.2,256.4 447.2,257.0 447.9,257.5 448.9,257.5 449.9,257.2 451.0,257.8 451.7,258.2 453.1,258.0 453.7,258.8 454.9,259.0 455.6,259.1 456.8,259.6 457.5,259.6 458.6,260.2 460.0,260.2 460.2,260.7 461.1,260.4 462.4,260.7 463.7,261.2 464.0,261.9 465.2,262.0 465.9,262.8 467.5,262.6 467.8,263.3 468.9,263.5 471.2,263.2 470.6,264.3 472.0,264.4 472.5,264.6 474.1,265.0 474.4,265.6 476.6,265.4 476.8,265.9 477.5,266.5 478.2,267.0 479.1,267.3 481.1,267.8 481.4,268.6 483.0,268.3 483.9,268.7 484.0,268.7 485.1,269.0 485.7,269.2 487.7,269.3 487.7,269.3" fill="none" stroke="#1a7fcc" stroke-width="1.2" stroke-linejoin="round" stroke-opacity="0.8"/>
</g>
<g clip-path="url(#cg2)">
<polyline points="425.7,296.2 432.1,299.5" fill="none" stroke="#f5a623" stroke-width="1.2" stroke-linejoin="round" />
<polyline points="425.7,296.2 432.1,298.5" fill="none" stroke="#f5a623" stroke-width="1.2" stroke-linejoin="round" />
<polyline points="425.7,296.2 432.1,299.0" fill="none" stroke="#f5a623" stroke-width="1.2" stroke-linejoin="round" />
<polyline points="425.7,296.2 432.1,299.8" fill="none" stroke="#f5a623" stroke-width="1.2" stroke-linejoin="round" />
<polyline points="425.7,296.2 432.1,300.2" fill="none" stroke="#f5a623" stroke-width="1.2" stroke-linejoin="round" />
<polyline points="425.7,296.2 432.1,298.9" fill="none" stroke="#f5a623" stroke-width="1.2" stroke-linejoin="round" />
<polyline points="425.7,296.2 432.1,300.9" fill="none" stroke="#f5a623" stroke-width="1.2" stroke-linejoin="round" />
<polyline points="425.7,296.2 432.1,301.3" fill="none" stroke="#f5a623" stroke-width="1.2" stroke-linejoin="round" />
<polyline points="425.7,296.2 432.1,299.3" fill="none" stroke="#f5a623" stroke-width="1.2" stroke-linejoin="round" />
<polyline points="425.7,296.2 432.1,300.0" fill="none" stroke="#f5a623" stroke-width="1.2" stroke-linejoin="round" />
<polyline points="425.7,296.2 432.1,300.5" fill="none" stroke="#f5a623" stroke-width="1.2" stroke-linejoin="round" />
<polyline points="425.7,296.2 432.1,301.7" fill="none" stroke="#f5a623" stroke-width="1.2" stroke-linejoin="round" />
<polyline points="425.7,296.2 432.1,302.8" fill="none" stroke="#f5a623" stroke-width="1.2" stroke-linejoin="round" />
<polyline points="425.7,296.2 432.1,299.9" fill="none" stroke="#f5a623" stroke-width="1.2" stroke-linejoin="round" />
<polyline points="425.7,296.2 432.1,301.5" fill="none" stroke="#f5a623" stroke-width="1.2" stroke-linejoin="round" />
<polyline points="425.7,296.2 432.1,301.6" fill="none" stroke="#f5a623" stroke-width="1.2" stroke-linejoin="round" />
<polyline points="425.7,296.2 432.1,303.2" fill="none" stroke="#f5a623" stroke-width="1.2" stroke-linejoin="round" />
<polyline points="425.7,296.2 432.1,303.2" fill="none" stroke="#f5a623" stroke-width="1.2" stroke-linejoin="round" />
<polyline points="425.7,296.2 432.1,304.7" fill="none" stroke="#f5a623" stroke-width="1.2" stroke-linejoin="round" />
<polyline points="425.7,296.2 432.1,304.9" fill="none" stroke="#f5a623" stroke-width="1.2" stroke-linejoin="round" />
<polyline points="425.7,296.2 432.1,305.1" fill="none" stroke="#f5a623" stroke-width="1.2" stroke-linejoin="round" />
<polyline points="425.7,296.2 432.1,304.0" fill="none" stroke="#f5a623" stroke-width="1.2" stroke-linejoin="round" />
<polyline points="425.7,296.2 432.1,304.7" fill="none" stroke="#f5a623" stroke-width="1.2" stroke-linejoin="round" />
<polyline points="425.7,296.2 432.1,304.4" fill="none" stroke="#f5a623" stroke-width="1.2" stroke-linejoin="round" />
<polyline points="425.7,296.2 432.1,307.2" fill="none" stroke="#f5a623" stroke-width="1.2" stroke-linejoin="round" />
<polyline points="425.7,296.2 432.1,305.7" fill="none" stroke="#f5a623" stroke-width="1.2" stroke-linejoin="round" />
<polyline points="425.7,296.2 432.1,304.2" fill="none" stroke="#f5a623" stroke-width="1.2" stroke-linejoin="round" />
<polyline points="425.7,296.2 432.1,306.8" fill="none" stroke="#f5a623" stroke-width="1.2" stroke-linejoin="round" />
<polyline points="425.7,296.2 432.1,305.3" fill="none" stroke="#f5a623" stroke-width="1.2" stroke-linejoin="round" />
<polyline points="425.7,296.2 432.1,304.5" fill="none" stroke="#f5a623" stroke-width="1.2" stroke-linejoin="round" />
<polyline points="425.7,296.2 432.1,306.8" fill="none" stroke="#f5a623" stroke-width="1.2" stroke-linejoin="round" />
<polyline points="425.7,296.2 432.1,308.0" fill="none" stroke="#f5a623" stroke-width="1.2" stroke-linejoin="round" />
<polyline points="425.7,296.2 432.1,305.8" fill="none" stroke="#f5a623" stroke-width="1.2" stroke-linejoin="round" />
<polyline points="425.7,296.2 432.1,304.2" fill="none" stroke="#f5a623" stroke-width="1.2" stroke-linejoin="round" />
<polyline points="425.7,296.2 432.1,305.7" fill="none" stroke="#f5a623" stroke-width="1.2" stroke-linejoin="round" />
<polyline points="425.7,296.2 432.1,306.6" fill="none" stroke="#f5a623" stroke-width="1.2" stroke-linejoin="round" />
<polyline points="425.7,296.2 432.1,307.5" fill="none" stroke="#f5a623" stroke-width="1.2" stroke-linejoin="round" />
<polyline points="425.7,296.2 432.1,306.0" fill="none" stroke="#f5a623" stroke-width="1.2" stroke-linejoin="round" />
<polyline points="425.7,296.2 432.1,309.3" fill="none" stroke="#f5a623" stroke-width="1.2" stroke-linejoin="round" />
<polyline points="425.7,296.2 432.1,308.2" fill="none" stroke="#f5a623" stroke-width="1.2" stroke-linejoin="round" />
<polyline points="425.7,296.2 432.1,307.3" fill="none" stroke="#f5a623" stroke-width="1.2" stroke-linejoin="round" />
<polyline points="425.7,296.2 432.1,305.3" fill="none" stroke="#f5a623" stroke-width="1.2" stroke-linejoin="round" />
<polyline points="425.7,296.2 432.1,308.7" fill="none" stroke="#f5a623" stroke-width="1.2" stroke-linejoin="round" />
<polyline points="425.7,296.2 432.1,310.7" fill="none" stroke="#f5a623" stroke-width="1.2" stroke-linejoin="round" />
<polyline points="425.7,296.2 432.1,306.9" fill="none" stroke="#f5a623" stroke-width="1.2" stroke-linejoin="round" />
<polyline points="425.7,296.2 432.1,309.9" fill="none" stroke="#f5a623" stroke-width="1.2" stroke-linejoin="round" />
<polyline points="425.7,296.2 432.1,311.0" fill="none" stroke="#f5a623" stroke-width="1.2" stroke-linejoin="round" />
<polyline points="425.7,296.2 432.1,310.6" fill="none" stroke="#f5a623" stroke-width="1.2" stroke-linejoin="round" />
<polyline points="432.1,299.5 433.7,298.8 435.3,299.7 436.9,299.3 438.5,298.8 440.1,300.9 441.8,298.4 443.4,298.9 445.0,299.8 446.6,299.4 448.2,299.7 449.8,303.9 451.4,304.1 453.0,304.1 454.6,301.8 456.2,303.0 457.8,303.9 459.4,306.1 461.1,304.4 462.7,305.8 464.3,306.1 465.9,309.5 467.5,308.5 469.1,307.7 470.7,307.2 472.3,306.1 473.9,305.7 475.5,308.4 477.1,308.4 478.7,308.3 480.4,310.4 482.0,312.0 483.6,309.9 485.2,311.0 486.8,314.3 488.4,317.2 490.0,315.1 491.6,313.4 493.2,314.9 494.8,315.3 496.4,314.9 498.0,314.8 499.7,316.4 501.3,317.9 502.9,316.7 504.5,318.0 506.1,315.8 507.7,315.5 509.3,315.2 510.9,317.6 512.5,318.4 514.1,320.1 515.7,319.8 517.3,319.8 519.0,320.5 520.6,320.3 522.2,320.8" fill="none" stroke="#1a7fcc" stroke-width="1.3" stroke-linejoin="round" stroke-opacity="0.85"/>
<polyline points="432.1,298.5 433.7,300.7 435.3,302.0 436.9,302.2 438.5,304.6 440.1,303.7 441.8,302.5 443.4,299.2 445.0,298.6 446.6,300.5 448.2,300.9 449.8,302.7 451.4,301.4 453.0,304.3 454.6,304.1 456.2,302.3 457.8,300.4 459.4,298.6 461.1,301.7 462.7,303.4 464.3,306.3 465.9,309.1 467.5,308.9 469.1,308.3 470.7,308.5 472.3,308.9 473.9,309.2 475.5,307.8 477.1,305.6 478.7,308.7 480.4,308.1 482.0,310.4 483.6,309.4 485.2,311.8 486.8,313.4 488.4,313.5 490.0,313.8 491.6,315.0 493.2,313.1 494.8,313.9 496.4,314.7 498.0,312.6 499.7,314.0 501.3,316.0 502.9,316.8 504.5,315.6 506.1,316.2 507.7,316.8 509.3,317.3 510.9,315.2 512.5,317.2 514.1,317.6 515.7,319.6 517.3,319.3 519.0,319.7 520.6,320.2 522.2,320.4" fill="none" stroke="#1a7fcc" stroke-width="1.3" stroke-linejoin="round" stroke-opacity="0.85"/>
<polyline points="432.1,299.0 433.7,300.8 435.3,303.5 436.9,300.6 438.5,300.7 440.1,301.0 441.8,300.5 443.4,300.0 445.0,301.0 446.6,301.7 448.2,302.9 449.8,301.9 451.4,303.1 453.0,302.9 454.6,301.5 456.2,303.2 457.8,304.8 459.4,304.1 461.1,305.8 462.7,306.7 464.3,308.5 465.9,309.0 467.5,307.8 469.1,306.3 470.7,308.4 472.3,308.6 473.9,310.7 475.5,309.1 477.1,306.6 478.7,308.4 480.4,310.0 482.0,309.8 483.6,311.7 485.2,312.3 486.8,312.3 488.4,314.4 490.0,314.6 491.6,314.6 493.2,314.9 494.8,317.5 496.4,318.4 498.0,315.5 499.7,315.4 501.3,316.3 502.9,317.4 504.5,319.4 506.1,318.4 507.7,320.4 509.3,317.9 510.9,318.1 512.5,318.3 514.1,318.9 515.7,321.1 517.3,320.3 519.0,320.7 520.6,321.3 522.2,321.2 523.8,321.2" fill="none" stroke="#1a7fcc" stroke-width="1.3" stroke-linejoin="round" stroke-opacity="0.85"/>
<polyline points="432.1,299.8 433.7,299.9 435.3,299.1 436.9,301.8 438.5,304.0 440.1,302.4 441.8,301.3 443.4,302.9 445.0,302.9 446.6,302.3 448.2,303.9 449.8,305.3 451.4,303.4 453.0,304.9 454.6,304.1 456.2,302.7 457.8,302.8 459.4,304.8 461.1,304.5 462.7,305.5 464.3,307.0 465.9,307.1 467.5,306.5 469.1,308.2 470.7,307.1 472.3,307.4 473.9,308.9 475.5,309.0 477.1,309.0 478.7,309.4 480.4,312.4 482.0,309.7 483.6,309.9 485.2,312.0 486.8,314.3 488.4,314.6 490.0,314.6 491.6,312.8 493.2,314.3 494.8,313.4 496.4,313.9 498.0,313.7 499.7,315.5 501.3,316.1 502.9,317.7 504.5,319.5 506.1,320.8 507.7,320.8 509.3,317.4 510.9,316.0 512.5,317.2 514.1,318.7 515.7,317.6 517.3,317.5 519.0,318.5 520.6,319.5" fill="none" stroke="#1a7fcc" stroke-width="1.3" stroke-linejoin="round" stroke-opacity="0.85"/>
<polyline points="432.1,300.2 433.7,300.5 435.3,302.2 436.9,302.4 438.5,300.1 440.1,302.1 441.8,302.0 443.4,303.5 445.0,303.0 446.6,306.8 448.2,308.0 449.8,309.0 451.4,305.6 453.0,304.0 454.6,303.9 456.2,304.8 457.8,306.1 459.4,305.8 461.1,305.7 462.7,307.1 464.3,307.7 465.9,307.9 467.5,307.4 469.1,308.8 470.7,307.1 472.3,307.3 473.9,308.3 475.5,309.0 477.1,309.4 478.7,311.5 480.4,310.2 482.0,309.3 483.6,310.8 485.2,310.6 486.8,309.6 488.4,309.0 490.0,309.4 491.6,312.0 493.2,315.2 494.8,313.9 496.4,314.6 498.0,315.4 499.7,316.3 501.3,317.4 502.9,320.7 504.5,318.4 506.1,318.0 507.7,316.7 509.3,316.3 510.9,317.8 512.5,317.6 514.1,318.3 515.7,319.0 517.3,320.0 519.0,320.2 520.6,320.6" fill="none" stroke="#1a7fcc" stroke-width="1.3" stroke-linejoin="round" stroke-opacity="0.85"/>
<polyline points="432.1,298.9 433.7,304.0 435.3,302.2 436.9,301.6 438.5,301.2 440.1,300.0 441.8,301.2 443.4,301.9 445.0,300.9 446.6,303.4 448.2,303.4 449.8,302.4 451.4,302.4 453.0,304.0 454.6,303.0 456.2,303.0 457.8,304.7 459.4,305.2 461.1,305.7 462.7,306.0 464.3,306.3 465.9,309.3 467.5,309.1 469.1,309.6 470.7,310.0 472.3,309.7 473.9,310.1 475.5,308.1 477.1,310.7 478.7,312.0 480.4,313.0 482.0,311.7 483.6,313.0 485.2,314.4 486.8,313.7 488.4,313.8 490.0,313.6 491.6,314.7 493.2,313.9 494.8,316.1 496.4,315.5 498.0,316.8 499.7,318.4 501.3,318.8 502.9,317.1 504.5,318.4 506.1,317.4 507.7,317.3 509.3,317.1 510.9,317.0 512.5,316.1 514.1,316.9 515.7,318.3" fill="none" stroke="#1a7fcc" stroke-width="1.3" stroke-linejoin="round" stroke-opacity="0.85"/>
<polyline points="432.1,300.9 433.7,304.0 435.3,303.5 436.9,304.4 438.5,305.1 440.1,304.9 441.8,302.1 443.4,302.3 445.0,303.1 446.6,304.4 448.2,306.6 449.8,307.6 451.4,306.3 453.0,303.9 454.6,301.8 456.2,303.7 457.8,304.9 459.4,304.1 461.1,306.0 462.7,308.9 464.3,310.8 465.9,311.3 467.5,310.2 469.1,310.0 470.7,308.5 472.3,308.6 473.9,311.1 475.5,311.1 477.1,310.5 478.7,310.4 480.4,310.4 482.0,310.6 483.6,310.5 485.2,310.1 486.8,312.5 488.4,312.1 490.0,312.4 491.6,314.2 493.2,314.0 494.8,314.6 496.4,313.9 498.0,314.6 499.7,316.3 501.3,317.5 502.9,315.8 504.5,316.8 506.1,316.4 507.7,316.1 509.3,316.1 510.9,316.3 512.5,317.8 514.1,320.3 515.7,320.5 517.3,321.5 519.0,320.7 520.6,321.9 522.2,321.8 523.8,321.7 525.4,321.5 527.0,322.0" fill="none" stroke="#1a7fcc" stroke-width="1.3" stroke-linejoin="round" stroke-opacity="0.85"/>
<polyline points="432.1,301.3 433.7,304.4 435.3,302.2 436.9,303.3 438.5,300.8 440.1,302.6 441.8,303.1 443.4,301.9 445.0,302.0 446.6,303.4 448.2,303.3 449.8,302.6 451.4,302.2 453.0,304.2 454.6,305.6 456.2,305.7 457.8,306.8 459.4,308.4 461.1,309.3 462.7,310.4 464.3,313.2 465.9,312.5 467.5,312.9 469.1,312.4 470.7,310.1 472.3,309.6 473.9,311.4 475.5,310.7 477.1,307.9 478.7,309.0 480.4,310.3 482.0,311.8 483.6,311.7 485.2,312.8 486.8,312.0 488.4,313.5 490.0,313.7 491.6,314.5 493.2,314.8 494.8,315.1 496.4,315.0 498.0,315.7 499.7,316.0 501.3,316.5 502.9,315.2 504.5,315.1 506.1,318.8 507.7,319.5 509.3,319.0 510.9,318.8 512.5,318.3 514.1,318.5 515.7,318.5" fill="none" stroke="#1a7fcc" stroke-width="1.3" stroke-linejoin="round" stroke-opacity="0.85"/>
<polyline points="432.1,299.3 433.7,299.3 435.3,303.0 436.9,301.9 438.5,305.6 440.1,304.2 441.8,302.5 443.4,302.8 445.0,303.0 446.6,303.7 448.2,303.0 449.8,303.6 451.4,303.3 453.0,303.8 454.6,303.4 456.2,303.7 457.8,304.8 459.4,306.3 461.1,307.5 462.7,305.9 464.3,307.5 465.9,311.4 467.5,308.8 469.1,310.7 470.7,309.4 472.3,310.8 473.9,309.4 475.5,308.7 477.1,308.0 478.7,310.9 480.4,311.0 482.0,310.7 483.6,312.9 485.2,314.1 486.8,315.7 488.4,315.4 490.0,316.7 491.6,317.7 493.2,316.6 494.8,319.8 496.4,318.2 498.0,318.8 499.7,316.6 501.3,317.0 502.9,321.2 504.5,319.2 506.1,318.1 507.7,318.0 509.3,317.2 510.9,317.3 512.5,319.8 514.1,319.6 515.7,319.5 517.3,320.3 519.0,321.1 520.6,321.3 522.2,321.5 523.8,321.4" fill="none" stroke="#1a7fcc" stroke-width="1.3" stroke-linejoin="round" stroke-opacity="0.85"/>
<polyline points="432.1,300.0 433.7,301.9 435.3,305.6 436.9,303.9 438.5,304.2 440.1,303.1 441.8,301.9 443.4,303.4 445.0,303.0 446.6,306.1 448.2,307.6 449.8,311.1 451.4,308.9 453.0,309.0 454.6,306.7 456.2,306.3 457.8,308.3 459.4,310.4 461.1,310.0 462.7,310.9 464.3,312.7 465.9,309.9 467.5,309.6 469.1,309.8 470.7,310.4 472.3,309.7 473.9,312.7 475.5,310.5 477.1,310.4 478.7,310.5 480.4,311.6 482.0,311.6 483.6,311.6 485.2,313.2 486.8,313.9 488.4,315.7 490.0,316.9 491.6,318.8 493.2,320.1 494.8,320.7 496.4,320.3 498.0,318.4 499.7,318.1 501.3,317.7 502.9,315.7 504.5,316.4 506.1,317.1 507.7,318.8 509.3,317.6 510.9,318.6 512.5,319.2 514.1,320.0 515.7,320.5 517.3,320.1 519.0,321.6 520.6,321.7" fill="none" stroke="#1a7fcc" stroke-width="1.3" stroke-linejoin="round" stroke-opacity="0.85"/>
<polyline points="432.1,300.5 433.7,301.1 435.3,301.9 436.9,304.5 438.5,302.4 440.1,303.4 441.8,303.7 443.4,305.5 445.0,304.4 446.6,305.6 448.2,307.3 449.8,307.6 451.4,308.7 453.0,308.6 454.6,308.6 456.2,308.4 457.8,309.1 459.4,307.9 461.1,308.2 462.7,308.8 464.3,309.6 465.9,309.8 467.5,309.6 469.1,307.1 470.7,307.6 472.3,309.9 473.9,308.5 475.5,310.0 477.1,310.5 478.7,312.4 480.4,311.0 482.0,313.5 483.6,313.1 485.2,314.8 486.8,314.8 488.4,317.3 490.0,318.2 491.6,317.0 493.2,319.1 494.8,316.9 496.4,318.8 498.0,319.8 499.7,320.6 501.3,319.5 502.9,317.1 504.5,316.7 506.1,317.9 507.7,315.8 509.3,316.5 510.9,317.0 512.5,316.5 514.1,318.4 515.7,318.4 517.3,318.1 519.0,319.2 520.6,320.4" fill="none" stroke="#1a7fcc" stroke-width="1.3" stroke-linejoin="round" stroke-opacity="0.85"/>
<polyline points="432.1,301.7 433.7,303.9 435.3,304.9 436.9,306.8 438.5,305.7 440.1,306.3 441.8,304.8 443.4,306.3 445.0,304.6 446.6,306.6 448.2,307.0 449.8,307.3 451.4,304.2 453.0,305.0 454.6,308.2 456.2,307.3 457.8,308.4 459.4,307.5 461.1,308.0 462.7,307.4 464.3,311.1 465.9,312.4 467.5,310.6 469.1,309.7 470.7,310.4 472.3,311.4 473.9,311.8 475.5,310.0 477.1,311.4 478.7,312.6 480.4,312.9 482.0,313.7 483.6,312.7 485.2,316.6 486.8,315.4 488.4,316.4 490.0,319.5 491.6,318.8 493.2,318.3 494.8,316.6 496.4,319.4 498.0,317.5 499.7,316.7 501.3,318.5 502.9,319.6 504.5,319.7 506.1,319.3 507.7,318.9 509.3,317.9 510.9,317.5 512.5,318.7 514.1,319.1 515.7,319.3 517.3,319.3 519.0,318.8 520.6,320.8" fill="none" stroke="#1a7fcc" stroke-width="1.3" stroke-linejoin="round" stroke-opacity="0.85"/>
<polyline points="432.1,302.8 433.7,303.5 435.3,305.6 436.9,305.8 438.5,306.7 440.1,306.4 441.8,304.1 443.4,305.2 445.0,305.4 446.6,304.8 448.2,305.8 449.8,307.3 451.4,309.3 453.0,307.7 454.6,307.3 456.2,308.1 457.8,308.5 459.4,310.5 461.1,310.4 462.7,309.2 464.3,308.2 465.9,309.1 467.5,310.1 469.1,311.5 470.7,309.2 472.3,309.0 473.9,309.0 475.5,311.1 477.1,313.1 478.7,312.9 480.4,311.3 482.0,313.4 483.6,314.7 485.2,314.2 486.8,315.5 488.4,315.5 490.0,317.1 491.6,317.9 493.2,318.1 494.8,316.9 496.4,317.2 498.0,316.7 499.7,317.2 501.3,317.8 502.9,318.8 504.5,319.7 506.1,318.9 507.7,317.5 509.3,317.5 510.9,319.1 512.5,318.8 514.1,319.6 515.7,320.5 517.3,320.3 519.0,320.5 520.6,320.5 522.2,321.2 523.8,321.0" fill="none" stroke="#1a7fcc" stroke-width="1.3" stroke-linejoin="round" stroke-opacity="0.85"/>
<polyline points="432.1,299.9 433.7,301.8 435.3,304.0 436.9,305.7 438.5,309.8 440.1,308.7 441.8,306.2 443.4,305.5 445.0,307.3 446.6,307.4 448.2,308.7 449.8,310.5 451.4,309.7 453.0,308.9 454.6,310.3 456.2,310.2 457.8,310.4 459.4,309.1 461.1,308.3 462.7,309.5 464.3,309.6 465.9,310.3 467.5,308.2 469.1,310.6 470.7,310.4 472.3,312.0 473.9,312.4 475.5,311.8 477.1,312.8 478.7,313.2 480.4,314.2 482.0,313.7 483.6,313.8 485.2,314.1 486.8,313.3 488.4,313.8 490.0,314.0 491.6,312.7 493.2,313.4 494.8,316.0 496.4,315.7 498.0,315.3 499.7,317.8 501.3,318.7 502.9,317.5 504.5,319.3 506.1,318.7 507.7,318.9 509.3,319.3 510.9,319.7 512.5,319.9 514.1,320.5 515.7,319.1 517.3,319.2 519.0,319.1 520.6,320.0 522.2,321.0" fill="none" stroke="#1a7fcc" stroke-width="1.3" stroke-linejoin="round" stroke-opacity="0.85"/>
<polyline points="432.1,301.5 433.7,303.5 435.3,304.0 436.9,303.4 438.5,304.6 440.1,303.7 441.8,304.7 443.4,307.6 445.0,307.0 446.6,307.8 448.2,310.9 449.8,309.6 451.4,308.4 453.0,307.8 454.6,306.8 456.2,309.6 457.8,308.9 459.4,310.2 461.1,307.2 462.7,309.4 464.3,311.5 465.9,311.5 467.5,312.8 469.1,313.0 470.7,314.4 472.3,314.8 473.9,311.3 475.5,310.1 477.1,311.5 478.7,312.8 480.4,315.0 482.0,315.6 483.6,316.5 485.2,315.3 486.8,316.4 488.4,317.9 490.0,318.2 491.6,318.6 493.2,318.8 494.8,316.4 496.4,318.2 498.0,318.4 499.7,319.1 501.3,319.4 502.9,319.4 504.5,318.6 506.1,318.5 507.7,317.4 509.3,315.8 510.9,318.9 512.5,318.0 514.1,319.2 515.7,319.0 517.3,321.1 519.0,320.7" fill="none" stroke="#1a7fcc" stroke-width="1.3" stroke-linejoin="round" stroke-opacity="0.85"/>
<polyline points="432.1,301.6 433.7,304.1 435.3,304.7 436.9,306.2 438.5,309.2 440.1,309.2 441.8,308.1 443.4,306.7 445.0,307.5 446.6,308.3 448.2,307.4 449.8,309.1 451.4,307.7 453.0,308.8 454.6,306.2 456.2,307.4 457.8,307.1 459.4,306.9 461.1,308.4 462.7,309.9 464.3,309.4 465.9,312.9 467.5,312.9 469.1,312.8 470.7,312.7 472.3,313.3 473.9,313.5 475.5,315.7 477.1,312.6 478.7,311.6 480.4,311.3 482.0,312.1 483.6,313.1 485.2,315.8 486.8,315.4 488.4,315.0 490.0,314.7 491.6,315.2 493.2,314.9 494.8,317.4 496.4,320.6 498.0,321.6 499.7,322.5 501.3,321.4 502.9,321.7 504.5,316.6 506.1,318.3 507.7,320.1 509.3,319.8 510.9,319.3 512.5,319.8 514.1,321.5 515.7,321.4 517.3,322.1 519.0,322.1 520.6,322.3 522.2,322.4 523.8,322.2 525.4,321.8" fill="none" stroke="#1a7fcc" stroke-width="1.3" stroke-linejoin="round" stroke-opacity="0.85"/>
<polyline points="432.1,303.2 433.7,303.5 435.3,303.5 436.9,304.7 438.5,305.2 440.1,305.4 441.8,305.3 443.4,306.6 445.0,305.6 446.6,306.6 448.2,306.1 449.8,309.0 451.4,306.4 453.0,305.6 454.6,307.4 456.2,307.7 457.8,308.5 459.4,306.5 461.1,307.1 462.7,309.3 464.3,311.3 465.9,311.8 467.5,311.8 469.1,314.4 470.7,313.3 472.3,311.9 473.9,311.7 475.5,314.1 477.1,315.8 478.7,317.5 480.4,316.0 482.0,316.2 483.6,316.0 485.2,315.6 486.8,316.4 488.4,315.6 490.0,319.2 491.6,318.3 493.2,319.9 494.8,317.0 496.4,319.6 498.0,320.2 499.7,322.5 501.3,320.5 502.9,323.2 504.5,322.3 506.1,322.5 507.7,320.9 509.3,318.4 510.9,320.1 512.5,319.5 514.1,319.9 515.7,321.4 517.3,321.1 519.0,322.1" fill="none" stroke="#1a7fcc" stroke-width="1.3" stroke-linejoin="round" stroke-opacity="0.85"/>
<polyline points="432.1,303.2 433.7,303.7 435.3,303.6 436.9,305.2 438.5,306.3 440.1,307.7 441.8,308.0 443.4,305.9 445.0,306.7 446.6,306.5 448.2,307.8 449.8,309.7 451.4,309.1 453.0,308.3 454.6,307.8 456.2,309.7 457.8,309.3 459.4,308.7 461.1,309.7 462.7,310.8 464.3,311.5 465.9,312.8 467.5,311.9 469.1,315.8 470.7,315.0 472.3,315.3 473.9,314.7 475.5,315.8 477.1,316.5 478.7,315.5 480.4,313.8 482.0,313.6 483.6,313.9 485.2,311.0 486.8,313.9 488.4,315.5 490.0,313.8 491.6,315.7 493.2,318.1 494.8,317.2 496.4,317.2 498.0,319.9 499.7,318.7 501.3,318.7 502.9,321.3 504.5,320.4 506.1,317.7 507.7,318.6 509.3,319.6 510.9,321.0 512.5,321.5 514.1,320.4 515.7,321.3 517.3,322.2 519.0,322.5 520.6,322.0 522.2,321.5" fill="none" stroke="#1a7fcc" stroke-width="1.3" stroke-linejoin="round" stroke-opacity="0.85"/>
<polyline points="432.1,304.7 433.7,306.0 435.3,307.0 436.9,306.5 438.5,306.8 440.1,308.2 441.8,307.1 443.4,307.3 445.0,308.7 446.6,308.1 448.2,308.5 449.8,310.7 451.4,308.7 453.0,308.8 454.6,310.8 456.2,309.5 457.8,309.0 459.4,308.1 461.1,311.0 462.7,311.2 464.3,308.6 465.9,311.6 467.5,312.8 469.1,312.8 470.7,310.7 472.3,310.7 473.9,311.9 475.5,312.1 477.1,312.8 478.7,312.5 480.4,314.3 482.0,315.0 483.6,313.6 485.2,314.5 486.8,315.3 488.4,314.1 490.0,315.5 491.6,315.8 493.2,315.4 494.8,318.0 496.4,317.6 498.0,318.5 499.7,319.5 501.3,318.7 502.9,319.9 504.5,319.5 506.1,319.5 507.7,317.5 509.3,319.4 510.9,317.5 512.5,320.2 514.1,320.6 515.7,321.2 517.3,321.9" fill="none" stroke="#1a7fcc" stroke-width="1.3" stroke-linejoin="round" stroke-opacity="0.85"/>
<polyline points="432.1,304.9 433.7,302.7 435.3,304.0 436.9,304.3 438.5,305.4 440.1,306.4 441.8,305.8 443.4,306.8 445.0,308.7 446.6,308.2 448.2,309.3 449.8,309.9 451.4,308.4 453.0,307.5 454.6,307.0 456.2,308.9 457.8,308.8 459.4,309.0 461.1,311.7 462.7,311.6 464.3,312.6 465.9,314.3 467.5,313.4 469.1,312.7 470.7,312.2 472.3,315.4 473.9,314.3 475.5,316.3 477.1,316.8 478.7,315.6 480.4,316.3 482.0,316.7 483.6,315.7 485.2,315.7 486.8,318.6 488.4,318.6 490.0,317.3 491.6,319.0 493.2,318.9 494.8,318.8 496.4,320.0 498.0,319.5 499.7,317.2 501.3,318.0 502.9,317.9 504.5,318.8 506.1,318.2 507.7,318.4 509.3,319.1 510.9,320.3 512.5,320.2 514.1,320.1 515.7,320.6 517.3,320.0 519.0,319.7 520.6,321.2 522.2,321.7 523.8,321.6 525.4,321.5" fill="none" stroke="#1a7fcc" stroke-width="1.3" stroke-linejoin="round" stroke-opacity="0.85"/>
<polyline points="432.1,305.1 433.7,307.4 435.3,305.7 436.9,306.9 438.5,307.6 440.1,307.0 441.8,307.3 443.4,307.0 445.0,306.9 446.6,308.6 448.2,308.5 449.8,308.7 451.4,307.9 453.0,311.6 454.6,310.2 456.2,312.6 457.8,312.1 459.4,314.4 461.1,313.4 462.7,314.6 464.3,316.0 465.9,315.7 467.5,315.7 469.1,314.2 470.7,313.4 472.3,316.4 473.9,316.4 475.5,314.7 477.1,316.3 478.7,314.3 480.4,315.8 482.0,314.4 483.6,315.4 485.2,315.8 486.8,316.0 488.4,318.0 490.0,316.0 491.6,315.5 493.2,318.7 494.8,320.8 496.4,320.1 498.0,322.0 499.7,320.4 501.3,319.8 502.9,320.8 504.5,321.4 506.1,319.9 507.7,321.2 509.3,323.8 510.9,323.4 512.5,322.6 514.1,322.6 515.7,322.2 517.3,321.1 519.0,322.9" fill="none" stroke="#1a7fcc" stroke-width="1.3" stroke-linejoin="round" stroke-opacity="0.85"/>
<polyline points="432.1,304.0 433.7,307.5 435.3,309.8 436.9,310.1 438.5,308.7 440.1,307.9 441.8,307.7 443.4,306.7 445.0,306.2 446.6,308.7 448.2,310.1 449.8,311.0 451.4,310.5 453.0,308.5 454.6,309.4 456.2,309.3 457.8,309.3 459.4,311.6 461.1,311.1 462.7,312.0 464.3,314.1 465.9,312.7 467.5,311.8 469.1,314.4 470.7,313.9 472.3,314.0 473.9,314.6 475.5,315.7 477.1,316.8 478.7,316.2 480.4,316.8 482.0,315.3 483.6,315.3 485.2,317.6 486.8,318.0 488.4,318.6 490.0,318.0 491.6,318.8 493.2,319.5 494.8,319.9 496.4,319.3 498.0,320.2 499.7,321.2 501.3,320.0 502.9,322.7 504.5,320.1 506.1,319.4 507.7,319.5 509.3,320.1 510.9,318.7 512.5,320.1 514.1,321.6 515.7,321.2 517.3,320.7 519.0,321.5 520.6,322.0 522.2,321.9 523.8,321.9" fill="none" stroke="#1a7fcc" stroke-width="1.3" stroke-linejoin="round" stroke-opacity="0.85"/>
<polyline points="432.1,304.7 433.7,308.3 435.3,307.5 436.9,309.4 438.5,309.4 440.1,309.0 441.8,308.8 443.4,308.7 445.0,306.0 446.6,308.7 448.2,312.5 449.8,312.7 451.4,311.6 453.0,313.4 454.6,311.3 456.2,313.7 457.8,313.4 459.4,311.0 461.1,313.1 462.7,313.6 464.3,313.4 465.9,315.3 467.5,314.2 469.1,315.5 470.7,314.7 472.3,316.2 473.9,315.7 475.5,317.2 477.1,315.9 478.7,314.3 480.4,315.7 482.0,316.4 483.6,318.7 485.2,317.6 486.8,316.5 488.4,316.2 490.0,317.4 491.6,318.2 493.2,320.9 494.8,321.6 496.4,322.5 498.0,321.3 499.7,320.3 501.3,320.6 502.9,321.6 504.5,319.4 506.1,317.8 507.7,319.5 509.3,319.3 510.9,318.6 512.5,321.2 514.1,322.3 515.7,321.5 517.3,322.2 519.0,321.4 520.6,322.1 522.2,321.9 523.8,321.9 525.4,321.5" fill="none" stroke="#1a7fcc" stroke-width="1.3" stroke-linejoin="round" stroke-opacity="0.85"/>
<polyline points="432.1,304.4 433.7,304.9 435.3,309.0 436.9,311.6 438.5,311.6 440.1,311.9 441.8,309.3 443.4,311.2 445.0,310.9 446.6,310.4 448.2,310.6 449.8,311.0 451.4,311.8 453.0,312.3 454.6,311.9 456.2,308.5 457.8,309.8 459.4,311.3 461.1,309.9 462.7,309.5 464.3,311.8 465.9,313.7 467.5,311.1 469.1,315.5 470.7,315.6 472.3,316.2 473.9,317.5 475.5,316.1 477.1,315.8 478.7,318.5 480.4,317.4 482.0,318.5 483.6,315.6 485.2,316.9 486.8,317.6 488.4,318.5 490.0,319.5 491.6,317.3 493.2,318.5 494.8,318.1 496.4,318.4 498.0,320.2 499.7,319.5 501.3,318.5 502.9,319.9 504.5,318.7 506.1,320.0 507.7,320.6 509.3,318.8 510.9,318.2 512.5,319.5 514.1,318.8 515.7,320.5 517.3,320.0 519.0,320.4 520.6,321.6 522.2,321.6 523.8,321.7 525.4,321.8 527.0,322.4" fill="none" stroke="#1a7fcc" stroke-width="1.3" stroke-linejoin="round" stroke-opacity="0.85"/>
<polyline points="432.1,307.2 433.7,305.0 435.3,306.2 436.9,307.9 438.5,310.0 440.1,311.1 441.8,307.6 443.4,309.3 445.0,309.2 446.6,310.4 448.2,311.7 449.8,313.0 451.4,310.8 453.0,311.3 454.6,311.3 456.2,309.2 457.8,311.1 459.4,311.4 461.1,312.9 462.7,313.1 464.3,316.2 465.9,317.5 467.5,317.1 469.1,317.6 470.7,316.7 472.3,315.3 473.9,315.3 475.5,316.6 477.1,317.0 478.7,317.5 480.4,315.3 482.0,312.9 483.6,314.4 485.2,315.7 486.8,317.4 488.4,317.6 490.0,317.3 491.6,317.1 493.2,316.8 494.8,320.8 496.4,323.7 498.0,321.7 499.7,321.1 501.3,320.4 502.9,321.1 504.5,322.1 506.1,320.2 507.7,320.2 509.3,319.6 510.9,320.6 512.5,321.8 514.1,322.5 515.7,321.6 517.3,320.8 519.0,321.5 520.6,322.3 522.2,322.3 523.8,322.1" fill="none" stroke="#1a7fcc" stroke-width="1.3" stroke-linejoin="round" stroke-opacity="0.85"/>
<polyline points="432.1,305.7 433.7,308.5 435.3,308.6 436.9,308.8 438.5,310.4 440.1,310.0 441.8,309.8 443.4,312.9 445.0,313.4 446.6,313.0 448.2,311.5 449.8,312.2 451.4,312.7 453.0,313.5 454.6,314.0 456.2,310.3 457.8,312.7 459.4,313.4 461.1,315.6 462.7,314.2 464.3,314.5 465.9,316.1 467.5,317.7 469.1,316.9 470.7,315.8 472.3,313.5 473.9,315.7 475.5,318.3 477.1,317.6 478.7,319.9 480.4,318.1 482.0,318.9 483.6,317.9 485.2,318.3 486.8,317.4 488.4,318.8 490.0,318.0 491.6,318.5 493.2,320.1 494.8,320.9 496.4,322.4 498.0,322.3 499.7,321.2 501.3,320.9 502.9,320.2 504.5,318.7 506.1,320.0 507.7,319.5 509.3,319.2 510.9,318.4 512.5,319.3 514.1,322.1 515.7,321.7 517.3,321.1" fill="none" stroke="#1a7fcc" stroke-width="1.3" stroke-linejoin="round" stroke-opacity="0.85"/>
<polyline points="432.1,304.2 433.7,308.6 435.3,311.1 436.9,310.8 438.5,313.8 440.1,313.6 441.8,312.2 443.4,313.8 445.0,310.9 446.6,311.2 448.2,312.0 449.8,313.4 451.4,312.9 453.0,315.0 454.6,312.4 456.2,313.8 457.8,313.4 459.4,314.8 461.1,314.6 462.7,316.0 464.3,314.3 465.9,314.6 467.5,314.3 469.1,315.8 470.7,314.3 472.3,313.9 473.9,314.8 475.5,316.0 477.1,318.0 478.7,316.9 480.4,316.1 482.0,318.8 483.6,316.9 485.2,317.9 486.8,315.5 488.4,317.0 490.0,318.4 491.6,318.8 493.2,318.7 494.8,321.6 496.4,320.6 498.0,318.8 499.7,321.8 501.3,322.3 502.9,321.7 504.5,321.8 506.1,320.5 507.7,320.1 509.3,320.0 510.9,320.4 512.5,319.9 514.1,322.4 515.7,322.0 517.3,321.9 519.0,321.2 520.6,321.9 522.2,322.1 523.8,322.6 525.4,322.0 527.0,322.0" fill="none" stroke="#1a7fcc" stroke-width="1.3" stroke-linejoin="round" stroke-opacity="0.85"/>
<polyline points="432.1,306.8 433.7,309.5 435.3,310.9 436.9,310.4 438.5,310.3 440.1,310.3 441.8,310.2 443.4,311.1 445.0,310.7 446.6,309.1 448.2,311.8 449.8,312.0 451.4,311.2 453.0,312.2 454.6,313.0 456.2,312.2 457.8,312.5 459.4,313.3 461.1,314.9 462.7,315.2 464.3,317.1 465.9,319.4 467.5,317.1 469.1,316.1 470.7,315.2 472.3,316.1 473.9,316.4 475.5,316.6 477.1,318.7 478.7,317.4 480.4,317.7 482.0,316.8 483.6,319.5 485.2,320.6 486.8,318.9 488.4,317.4 490.0,319.9 491.6,323.5 493.2,323.9 494.8,322.1 496.4,319.9 498.0,319.6 499.7,318.8 501.3,321.4 502.9,320.8 504.5,322.9 506.1,323.0 507.7,320.3 509.3,321.6 510.9,322.2 512.5,321.4 514.1,321.8 515.7,320.6 517.3,321.7 519.0,321.5 520.6,322.2 522.2,322.6 523.8,322.1 525.4,322.2" fill="none" stroke="#1a7fcc" stroke-width="1.3" stroke-linejoin="round" stroke-opacity="0.85"/>
<polyline points="432.1,305.3 433.7,306.3 435.3,310.2 436.9,310.3 438.5,308.8 440.1,310.6 441.8,309.7 443.4,309.5 445.0,309.3 446.6,313.0 448.2,313.0 449.8,314.3 451.4,314.0 453.0,314.8 454.6,312.9 456.2,313.1 457.8,312.6 459.4,314.9 461.1,315.2 462.7,313.6 464.3,317.1 465.9,317.9 467.5,317.0 469.1,314.8 470.7,314.5 472.3,315.5 473.9,317.3 475.5,317.3 477.1,317.7 478.7,316.1 480.4,317.3 482.0,317.5 483.6,317.5 485.2,319.3 486.8,318.5 488.4,317.9 490.0,320.0 491.6,321.6 493.2,321.2 494.8,321.9 496.4,321.8 498.0,324.1 499.7,322.6 501.3,322.2 502.9,324.3 504.5,322.7 506.1,323.5 507.7,321.0 509.3,320.4 510.9,320.4 512.5,320.8 514.1,321.5 515.7,321.9 517.3,322.5 519.0,322.1 520.6,322.8" fill="none" stroke="#1a7fcc" stroke-width="1.3" stroke-linejoin="round" stroke-opacity="0.85"/>
<polyline points="432.1,304.5 433.7,307.5 435.3,311.7 436.9,310.8 438.5,312.3 440.1,311.9 441.8,312.3 443.4,310.9 445.0,313.0 446.6,311.5 448.2,311.6 449.8,312.8 451.4,312.0 453.0,311.5 454.6,313.2 456.2,314.8 457.8,313.8 459.4,315.4 461.1,316.5 462.7,314.0 464.3,316.7 465.9,314.7 467.5,316.1 469.1,314.8 470.7,315.8 472.3,316.9 473.9,315.6 475.5,316.1 477.1,318.6 478.7,319.2 480.4,319.7 482.0,319.0 483.6,319.4 485.2,320.5 486.8,322.4 488.4,323.1 490.0,324.0 491.6,322.2 493.2,321.0 494.8,322.3 496.4,322.7 498.0,321.7 499.7,324.0 501.3,321.9 502.9,323.5 504.5,323.8 506.1,324.4 507.7,321.9 509.3,320.0 510.9,320.6 512.5,321.8 514.1,321.6 515.7,321.9 517.3,322.4 519.0,322.3" fill="none" stroke="#1a7fcc" stroke-width="1.3" stroke-linejoin="round" stroke-opacity="0.85"/>
<polyline points="432.1,306.8 433.7,308.6 435.3,311.6 436.9,313.2 438.5,311.7 440.1,309.1 441.8,310.3 443.4,311.3 445.0,311.3 446.6,311.3 448.2,310.7 449.8,310.9 451.4,310.5 453.0,311.0 454.6,313.5 456.2,312.8 457.8,315.2 459.4,316.3 461.1,315.9 462.7,313.5 464.3,314.4 465.9,315.1 467.5,315.7 469.1,316.4 470.7,316.6 472.3,316.7 473.9,316.7 475.5,317.3 477.1,317.9 478.7,315.8 480.4,317.4 482.0,318.6 483.6,318.5 485.2,320.4 486.8,321.5 488.4,322.3 490.0,321.0 491.6,320.2 493.2,318.9 494.8,319.2 496.4,320.0 498.0,320.6 499.7,321.4 501.3,321.5 502.9,321.7 504.5,319.8 506.1,320.5 507.7,319.9 509.3,320.4 510.9,321.8 512.5,321.4 514.1,321.3 515.7,321.6 517.3,320.8 519.0,321.9 520.6,322.0 522.2,322.1 523.8,322.1" fill="none" stroke="#1a7fcc" stroke-width="1.3" stroke-linejoin="round" stroke-opacity="0.85"/>
<polyline points="432.1,308.0 433.7,310.6 435.3,314.5 436.9,311.8 438.5,311.6 440.1,312.4 441.8,313.7 443.4,313.1 445.0,314.5 446.6,312.8 448.2,312.3 449.8,312.3 451.4,312.9 453.0,312.7 454.6,312.6 456.2,315.0 457.8,317.8 459.4,314.7 461.1,315.2 462.7,316.5 464.3,316.1 465.9,316.0 467.5,316.1 469.1,316.7 470.7,319.1 472.3,319.6 473.9,319.8 475.5,318.6 477.1,319.2 478.7,317.1 480.4,319.2 482.0,318.5 483.6,319.7 485.2,318.4 486.8,320.7 488.4,320.1 490.0,320.4 491.6,321.8 493.2,321.0 494.8,322.5 496.4,322.9 498.0,322.1 499.7,322.5 501.3,323.4 502.9,323.1 504.5,321.9 506.1,321.9 507.7,322.5 509.3,323.4 510.9,324.0 512.5,323.3 514.1,323.0 515.7,322.3 517.3,324.0 519.0,323.6 520.6,323.1" fill="none" stroke="#1a7fcc" stroke-width="1.3" stroke-linejoin="round" stroke-opacity="0.85"/>
<polyline points="432.1,305.8 433.7,308.9 435.3,310.5 436.9,310.4 438.5,312.2 440.1,310.8 441.8,312.7 443.4,311.9 445.0,311.8 446.6,312.7 448.2,313.3 449.8,313.5 451.4,316.0 453.0,315.7 454.6,313.6 456.2,314.2 457.8,315.0 459.4,315.1 461.1,314.7 462.7,316.9 464.3,317.9 465.9,318.2 467.5,319.2 469.1,317.8 470.7,319.3 472.3,319.2 473.9,317.9 475.5,320.9 477.1,319.9 478.7,322.0 480.4,321.0 482.0,320.2 483.6,319.4 485.2,319.9 486.8,318.9 488.4,319.5 490.0,319.8 491.6,319.3 493.2,321.4 494.8,320.2 496.4,320.4 498.0,321.9 499.7,324.6 501.3,323.6 502.9,322.1 504.5,322.6 506.1,322.0 507.7,322.9 509.3,323.5 510.9,321.9 512.5,322.5 514.1,321.2 515.7,320.8 517.3,321.6 519.0,322.1" fill="none" stroke="#1a7fcc" stroke-width="1.3" stroke-linejoin="round" stroke-opacity="0.85"/>
<polyline points="432.1,304.2 433.7,306.9 435.3,311.2 436.9,312.2 438.5,313.5 440.1,313.8 441.8,313.6 443.4,312.7 445.0,310.6 446.6,314.2 448.2,313.0 449.8,312.5 451.4,312.6 453.0,313.3 454.6,315.3 456.2,316.4 457.8,315.7 459.4,315.9 461.1,315.5 462.7,316.6 464.3,318.6 465.9,317.6 467.5,318.0 469.1,315.5 470.7,317.5 472.3,317.9 473.9,317.2 475.5,315.6 477.1,318.6 478.7,318.5 480.4,320.4 482.0,320.0 483.6,320.1 485.2,320.7 486.8,321.4 488.4,320.9 490.0,322.0 491.6,323.2 493.2,322.8 494.8,324.5 496.4,322.9 498.0,323.6 499.7,324.7 501.3,323.9 502.9,323.5 504.5,325.0 506.1,325.7 507.7,322.8 509.3,322.5 510.9,321.3 512.5,323.0 514.1,324.1 515.7,322.8 517.3,322.3 519.0,322.5 520.6,323.4 522.2,323.3 523.8,323.5 525.4,323.4" fill="none" stroke="#1a7fcc" stroke-width="1.3" stroke-linejoin="round" stroke-opacity="0.85"/>
<polyline points="432.1,305.7 433.7,307.8 435.3,311.2 436.9,313.5 438.5,311.2 440.1,313.8 441.8,315.0 443.4,314.5 445.0,313.8 446.6,314.7 448.2,313.0 449.8,314.8 451.4,317.3 453.0,315.8 454.6,315.2 456.2,315.6 457.8,314.5 459.4,316.9 461.1,316.2 462.7,314.3 464.3,315.2 465.9,317.1 467.5,318.7 469.1,319.7 470.7,319.5 472.3,318.2 473.9,319.4 475.5,319.5 477.1,318.6 478.7,318.6 480.4,318.5 482.0,319.2 483.6,317.2 485.2,318.0 486.8,321.1 488.4,320.9 490.0,321.2 491.6,321.2 493.2,319.1 494.8,320.2 496.4,322.3 498.0,323.7 499.7,324.1 501.3,324.3 502.9,322.4 504.5,321.5 506.1,321.9 507.7,321.7 509.3,321.6 510.9,321.2 512.5,321.8 514.1,322.4 515.7,323.1 517.3,322.0 519.0,322.2 520.6,322.9 522.2,322.7" fill="none" stroke="#1a7fcc" stroke-width="1.3" stroke-linejoin="round" stroke-opacity="0.85"/>
<polyline points="432.1,306.6 433.7,308.8 435.3,312.0 436.9,312.1 438.5,313.5 440.1,315.3 441.8,315.1 443.4,314.9 445.0,315.7 446.6,315.9 448.2,317.3 449.8,318.3 451.4,317.0 453.0,313.3 454.6,313.7 456.2,314.0 457.8,315.1 459.4,314.2 461.1,316.6 462.7,317.0 464.3,317.4 465.9,319.0 467.5,318.5 469.1,319.8 470.7,318.7 472.3,317.8 473.9,318.7 475.5,320.4 477.1,321.0 478.7,321.5 480.4,320.9 482.0,319.3 483.6,320.5 485.2,320.6 486.8,319.8 488.4,322.8 490.0,320.7 491.6,321.1 493.2,320.7 494.8,320.4 496.4,322.9 498.0,321.0 499.7,321.3 501.3,322.2 502.9,322.1 504.5,322.8 506.1,323.5 507.7,323.1 509.3,323.9 510.9,323.8 512.5,321.3 514.1,320.7" fill="none" stroke="#1a7fcc" stroke-width="1.3" stroke-linejoin="round" stroke-opacity="0.85"/>
<polyline points="432.1,307.5 433.7,311.3 435.3,312.3 436.9,312.0 438.5,312.8 440.1,313.4 441.8,314.1 443.4,313.7 445.0,316.2 446.6,315.4 448.2,314.7 449.8,314.0 451.4,316.3 453.0,317.1 454.6,319.0 456.2,316.6 457.8,316.0 459.4,316.5 461.1,318.4 462.7,318.6 464.3,318.9 465.9,318.4 467.5,318.8 469.1,319.9 470.7,318.8 472.3,320.5 473.9,321.4 475.5,322.4 477.1,319.4 478.7,319.0 480.4,320.4 482.0,320.4 483.6,321.2 485.2,321.2 486.8,319.7 488.4,319.7 490.0,321.8 491.6,321.9 493.2,323.1 494.8,324.2 496.4,324.2 498.0,323.5 499.7,322.2 501.3,324.3 502.9,324.0 504.5,323.6 506.1,321.0 507.7,321.4 509.3,321.0 510.9,320.9 512.5,321.0 514.1,320.5 515.7,322.3 517.3,322.6 519.0,322.6 520.6,323.6 522.2,323.9 523.8,323.6 525.4,323.1" fill="none" stroke="#1a7fcc" stroke-width="1.3" stroke-linejoin="round" stroke-opacity="0.85"/>
<polyline points="432.1,306.0 433.7,307.5 435.3,311.8 436.9,312.3 438.5,313.8 440.1,313.4 441.8,312.6 443.4,312.8 445.0,314.3 446.6,315.5 448.2,316.4 449.8,315.4 451.4,316.4 453.0,315.7 454.6,314.4 456.2,316.3 457.8,317.2 459.4,318.2 461.1,318.3 462.7,315.6 464.3,317.0 465.9,317.9 467.5,316.5 469.1,320.1 470.7,320.7 472.3,319.4 473.9,320.2 475.5,319.1 477.1,319.1 478.7,319.2 480.4,320.7 482.0,322.1 483.6,321.1 485.2,322.4 486.8,323.3 488.4,324.7 490.0,323.9 491.6,323.7 493.2,325.0 494.8,325.5 496.4,324.6 498.0,325.9 499.7,324.9 501.3,323.9 502.9,323.6 504.5,321.4 506.1,320.3 507.7,322.4 509.3,321.8 510.9,323.7 512.5,322.8 514.1,323.7 515.7,323.5 517.3,322.9 519.0,322.3 520.6,323.1 522.2,322.7 523.8,322.7 525.4,322.6 527.0,322.6" fill="none" stroke="#1a7fcc" stroke-width="1.3" stroke-linejoin="round" stroke-opacity="0.85"/>
<polyline points="432.1,309.3 433.7,310.2 435.3,313.1 436.9,315.1 438.5,316.6 440.1,316.2 441.8,317.2 443.4,317.2 445.0,318.7 446.6,317.5 448.2,316.5 449.8,317.0 451.4,314.9 453.0,316.2 454.6,317.7 456.2,319.0 457.8,320.3 459.4,320.0 461.1,317.5 462.7,317.5 464.3,320.5 465.9,321.6 467.5,322.9 469.1,321.6 470.7,324.1 472.3,323.2 473.9,320.2 475.5,318.7 477.1,319.9 478.7,320.8 480.4,320.6 482.0,321.0 483.6,321.6 485.2,320.2 486.8,321.4 488.4,321.3 490.0,319.9 491.6,322.4 493.2,322.2 494.8,320.6 496.4,323.0 498.0,324.0 499.7,321.8 501.3,322.0 502.9,320.8 504.5,322.8 506.1,320.6 507.7,321.0 509.3,321.2 510.9,325.0 512.5,327.0 514.1,325.0 515.7,323.7 517.3,324.0 519.0,324.5 520.6,323.4 522.2,323.0 523.8,323.1" fill="none" stroke="#1a7fcc" stroke-width="1.3" stroke-linejoin="round" stroke-opacity="0.85"/>
<polyline points="432.1,308.2 433.7,312.3 435.3,315.8 436.9,314.6 438.5,315.2 440.1,312.1 441.8,313.2 443.4,314.4 445.0,314.4 446.6,314.7 448.2,316.1 449.8,316.5 451.4,314.5 453.0,313.9 454.6,315.1 456.2,314.9 457.8,315.1 459.4,315.5 461.1,315.6 462.7,317.1 464.3,317.7 465.9,322.8 467.5,322.1 469.1,324.0 470.7,321.3 472.3,320.7 473.9,319.6 475.5,321.9 477.1,322.3 478.7,321.6 480.4,321.7 482.0,322.8 483.6,324.0 485.2,321.8 486.8,322.6 488.4,324.6 490.0,327.1 491.6,326.2 493.2,324.5 494.8,325.4 496.4,325.5 498.0,325.4 499.7,324.2 501.3,324.0 502.9,322.1 504.5,321.8 506.1,320.5 507.7,322.6 509.3,322.3 510.9,322.2 512.5,321.7 514.1,323.1" fill="none" stroke="#1a7fcc" stroke-width="1.3" stroke-linejoin="round" stroke-opacity="0.85"/>
<polyline points="432.1,307.3 433.7,311.0 435.3,314.6 436.9,314.8 438.5,315.0 440.1,314.6 441.8,314.6 443.4,315.2 445.0,313.7 446.6,316.1 448.2,315.5 449.8,315.7 451.4,315.1 453.0,316.5 454.6,317.0 456.2,316.3 457.8,317.2 459.4,320.0 461.1,315.4 462.7,319.3 464.3,320.6 465.9,321.6 467.5,321.6 469.1,322.8 470.7,321.6 472.3,322.4 473.9,322.3 475.5,320.9 477.1,319.4 478.7,319.7 480.4,319.8 482.0,320.0 483.6,319.4 485.2,319.8 486.8,324.1 488.4,323.1 490.0,323.1 491.6,325.3 493.2,325.8 494.8,324.1 496.4,323.8 498.0,324.4 499.7,322.7 501.3,325.1 502.9,325.8 504.5,326.4 506.1,324.7 507.7,323.6 509.3,322.8 510.9,323.2 512.5,323.4 514.1,323.1 515.7,324.1 517.3,323.3 519.0,323.5 520.6,323.0 522.2,323.2 523.8,322.9" fill="none" stroke="#1a7fcc" stroke-width="1.3" stroke-linejoin="round" stroke-opacity="0.85"/>
<polyline points="432.1,305.3 433.7,308.6 435.3,313.9 436.9,313.2 438.5,314.5 440.1,316.3 441.8,315.7 443.4,313.7 445.0,314.1 446.6,315.5 448.2,315.7 449.8,316.1 451.4,314.9 453.0,317.7 454.6,318.1 456.2,317.4 457.8,317.3 459.4,316.7 461.1,315.5 462.7,317.1 464.3,317.6 465.9,319.5 467.5,321.8 469.1,320.2 470.7,320.9 472.3,320.0 473.9,320.9 475.5,319.2 477.1,320.9 478.7,320.1 480.4,322.3 482.0,324.4 483.6,322.3 485.2,322.9 486.8,322.9 488.4,321.7 490.0,322.2 491.6,323.1 493.2,323.6 494.8,324.1 496.4,325.8 498.0,324.6 499.7,323.7 501.3,325.1 502.9,325.1 504.5,325.4 506.1,323.6 507.7,325.4 509.3,320.9 510.9,321.9 512.5,322.9 514.1,322.0 515.7,324.1 517.3,322.9 519.0,322.0 520.6,322.9 522.2,322.5" fill="none" stroke="#1a7fcc" stroke-width="1.3" stroke-linejoin="round" stroke-opacity="0.85"/>
<polyline points="432.1,308.7 433.7,311.1 435.3,314.3 436.9,312.6 438.5,314.1 440.1,315.2 441.8,317.2 443.4,317.2 445.0,317.4 446.6,318.2 448.2,318.0 449.8,316.6 451.4,315.9 453.0,317.9 454.6,317.7 456.2,317.5 457.8,317.4 459.4,316.7 461.1,314.8 462.7,315.2 464.3,319.3 465.9,321.1 467.5,319.2 469.1,320.1 470.7,320.3 472.3,320.0 473.9,320.2 475.5,318.9 477.1,317.5 478.7,317.3 480.4,320.1 482.0,321.3 483.6,322.6 485.2,322.3 486.8,322.4 488.4,324.9 490.0,328.4 491.6,326.9 493.2,328.0 494.8,326.4 496.4,328.3 498.0,324.3 499.7,325.2 501.3,325.2 502.9,325.6 504.5,324.7 506.1,322.4 507.7,324.8 509.3,322.7 510.9,324.5 512.5,323.6 514.1,324.4 515.7,323.8 517.3,323.0 519.0,323.8 520.6,323.6 522.2,322.9 523.8,322.8" fill="none" stroke="#1a7fcc" stroke-width="1.3" stroke-linejoin="round" stroke-opacity="0.85"/>
<polyline points="432.1,310.7 433.7,313.0 435.3,315.2 436.9,317.1 438.5,318.1 440.1,316.8 441.8,315.5 443.4,317.5 445.0,316.7 446.6,317.9 448.2,317.0 449.8,317.1 451.4,316.5 453.0,317.5 454.6,319.4 456.2,319.2 457.8,321.3 459.4,321.6 461.1,320.4 462.7,320.7 464.3,320.7 465.9,322.4 467.5,321.5 469.1,322.3 470.7,322.5 472.3,322.8 473.9,320.9 475.5,319.5 477.1,319.9 478.7,321.0 480.4,322.8 482.0,321.6 483.6,321.3 485.2,322.1 486.8,322.0 488.4,324.0 490.0,323.2 491.6,325.5 493.2,325.2 494.8,324.6 496.4,322.6 498.0,324.2 499.7,324.8 501.3,324.0 502.9,325.4 504.5,324.2 506.1,324.2 507.7,323.5 509.3,322.8 510.9,326.0 512.5,325.5 514.1,324.1 515.7,323.5 517.3,323.5 519.0,323.1 520.6,322.7 522.2,322.3 523.8,322.6 525.4,322.7" fill="none" stroke="#1a7fcc" stroke-width="1.3" stroke-linejoin="round" stroke-opacity="0.85"/>
<polyline points="432.1,306.9 433.7,309.5 435.3,312.0 436.9,314.6 438.5,313.5 440.1,315.5 441.8,316.4 443.4,315.7 445.0,315.8 446.6,317.6 448.2,318.3 449.8,319.3 451.4,318.6 453.0,319.4 454.6,321.0 456.2,320.3 457.8,320.1 459.4,319.2 461.1,318.5 462.7,319.4 464.3,322.2 465.9,321.4 467.5,322.5 469.1,322.0 470.7,321.4 472.3,320.3 473.9,320.9 475.5,324.0 477.1,322.8 478.7,321.6 480.4,321.2 482.0,321.1 483.6,320.8 485.2,321.4 486.8,325.2 488.4,324.8 490.0,325.4 491.6,325.6 493.2,324.7 494.8,326.3 496.4,326.8 498.0,326.1 499.7,325.1 501.3,326.0 502.9,325.9 504.5,324.8 506.1,323.8 507.7,323.1 509.3,323.7 510.9,322.5 512.5,322.6 514.1,323.7 515.7,324.4 517.3,322.9 519.0,322.8 520.6,322.7 522.2,323.0 523.8,323.4" fill="none" stroke="#1a7fcc" stroke-width="1.3" stroke-linejoin="round" stroke-opacity="0.85"/>
<polyline points="432.1,309.9 433.7,315.0 435.3,317.5 436.9,316.0 438.5,315.2 440.1,316.9 441.8,317.0 443.4,315.7 445.0,317.4 446.6,318.8 448.2,318.4 449.8,320.8 451.4,319.1 453.0,318.0 454.6,318.5 456.2,319.0 457.8,319.8 459.4,319.9 461.1,319.2 462.7,321.5 464.3,320.0 465.9,322.0 467.5,320.5 469.1,320.0 470.7,321.6 472.3,323.3 473.9,323.1 475.5,325.0 477.1,324.1 478.7,324.8 480.4,323.6 482.0,324.5 483.6,325.9 485.2,323.9 486.8,323.1 488.4,323.7 490.0,323.2 491.6,325.4 493.2,326.1 494.8,326.7 496.4,325.5 498.0,324.0 499.7,327.5 501.3,325.4 502.9,324.5 504.5,326.4 506.1,325.8 507.7,325.6 509.3,324.9 510.9,322.4 512.5,324.2 514.1,323.6 515.7,321.5 517.3,322.6 519.0,322.7 520.6,323.2 522.2,322.5 523.8,322.5" fill="none" stroke="#1a7fcc" stroke-width="1.3" stroke-linejoin="round" stroke-opacity="0.85"/>
<polyline points="432.1,311.0 433.7,313.4 435.3,318.3 436.9,316.2 438.5,316.7 440.1,316.8 441.8,318.1 443.4,318.2 445.0,318.8 446.6,319.5 448.2,318.1 449.8,318.5 451.4,318.0 453.0,318.4 454.6,319.9 456.2,319.2 457.8,320.6 459.4,322.0 461.1,320.5 462.7,321.5 464.3,321.6 465.9,320.6 467.5,321.8 469.1,320.6 470.7,321.5 472.3,322.6 473.9,324.0 475.5,324.4 477.1,325.7 478.7,322.3 480.4,322.9 482.0,326.3 483.6,327.8 485.2,326.0 486.8,325.0 488.4,324.7 490.0,322.7 491.6,324.4 493.2,325.5 494.8,324.8 496.4,327.4 498.0,326.4 499.7,324.8 501.3,324.3 502.9,325.5 504.5,326.4 506.1,325.2 507.7,323.6 509.3,323.6 510.9,323.4 512.5,324.3 514.1,323.7 515.7,323.9 517.3,324.1 519.0,324.6 520.6,323.8" fill="none" stroke="#1a7fcc" stroke-width="1.3" stroke-linejoin="round" stroke-opacity="0.85"/>
<polyline points="432.1,310.6 433.7,313.9 435.3,315.8 436.9,316.1 438.5,317.1 440.1,317.2 441.8,317.3 443.4,317.4 445.0,318.1 446.6,319.3 448.2,319.2 449.8,321.7 451.4,320.5 453.0,319.9 454.6,318.4 456.2,318.4 457.8,316.4 459.4,316.9 461.1,320.9 462.7,321.4 464.3,320.3 465.9,320.1 467.5,319.5 469.1,320.9 470.7,320.2 472.3,321.0 473.9,320.6 475.5,323.3 477.1,324.6 478.7,325.5 480.4,325.3 482.0,324.2 483.6,324.2 485.2,324.1 486.8,326.7 488.4,326.4 490.0,325.4 491.6,326.1 493.2,325.3 494.8,325.9 496.4,324.0 498.0,324.7 499.7,325.1 501.3,325.7 502.9,325.6 504.5,324.8 506.1,323.7 507.7,325.2 509.3,325.8 510.9,324.4 512.5,323.1 514.1,323.6" fill="none" stroke="#1a7fcc" stroke-width="1.3" stroke-linejoin="round" stroke-opacity="0.85"/>
</g>
<g clip-path="url(#ca0)"><circle cx="45.7" cy="233.0" r="3.2" fill="#000"/></g>
<g clip-path="url(#cg0)"><circle cx="45.7" cy="295.9" r="3.2" fill="#000"/></g>
<g clip-path="url(#ca1)"><circle cx="233.2" cy="239.2" r="3.2" fill="#000"/></g>
<g clip-path="url(#cg1)"><circle cx="233.3" cy="293.9" r="3.2" fill="#000"/></g>
<g clip-path="url(#ca2)"><circle cx="425.6" cy="243.7" r="3.2" fill="#000"/></g>
<g clip-path="url(#cg2)"><circle cx="425.7" cy="296.2" r="3.2" fill="#000"/></g>
<rect x="45.5" y="40.4" width="160.00" height="143.30" fill="none" stroke="#1e1e1e" stroke-width="1.15"/>
<line x1="45.50" y1="183.70" x2="45.50" y2="187.20" stroke="#1e1e1e" stroke-width="1.15"/>
<line x1="77.50" y1="183.70" x2="77.50" y2="187.20" stroke="#1e1e1e" stroke-width="1.15"/>
<line x1="109.50" y1="183.70" x2="109.50" y2="187.20" stroke="#1e1e1e" stroke-width="1.15"/>
<line x1="141.50" y1="183.70" x2="141.50" y2="187.20" stroke="#1e1e1e" stroke-width="1.15"/>
<line x1="173.50" y1="183.70" x2="173.50" y2="187.20" stroke="#1e1e1e" stroke-width="1.15"/>
<line x1="205.50" y1="183.70" x2="205.50" y2="187.20" stroke="#1e1e1e" stroke-width="1.15"/>
<line x1="42.00" y1="40.40" x2="45.50" y2="40.40" stroke="#1e1e1e" stroke-width="1.15"/>
<line x1="42.00" y1="72.40" x2="45.50" y2="72.40" stroke="#1e1e1e" stroke-width="1.15"/>
<line x1="42.00" y1="104.40" x2="45.50" y2="104.40" stroke="#1e1e1e" stroke-width="1.15"/>
<line x1="42.00" y1="136.40" x2="45.50" y2="136.40" stroke="#1e1e1e" stroke-width="1.15"/>
<line x1="42.00" y1="168.40" x2="45.50" y2="168.40" stroke="#1e1e1e" stroke-width="1.15"/>
<rect x="45.5" y="231.0" width="160.00" height="39.70" fill="none" stroke="#1e1e1e" stroke-width="1.15"/>
<rect x="45.5" y="289.5" width="160.00" height="40.10" fill="none" stroke="#1e1e1e" stroke-width="1.15"/>
<line x1="45.70" y1="270.70" x2="45.70" y2="274.20" stroke="#1e1e1e" stroke-width="1.15"/>
<line x1="45.70" y1="329.60" x2="45.70" y2="333.10" stroke="#1e1e1e" stroke-width="1.15"/>
<line x1="83.70" y1="270.70" x2="83.70" y2="274.20" stroke="#1e1e1e" stroke-width="1.15"/>
<line x1="83.70" y1="329.60" x2="83.70" y2="333.10" stroke="#1e1e1e" stroke-width="1.15"/>
<line x1="121.70" y1="270.70" x2="121.70" y2="274.20" stroke="#1e1e1e" stroke-width="1.15"/>
<line x1="121.70" y1="329.60" x2="121.70" y2="333.10" stroke="#1e1e1e" stroke-width="1.15"/>
<line x1="159.70" y1="270.70" x2="159.70" y2="274.20" stroke="#1e1e1e" stroke-width="1.15"/>
<line x1="159.70" y1="329.60" x2="159.70" y2="333.10" stroke="#1e1e1e" stroke-width="1.15"/>
<line x1="197.70" y1="270.70" x2="197.70" y2="274.20" stroke="#1e1e1e" stroke-width="1.15"/>
<line x1="197.70" y1="329.60" x2="197.70" y2="333.10" stroke="#1e1e1e" stroke-width="1.15"/>
<line x1="42.00" y1="249.70" x2="45.50" y2="249.70" stroke="#1e1e1e" stroke-width="1.15"/>
<line x1="42.00" y1="269.50" x2="45.50" y2="269.50" stroke="#1e1e1e" stroke-width="1.15"/>
<line x1="42.00" y1="300.50" x2="45.50" y2="300.50" stroke="#1e1e1e" stroke-width="1.15"/>
<line x1="42.00" y1="317.30" x2="45.50" y2="317.30" stroke="#1e1e1e" stroke-width="1.15"/>
<rect x="213.4" y="40.4" width="160.00" height="143.30" fill="none" stroke="#1e1e1e" stroke-width="1.15"/>
<line x1="213.40" y1="183.70" x2="213.40" y2="187.20" stroke="#1e1e1e" stroke-width="1.15"/>
<line x1="245.40" y1="183.70" x2="245.40" y2="187.20" stroke="#1e1e1e" stroke-width="1.15"/>
<line x1="277.40" y1="183.70" x2="277.40" y2="187.20" stroke="#1e1e1e" stroke-width="1.15"/>
<line x1="309.40" y1="183.70" x2="309.40" y2="187.20" stroke="#1e1e1e" stroke-width="1.15"/>
<line x1="341.40" y1="183.70" x2="341.40" y2="187.20" stroke="#1e1e1e" stroke-width="1.15"/>
<line x1="373.40" y1="183.70" x2="373.40" y2="187.20" stroke="#1e1e1e" stroke-width="1.15"/>
<line x1="209.90" y1="40.40" x2="213.40" y2="40.40" stroke="#1e1e1e" stroke-width="1.15"/>
<line x1="209.90" y1="72.40" x2="213.40" y2="72.40" stroke="#1e1e1e" stroke-width="1.15"/>
<line x1="209.90" y1="104.40" x2="213.40" y2="104.40" stroke="#1e1e1e" stroke-width="1.15"/>
<line x1="209.90" y1="136.40" x2="213.40" y2="136.40" stroke="#1e1e1e" stroke-width="1.15"/>
<line x1="209.90" y1="168.40" x2="213.40" y2="168.40" stroke="#1e1e1e" stroke-width="1.15"/>
<rect x="213.4" y="231.0" width="160.00" height="39.70" fill="none" stroke="#1e1e1e" stroke-width="1.15"/>
<rect x="213.4" y="289.5" width="160.00" height="40.10" fill="none" stroke="#1e1e1e" stroke-width="1.15"/>
<line x1="213.60" y1="270.70" x2="213.60" y2="274.20" stroke="#1e1e1e" stroke-width="1.15"/>
<line x1="213.60" y1="329.60" x2="213.60" y2="333.10" stroke="#1e1e1e" stroke-width="1.15"/>
<line x1="251.60" y1="270.70" x2="251.60" y2="274.20" stroke="#1e1e1e" stroke-width="1.15"/>
<line x1="251.60" y1="329.60" x2="251.60" y2="333.10" stroke="#1e1e1e" stroke-width="1.15"/>
<line x1="289.60" y1="270.70" x2="289.60" y2="274.20" stroke="#1e1e1e" stroke-width="1.15"/>
<line x1="289.60" y1="329.60" x2="289.60" y2="333.10" stroke="#1e1e1e" stroke-width="1.15"/>
<line x1="327.60" y1="270.70" x2="327.60" y2="274.20" stroke="#1e1e1e" stroke-width="1.15"/>
<line x1="327.60" y1="329.60" x2="327.60" y2="333.10" stroke="#1e1e1e" stroke-width="1.15"/>
<line x1="365.60" y1="270.70" x2="365.60" y2="274.20" stroke="#1e1e1e" stroke-width="1.15"/>
<line x1="365.60" y1="329.60" x2="365.60" y2="333.10" stroke="#1e1e1e" stroke-width="1.15"/>
<line x1="209.90" y1="249.70" x2="213.40" y2="249.70" stroke="#1e1e1e" stroke-width="1.15"/>
<line x1="209.90" y1="269.50" x2="213.40" y2="269.50" stroke="#1e1e1e" stroke-width="1.15"/>
<line x1="209.90" y1="300.50" x2="213.40" y2="300.50" stroke="#1e1e1e" stroke-width="1.15"/>
<line x1="209.90" y1="317.30" x2="213.40" y2="317.30" stroke="#1e1e1e" stroke-width="1.15"/>
<rect x="380.6" y="40.4" width="160.00" height="143.30" fill="none" stroke="#1e1e1e" stroke-width="1.15"/>
<line x1="380.60" y1="183.70" x2="380.60" y2="187.20" stroke="#1e1e1e" stroke-width="1.15"/>
<line x1="412.60" y1="183.70" x2="412.60" y2="187.20" stroke="#1e1e1e" stroke-width="1.15"/>
<line x1="444.60" y1="183.70" x2="444.60" y2="187.20" stroke="#1e1e1e" stroke-width="1.15"/>
<line x1="476.60" y1="183.70" x2="476.60" y2="187.20" stroke="#1e1e1e" stroke-width="1.15"/>
<line x1="508.60" y1="183.70" x2="508.60" y2="187.20" stroke="#1e1e1e" stroke-width="1.15"/>
<line x1="540.60" y1="183.70" x2="540.60" y2="187.20" stroke="#1e1e1e" stroke-width="1.15"/>
<line x1="377.10" y1="40.40" x2="380.60" y2="40.40" stroke="#1e1e1e" stroke-width="1.15"/>
<line x1="377.10" y1="72.40" x2="380.60" y2="72.40" stroke="#1e1e1e" stroke-width="1.15"/>
<line x1="377.10" y1="104.40" x2="380.60" y2="104.40" stroke="#1e1e1e" stroke-width="1.15"/>
<line x1="377.10" y1="136.40" x2="380.60" y2="136.40" stroke="#1e1e1e" stroke-width="1.15"/>
<line x1="377.10" y1="168.40" x2="380.60" y2="168.40" stroke="#1e1e1e" stroke-width="1.15"/>
<rect x="380.6" y="231.0" width="160.00" height="39.70" fill="none" stroke="#1e1e1e" stroke-width="1.15"/>
<rect x="380.6" y="289.5" width="160.00" height="40.10" fill="none" stroke="#1e1e1e" stroke-width="1.15"/>
<line x1="380.80" y1="270.70" x2="380.80" y2="274.20" stroke="#1e1e1e" stroke-width="1.15"/>
<line x1="380.80" y1="329.60" x2="380.80" y2="333.10" stroke="#1e1e1e" stroke-width="1.15"/>
<line x1="418.80" y1="270.70" x2="418.80" y2="274.20" stroke="#1e1e1e" stroke-width="1.15"/>
<line x1="418.80" y1="329.60" x2="418.80" y2="333.10" stroke="#1e1e1e" stroke-width="1.15"/>
<line x1="456.80" y1="270.70" x2="456.80" y2="274.20" stroke="#1e1e1e" stroke-width="1.15"/>
<line x1="456.80" y1="329.60" x2="456.80" y2="333.10" stroke="#1e1e1e" stroke-width="1.15"/>
<line x1="494.80" y1="270.70" x2="494.80" y2="274.20" stroke="#1e1e1e" stroke-width="1.15"/>
<line x1="494.80" y1="329.60" x2="494.80" y2="333.10" stroke="#1e1e1e" stroke-width="1.15"/>
<line x1="532.80" y1="270.70" x2="532.80" y2="274.20" stroke="#1e1e1e" stroke-width="1.15"/>
<line x1="532.80" y1="329.60" x2="532.80" y2="333.10" stroke="#1e1e1e" stroke-width="1.15"/>
<line x1="377.10" y1="249.70" x2="380.60" y2="249.70" stroke="#1e1e1e" stroke-width="1.15"/>
<line x1="377.10" y1="269.50" x2="380.60" y2="269.50" stroke="#1e1e1e" stroke-width="1.15"/>
<line x1="377.10" y1="300.50" x2="380.60" y2="300.50" stroke="#1e1e1e" stroke-width="1.15"/>
<line x1="377.10" y1="317.30" x2="380.60" y2="317.30" stroke="#1e1e1e" stroke-width="1.15"/>
<clipPath id="cl0"><rect x="0" y="0" width="209.20000000000002" height="379"/></clipPath>
<g clip-path="url(#cl0)">
<text x="45.50" y="197.60" font-size="9.5" text-anchor="middle" stroke="#111" stroke-width="0.15" >112.0</text>
<text x="77.50" y="197.60" font-size="9.5" text-anchor="middle" stroke="#111" stroke-width="0.15" >112.5</text>
<text x="109.50" y="197.60" font-size="9.5" text-anchor="middle" stroke="#111" stroke-width="0.15" >113.0</text>
<text x="141.50" y="197.60" font-size="9.5" text-anchor="middle" stroke="#111" stroke-width="0.15" >113.5</text>
<text x="173.50" y="197.60" font-size="9.5" text-anchor="middle" stroke="#111" stroke-width="0.15" >114.0</text>
<text x="205.50" y="197.60" font-size="9.5" text-anchor="middle" stroke="#111" stroke-width="0.15" >114.5</text>
<text x="45.70" y="342.80" font-size="9.5" text-anchor="middle" stroke="#111" stroke-width="0.15" >0</text>
<text x="83.70" y="342.80" font-size="9.5" text-anchor="middle" stroke="#111" stroke-width="0.15" >500</text>
<text x="121.70" y="342.80" font-size="9.5" text-anchor="middle" stroke="#111" stroke-width="0.15" >1000</text>
<text x="159.70" y="342.80" font-size="9.5" text-anchor="middle" stroke="#111" stroke-width="0.15" >1500</text>
<text x="197.70" y="342.80" font-size="9.5" text-anchor="middle" stroke="#111" stroke-width="0.15" >2000</text>
</g>
<text x="125.50" y="209.50" font-size="9.5" text-anchor="middle" stroke="#111" stroke-width="0.15" >Longitude (degree)</text>
<text x="125.50" y="356.20" font-size="9.5" text-anchor="middle" stroke="#111" stroke-width="0.15" >Flight Time (seconds)</text>
<clipPath id="cl1"><rect x="209.20000000000002" y="0" width="167.20000000000002" height="379"/></clipPath>
<g clip-path="url(#cl1)">
<text x="213.40" y="197.60" font-size="9.5" text-anchor="middle" stroke="#111" stroke-width="0.15" >112.0</text>
<text x="245.40" y="197.60" font-size="9.5" text-anchor="middle" stroke="#111" stroke-width="0.15" >112.5</text>
<text x="277.40" y="197.60" font-size="9.5" text-anchor="middle" stroke="#111" stroke-width="0.15" >113.0</text>
<text x="309.40" y="197.60" font-size="9.5" text-anchor="middle" stroke="#111" stroke-width="0.15" >113.5</text>
<text x="341.40" y="197.60" font-size="9.5" text-anchor="middle" stroke="#111" stroke-width="0.15" >114.0</text>
<text x="373.40" y="197.60" font-size="9.5" text-anchor="middle" stroke="#111" stroke-width="0.15" >114.5</text>
<text x="213.60" y="342.80" font-size="9.5" text-anchor="middle" stroke="#111" stroke-width="0.15" >0</text>
<text x="251.60" y="342.80" font-size="9.5" text-anchor="middle" stroke="#111" stroke-width="0.15" >500</text>
<text x="289.60" y="342.80" font-size="9.5" text-anchor="middle" stroke="#111" stroke-width="0.15" >1000</text>
<text x="327.60" y="342.80" font-size="9.5" text-anchor="middle" stroke="#111" stroke-width="0.15" >1500</text>
<text x="365.60" y="342.80" font-size="9.5" text-anchor="middle" stroke="#111" stroke-width="0.15" >2000</text>
</g>
<text x="293.40" y="209.50" font-size="9.5" text-anchor="middle" stroke="#111" stroke-width="0.15" >Longitude (degree)</text>
<text x="293.40" y="356.20" font-size="9.5" text-anchor="middle" stroke="#111" stroke-width="0.15" >Flight Time (seconds)</text>
<clipPath id="cl2"><rect x="376.40000000000003" y="0" width="166.59999999999997" height="379"/></clipPath>
<g clip-path="url(#cl2)">
<text x="380.60" y="197.60" font-size="9.5" text-anchor="middle" stroke="#111" stroke-width="0.15" >112.0</text>
<text x="412.60" y="197.60" font-size="9.5" text-anchor="middle" stroke="#111" stroke-width="0.15" >112.5</text>
<text x="444.60" y="197.60" font-size="9.5" text-anchor="middle" stroke="#111" stroke-width="0.15" >113.0</text>
<text x="476.60" y="197.60" font-size="9.5" text-anchor="middle" stroke="#111" stroke-width="0.15" >113.5</text>
<text x="508.60" y="197.60" font-size="9.5" text-anchor="middle" stroke="#111" stroke-width="0.15" >114.0</text>
<text x="540.60" y="197.60" font-size="9.5" text-anchor="middle" stroke="#111" stroke-width="0.15" >114.5</text>
<text x="380.80" y="342.80" font-size="9.5" text-anchor="middle" stroke="#111" stroke-width="0.15" >0</text>
<text x="418.80" y="342.80" font-size="9.5" text-anchor="middle" stroke="#111" stroke-width="0.15" >500</text>
<text x="456.80" y="342.80" font-size="9.5" text-anchor="middle" stroke="#111" stroke-width="0.15" >1000</text>
<text x="494.80" y="342.80" font-size="9.5" text-anchor="middle" stroke="#111" stroke-width="0.15" >1500</text>
<text x="532.80" y="342.80" font-size="9.5" text-anchor="middle" stroke="#111" stroke-width="0.15" >2000</text>
</g>
<text x="460.60" y="209.50" font-size="9.5" text-anchor="middle" stroke="#111" stroke-width="0.15" >Longitude (degree)</text>
<text x="460.60" y="356.20" font-size="9.5" text-anchor="middle" stroke="#111" stroke-width="0.15" >Flight Time (seconds)</text>
<text x="39.20" y="43.50" font-size="9.5" text-anchor="end" stroke="#111" stroke-width="0.15" >24.5</text>
<text x="39.20" y="75.50" font-size="9.5" text-anchor="end" stroke="#111" stroke-width="0.15" >24.0</text>
<text x="39.20" y="107.50" font-size="9.5" text-anchor="end" stroke="#111" stroke-width="0.15" >23.5</text>
<text x="39.20" y="139.50" font-size="9.5" text-anchor="end" stroke="#111" stroke-width="0.15" >23.0</text>
<text x="39.20" y="171.50" font-size="9.5" text-anchor="end" stroke="#111" stroke-width="0.15" >22.5</text>
<text x="39.20" y="253.00" font-size="9.5" text-anchor="end" stroke="#111" stroke-width="0.15" >2500</text>
<text x="39.20" y="272.50" font-size="9.5" text-anchor="end" stroke="#111" stroke-width="0.15" >0</text>
<text x="39.20" y="303.60" font-size="9.5" text-anchor="end" stroke="#111" stroke-width="0.15" >300</text>
<text x="39.20" y="320.40" font-size="9.5" text-anchor="end" stroke="#111" stroke-width="0.15" >200</text>
<text x="0" y="0" font-size="9.5" text-anchor="middle" stroke="#111" stroke-width="0.15" transform="translate(17.30,112.20) rotate(-90)">Latitude (degree)</text>
<text x="0" y="0" font-size="9.1" text-anchor="middle" stroke="#111" stroke-width="0.15" transform="translate(15.00,253.20) rotate(-90)">Altitude (meters)</text>
<text x="0" y="0" font-size="9.5" text-anchor="middle" stroke="#111" stroke-width="0.15" transform="translate(17.40,310.30) rotate(-90)">GS (kt)</text>
<text x="110.90" y="374.80" font-size="11.6" text-anchor="middle" stroke="#111" stroke-width="0.15" >(a) t:0 s</text>
<text x="279.90" y="374.80" font-size="11.6" text-anchor="middle" stroke="#111" stroke-width="0.15" >(b) t:260 s</text>
<text x="448.60" y="374.80" font-size="11.6" text-anchor="middle" stroke="#111" stroke-width="0.15" >(c) t:590 s</text>
<rect x="279.7" y="7.1" width="255.8" height="28.8" rx="1.5" fill="#fff" stroke="#d0d0d0" stroke-width="0.8"/>
<line x1="283.5" y1="13.8" x2="300.8" y2="13.8" stroke="#dc143c" stroke-width="1.9" stroke-dasharray="7.1,3.1"/>
<line x1="282.6" y1="27.3" x2="303.9" y2="27.3" stroke="#f5a623" stroke-width="1.5" stroke-opacity="0.6"/>
<line x1="410.8" y1="13.6" x2="431.7" y2="13.6" stroke="#62aee6" stroke-width="1.7"/>
<circle cx="421.1" cy="27.4" r="3.3" fill="#000"/>
<text x="310.70" y="17.90" font-size="9.5" text-anchor="start" stroke="#111" stroke-width="0.15" >Original Flight Route</text>
<text x="310.70" y="31.20" font-size="9.5" text-anchor="start" stroke="#111" stroke-width="0.15" >Connection Section</text>
<text x="438.70" y="17.90" font-size="9.5" text-anchor="start" stroke="#111" stroke-width="0.15" >Alternative Flight Route</text>
<text x="438.70" y="31.20" font-size="9.5" text-anchor="start" stroke="#111" stroke-width="0.15" >Current Position</text>
</svg></body></html>
